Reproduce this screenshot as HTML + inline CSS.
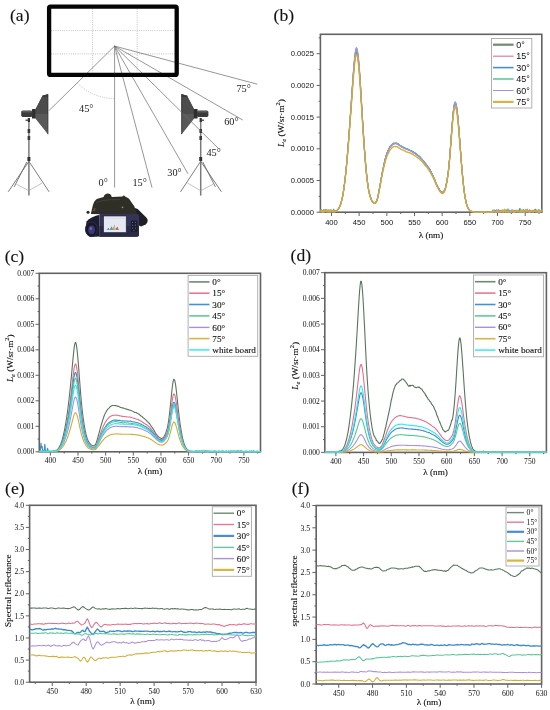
<!DOCTYPE html>
<html><head><meta charset="utf-8"><title>Figure</title>
<style>html,body{margin:0;padding:0;background:#fff;} svg{display:block;} text.b{stroke:#111;stroke-width:0.12px;paint-order:stroke;}</style></head>
<body><svg width="550" height="710" viewBox="0 0 550 710">
<rect width="550" height="710" fill="#fff"/>
<text class="b" x="10.00" y="20.60" font-size="17.6" font-family='"Liberation Serif", "Times New Roman", serif' text-anchor="start" fill="#111" >(a)</text>
<g stroke="#b5b5b5" stroke-width="0.8" stroke-dasharray="1,1.2" fill="none">
<path d="M51,30.6H174.5 M51,53.9H174.5 M92.6,8.7V72.7 M137.2,8.7V72.7"/>
</g>
<path d="M77.48,83.22A52.5,52.5 0 0 0 114.60,98.60" fill="none" stroke="#b0b0b0" stroke-width="0.8" stroke-dasharray="1,1.2"/>
<text x="79" y="111.5" font-size="10.3" font-family='"Liberation Serif", "Times New Roman", serif' fill="#222">45°</text>
<text x="98.6" y="186.3" font-size="10.3" font-family='"Liberation Serif", "Times New Roman", serif' fill="#222">0°</text>
<text x="132.4" y="186.3" font-size="10.3" font-family='"Liberation Serif", "Times New Roman", serif' fill="#222">15°</text>
<text x="167.3" y="176" font-size="10.3" font-family='"Liberation Serif", "Times New Roman", serif' fill="#222">30°</text>
<text x="206.4" y="155.5" font-size="10.3" font-family='"Liberation Serif", "Times New Roman", serif' fill="#222">45°</text>
<text x="224.2" y="124.5" font-size="10.3" font-family='"Liberation Serif", "Times New Roman", serif' fill="#222">60°</text>
<text x="236.4" y="91.8" font-size="10.3" font-family='"Liberation Serif", "Times New Roman", serif' fill="#222">75°</text>

    <g>
      <!-- tripod -->
      <path d="M28.9,121V195.6" stroke="#7a7a7a" stroke-width="1.5"/>
      <path d="M28.9,161.3L8.2,191.8 M28.9,161.3L49.1,191.8 M26.8,162L14.2,186.9" stroke="#6e6e6e" stroke-width="0.9"/>
      <path d="M28.9,190.7L16.4,184.2 M28.9,190.7L42,183.1" stroke="#9a9a9a" stroke-width="0.6"/>
      <rect x="27.4" y="157" width="3" height="4" fill="#333"/>
      <rect x="27.6" y="129" width="2.6" height="4" fill="#3a3a3a"/>
      <rect x="27.6" y="136" width="2.6" height="4" fill="#3a3a3a"/>
      <path d="M25.5,120.2H29.5" stroke="#333" stroke-width="1.2"/>
      <rect x="27.8" y="118" width="2.2" height="4" fill="#333"/>
      <!-- softbox -->
      <path d="M35.6,109 C38.5,104 40.5,99.5 42.4,95.8 L47.9,94.3 L47.9,134.2 L35.6,118.8 Z" fill="#595959"/>
      <path d="M35.6,109 C38.5,104 40.5,99.5 42.4,95.8 L47.9,94.3 L47.9,114 L35.6,114 Z" fill="#4c4c4c"/>
      <path d="M42.4,95.8 L47.9,94.3 L47.9,96.5 L43.5,97.5Z" fill="#3a3a3a"/>
      <path d="M47.9,94.3V134.2" stroke="#333" stroke-width="0.9"/>
      <!-- ring and head -->
      <rect x="32" y="109" width="3.8" height="9.6" rx="0.6" fill="#2e2e2e"/>
      <rect x="21.2" y="110.5" width="11.4" height="6.4" rx="1.6" fill="#3a3a3a"/>
      <rect x="21.6" y="111" width="10.8" height="1.6" rx="0.8" fill="#5a5a5a"/>
    </g>
<g transform="translate(229.6,0) scale(-1,1)">
    <g>
      <!-- tripod -->
      <path d="M28.9,121V195.6" stroke="#7a7a7a" stroke-width="1.5"/>
      <path d="M28.9,161.3L8.2,191.8 M28.9,161.3L49.1,191.8 M26.8,162L14.2,186.9" stroke="#6e6e6e" stroke-width="0.9"/>
      <path d="M28.9,190.7L16.4,184.2 M28.9,190.7L42,183.1" stroke="#9a9a9a" stroke-width="0.6"/>
      <rect x="27.4" y="157" width="3" height="4" fill="#333"/>
      <rect x="27.6" y="129" width="2.6" height="4" fill="#3a3a3a"/>
      <rect x="27.6" y="136" width="2.6" height="4" fill="#3a3a3a"/>
      <path d="M25.5,120.2H29.5" stroke="#333" stroke-width="1.2"/>
      <rect x="27.8" y="118" width="2.2" height="4" fill="#333"/>
      <!-- softbox -->
      <path d="M35.6,109 C38.5,104 40.5,99.5 42.4,95.8 L47.9,94.3 L47.9,134.2 L35.6,118.8 Z" fill="#595959"/>
      <path d="M35.6,109 C38.5,104 40.5,99.5 42.4,95.8 L47.9,94.3 L47.9,114 L35.6,114 Z" fill="#4c4c4c"/>
      <path d="M42.4,95.8 L47.9,94.3 L47.9,96.5 L43.5,97.5Z" fill="#3a3a3a"/>
      <path d="M47.9,94.3V134.2" stroke="#333" stroke-width="0.9"/>
      <!-- ring and head -->
      <rect x="32" y="109" width="3.8" height="9.6" rx="0.6" fill="#2e2e2e"/>
      <rect x="21.2" y="110.5" width="11.4" height="6.4" rx="1.6" fill="#3a3a3a"/>
      <rect x="21.6" y="111" width="10.8" height="1.6" rx="0.8" fill="#5a5a5a"/>
    </g></g>
<g stroke="#6a6a6a" stroke-width="0.7" fill="none">
<path d="M114.6,46.1L49,110.6 M114.6,46.1V187.6 M114.6,46.1L152,187.6 M114.6,46.1L188,173.8 M114.6,46.1L219,149 M114.6,46.1L242.7,120 M114.6,46.1L257.3,84.2"/>
</g>
<rect x="49.1" y="6.7" width="127.6" height="68.2" rx="1.5" fill="none" stroke="#050505" stroke-width="4.3"/>

    <g>
      <path d="M133.6,207.6 L137.7,209 L145.8,217 C147.6,218.6 148.3,220.6 147.2,222.6 L145.8,224.5 L141,226.5 L136,224 Z" fill="#1f1f26"/>
      <path d="M90.8,214 L92.8,205.5 C94,201.5 95.5,199.6 97.5,198.8 L103.6,197 C104,194.6 106,193.4 107.6,193.4 C110,193.4 111.5,194.6 111.7,197 L122.5,196.6 C122.8,195.4 124.6,195.2 125,196.4 C128,197.5 130,199 130.9,201.5 L134.3,206.2 L137.2,215 Z" fill="#302f27"/>
      <path d="M96,203 C100,200.5 108,199.4 120,199.6" stroke="#4a493e" stroke-width="0.7" fill="none"/>
      <circle cx="122.5" cy="207.3" r="0.9" fill="#8a8a80"/>
      <path d="M93.5,208.5 L95.5,208 L95.3,209.2 L93.3,209.7Z" fill="#b04030" opacity="0.8"/>
      <path d="M93.3,209.9 L95.3,209.4 L95.1,210.6 L93.1,211.1Z" fill="#40a050" opacity="0.8"/>
      <path d="M99.5,214 L136.5,214 C138.2,214 139,215 139,216.5 L139,234.5 C139,236 138,236.7 136.5,236.7 L99.5,236.7 Z" fill="#34345a"/>
      <path d="M99.5,226 L139,226 L139,234.5 C139,236 138,236.7 136.5,236.7 L99.5,236.7 Z" fill="#2a2a48"/>
      <rect x="103.6" y="216" width="22.6" height="16.6" fill="#e6e8f2" stroke="#202034" stroke-width="0.6"/>
      <path d="M104.5,218.2 H125" stroke="#c8c8d8" stroke-width="0.4"/>
      <path d="M106.5,229.8 L108.5,228 L110,229.8 L111.5,226.2 L113,229.8 L114.2,224.8 L115.6,229.8 L117.2,226.8 L118.8,229.8 Z" fill="#5a6fd0"/>
      <path d="M110.2,229.8 L111.6,226.4 L113,229.8Z" fill="#44b858"/>
      <path d="M113.4,229.8 L114.4,224.6 L115.6,229.8Z" fill="#e0c040"/>
      <path d="M116,229.8 L117.2,226.6 L118.6,229.8Z" fill="#e05a4a"/>
      <rect x="130.9" y="220.4" width="6.4" height="11.6" rx="1" fill="#1c1c2c"/>
      <g fill="#6a6a88"><circle cx="132.6" cy="222.3" r="0.6"/><circle cx="135.4" cy="222.3" r="0.6"/><circle cx="132.6" cy="225.2" r="0.6"/><circle cx="135.4" cy="225.2" r="0.6"/><circle cx="132.6" cy="228.1" r="0.6"/><circle cx="135.4" cy="228.1" r="0.6"/><circle cx="134" cy="230.6" r="0.6"/></g>
      <path d="M86.5,221.5 C89,218.5 95,215.5 99.5,215 L99.5,236.6 L91,237 C88,236.5 86,234 85.4,230 Z" fill="#1d1d30"/>
      <ellipse cx="91.4" cy="229.3" rx="6" ry="7.3" fill="#18182a" stroke="#303050" stroke-width="0.8"/>
      <ellipse cx="91.6" cy="229.8" rx="3.4" ry="4.4" fill="#3a3a78"/>
      <ellipse cx="90.8" cy="228.6" rx="1.2" ry="1.6" fill="#6a6ab0"/>
      <circle cx="88" cy="212.3" r="1.5" fill="#26262a"/>
    </g>
<text class="b" x="273.60" y="20.70" font-size="17.6" font-family='"Liberation Serif", "Times New Roman", serif' text-anchor="start" fill="#111" >(b)</text>
<g clip-path="none">
<rect x="320.40" y="34.30" width="221.40" height="177.90" fill="none" stroke="#636363" stroke-width="1.6"/>
<path d="M331.47,212.20v3.8 M359.14,212.20v3.8 M386.82,212.20v3.8 M414.49,212.20v3.8 M442.17,212.20v3.8 M469.84,212.20v3.8 M497.52,212.20v3.8 M525.19,212.20v3.8 M345.31,212.20v1.8 M372.98,212.20v1.8 M400.66,212.20v1.8 M428.33,212.20v1.8 M456.01,212.20v1.8 M483.68,212.20v1.8 M511.36,212.20v1.8 M539.03,212.20v1.8 M320.40,212.20h-3.8 M320.40,180.51h-3.8 M320.40,148.81h-3.8 M320.40,117.12h-3.8 M320.40,85.43h-3.8 M320.40,53.73h-3.8 M320.40,196.35h-1.8 M320.40,164.66h-1.8 M320.40,132.97h-1.8 M320.40,101.27h-1.8 M320.40,69.58h-1.8 M320.40,37.89h-1.8" stroke="#636363" stroke-width="1" fill="none"/>
<text x="331.47" y="224.60" font-size="7.6" font-family='"Liberation Sans", Arial, sans-serif' text-anchor="middle" fill="#111" >400</text>
<text x="359.14" y="224.60" font-size="7.6" font-family='"Liberation Sans", Arial, sans-serif' text-anchor="middle" fill="#111" >450</text>
<text x="386.82" y="224.60" font-size="7.6" font-family='"Liberation Sans", Arial, sans-serif' text-anchor="middle" fill="#111" >500</text>
<text x="414.49" y="224.60" font-size="7.6" font-family='"Liberation Sans", Arial, sans-serif' text-anchor="middle" fill="#111" >550</text>
<text x="442.17" y="224.60" font-size="7.6" font-family='"Liberation Sans", Arial, sans-serif' text-anchor="middle" fill="#111" >600</text>
<text x="469.84" y="224.60" font-size="7.6" font-family='"Liberation Sans", Arial, sans-serif' text-anchor="middle" fill="#111" >650</text>
<text x="497.52" y="224.60" font-size="7.6" font-family='"Liberation Sans", Arial, sans-serif' text-anchor="middle" fill="#111" >700</text>
<text x="525.19" y="224.60" font-size="7.6" font-family='"Liberation Sans", Arial, sans-serif' text-anchor="middle" fill="#111" >750</text>
<text x="313.90" y="214.86" font-size="7.6" font-family='"Liberation Sans", Arial, sans-serif' text-anchor="end" fill="#111" >0.0000</text>
<text x="313.90" y="183.17" font-size="7.6" font-family='"Liberation Sans", Arial, sans-serif' text-anchor="end" fill="#111" >0.0005</text>
<text x="313.90" y="151.47" font-size="7.6" font-family='"Liberation Sans", Arial, sans-serif' text-anchor="end" fill="#111" >0.0010</text>
<text x="313.90" y="119.78" font-size="7.6" font-family='"Liberation Sans", Arial, sans-serif' text-anchor="end" fill="#111" >0.0015</text>
<text x="313.90" y="88.09" font-size="7.6" font-family='"Liberation Sans", Arial, sans-serif' text-anchor="end" fill="#111" >0.0020</text>
<text x="313.90" y="56.39" font-size="7.6" font-family='"Liberation Sans", Arial, sans-serif' text-anchor="end" fill="#111" >0.0025</text>
</g>
<polyline points="320.40,210.96 320.95,211.98 321.51,211.36 322.06,211.61 322.61,211.10 323.17,210.95 323.72,211.32 324.27,211.30 324.83,211.31 325.38,210.97 325.94,209.73 326.49,211.59 327.04,212.20 327.60,210.25 328.15,210.76 328.70,211.89 329.26,211.51 329.81,212.20 330.36,211.68 330.92,209.96 331.47,211.05 332.02,210.60 332.58,211.81 333.13,211.18 333.68,210.20 334.24,211.87 334.79,211.66 335.34,211.33 335.90,211.03 336.45,210.77 337.00,210.50 337.56,210.02 338.11,209.40 338.67,208.53 339.22,207.52 339.77,206.36 340.33,204.98 340.88,203.40 341.43,201.51 341.99,199.32 342.54,196.79 343.09,193.75 343.65,190.30 344.20,186.46 344.75,182.16 345.31,177.46 345.86,172.34 346.41,166.79 346.97,160.81 347.52,154.44 348.07,147.74 348.63,140.78 349.18,133.51 349.74,126.08 350.29,118.59 350.84,110.92 351.40,103.20 351.95,95.28 352.50,87.51 353.06,79.99 353.61,72.91 354.16,66.38 354.72,60.71 355.27,56.34 355.82,53.49 356.38,52.22 356.93,52.63 357.48,54.82 358.04,58.41 358.59,63.27 359.14,69.35 359.70,76.52 360.25,84.51 360.81,93.20 361.36,102.41 361.91,111.65 362.47,120.62 363.02,129.10 363.57,137.44 364.13,145.43 364.68,153.05 365.23,160.12 365.79,166.63 366.34,172.58 366.89,177.67 367.45,182.15 368.00,186.16 368.55,189.73 369.11,192.61 369.66,194.86 370.21,196.66 370.77,198.23 371.32,199.57 371.88,200.71 372.43,201.64 372.98,202.25 373.54,202.62 374.09,202.72 374.64,202.75 375.20,202.73 375.75,202.45 376.30,201.75 376.86,200.58 377.41,198.86 377.96,196.49 378.52,193.69 379.07,190.67 379.62,187.73 380.18,184.60 380.73,181.61 381.28,178.31 381.84,175.21 382.39,172.12 382.95,169.50 383.50,166.97 384.05,164.38 384.61,161.94 385.16,159.42 385.71,157.42 386.27,155.39 386.82,153.91 387.37,152.54 387.93,151.26 388.48,149.98 389.03,148.76 389.59,147.76 390.14,146.96 390.69,146.28 391.25,145.73 391.80,145.15 392.35,144.65 392.91,144.24 393.46,143.91 394.02,143.65 394.57,143.57 395.12,143.48 395.68,143.40 396.23,143.40 396.78,143.50 397.34,143.85 397.89,144.08 398.44,144.40 399.00,144.73 399.55,145.24 400.10,145.68 400.66,146.01 401.21,146.15 401.76,146.52 402.32,146.74 402.87,147.35 403.42,147.63 403.98,148.04 404.53,148.12 405.09,148.35 405.64,148.52 406.19,148.56 406.75,148.73 407.30,148.84 407.85,149.19 408.41,149.40 408.96,149.92 409.51,150.16 410.07,150.39 410.62,150.56 411.17,150.90 411.73,151.31 412.28,151.35 412.83,151.70 413.39,152.02 413.94,152.76 414.49,153.16 415.05,153.45 415.60,153.72 416.16,154.20 416.71,154.64 417.26,154.94 417.82,155.13 418.37,155.53 418.92,156.06 419.48,156.36 420.03,156.97 420.58,157.46 421.14,158.39 421.69,159.02 422.24,159.82 422.80,160.35 423.35,161.00 423.90,161.64 424.46,162.52 425.01,163.16 425.56,163.74 426.12,164.24 426.67,165.03 427.23,165.78 427.78,166.52 428.33,167.23 428.89,167.95 429.44,168.87 429.99,169.79 430.55,170.99 431.10,171.82 431.65,172.99 432.21,173.98 432.76,175.28 433.31,176.49 433.87,177.77 434.42,179.06 434.97,180.35 435.53,181.74 436.08,183.17 436.63,184.50 437.19,185.69 437.74,186.76 438.30,187.73 438.85,188.64 439.40,189.61 439.96,190.52 440.51,191.23 441.06,191.74 441.62,191.99 442.17,192.24 442.72,192.19 443.28,191.95 443.83,191.36 444.38,190.65 444.94,189.43 445.49,187.70 446.04,185.19 446.60,182.50 447.15,179.45 447.70,176.18 448.26,172.34 448.81,167.44 449.37,161.55 449.92,154.59 450.47,147.55 451.03,140.06 451.58,132.63 452.13,125.42 452.69,118.75 453.24,113.05 453.79,108.25 454.35,105.19 454.90,103.52 455.45,103.57 456.01,104.93 456.56,107.50 457.11,111.17 457.67,115.95 458.22,121.70 458.77,128.19 459.33,135.14 459.88,142.51 460.44,150.16 460.99,157.45 461.54,164.46 462.10,170.97 462.65,177.08 463.20,182.58 463.76,187.66 464.31,192.07 464.86,195.92 465.42,198.93 465.97,201.64 466.52,203.76 467.08,205.69 467.63,207.17 468.18,208.43 468.74,209.29 469.29,209.97 469.84,210.36 470.40,210.83 470.95,211.11 471.51,211.53 472.06,211.74 472.61,211.92 473.17,212.04 473.72,211.99 474.27,212.06 474.83,212.02 475.38,212.04 475.93,211.89 476.49,211.91 477.04,212.12 477.59,212.20 478.15,212.20 478.70,212.04 479.25,212.03 479.81,212.10 480.36,212.13 480.91,212.05 481.47,212.01 482.02,212.06 482.58,212.12 483.13,211.92 483.68,211.99 484.24,212.05 484.79,212.20 485.34,212.17 485.90,212.16 486.45,212.12 487.00,212.11 487.56,211.94 488.11,211.99 488.66,212.08 489.22,212.20 489.77,212.20 490.32,212.20 490.88,212.20 491.43,212.20 491.98,211.99 492.54,211.22 493.09,211.65 493.65,211.52 494.20,210.22 494.75,211.72 495.31,212.20 495.86,211.73 496.41,211.85 496.97,211.74 497.52,210.69 498.07,212.20 498.63,209.79 499.18,210.63 499.73,211.97 500.29,211.96 500.84,210.74 501.39,210.95 501.95,211.88 502.50,211.85 503.05,211.79 503.61,211.36 504.16,212.20 504.72,211.21 505.27,210.79 505.82,211.13 506.38,210.30 506.93,211.66 507.48,212.06 508.04,211.97 508.59,211.94 509.14,210.19 509.70,212.17 510.25,211.97 510.80,211.72 511.36,211.82 511.91,211.78 512.46,211.68 513.02,210.59 513.57,211.72 514.12,211.57 514.68,211.80 515.23,210.88 515.79,211.08 516.34,211.94 516.89,210.10 517.45,211.17 518.00,211.99 518.55,211.31 519.11,211.23 519.66,211.11 520.21,209.91 520.77,210.24 521.32,211.36 521.87,211.81 522.43,210.30 522.98,211.93 523.53,210.78 524.09,211.48 524.64,210.98 525.19,210.78 525.75,209.91 526.30,211.97 526.86,211.90 527.41,211.42 527.96,211.79 528.52,211.42 529.07,210.95 529.62,209.92 530.18,211.22 530.73,211.82 531.28,211.21 531.84,212.20 532.39,210.68 532.94,211.49 533.50,210.59 534.05,211.43 534.60,211.68 535.16,209.30 535.71,211.15 536.26,211.01 536.82,209.92 537.37,211.05 537.93,211.79 538.48,211.68 539.03,210.73 539.59,211.57 540.14,211.08 540.69,211.88 541.25,211.99 541.80,211.03" fill="none" stroke="#56765b" stroke-width="1.1" stroke-linejoin="round" opacity="1"/>
<polyline points="320.40,211.24 320.95,209.77 321.51,211.42 322.06,211.33 322.61,211.90 323.17,211.79 323.72,210.25 324.27,210.93 324.83,211.44 325.38,211.39 325.94,211.23 326.49,211.00 327.04,210.29 327.60,211.81 328.15,211.69 328.70,210.17 329.26,212.00 329.81,210.27 330.36,211.75 330.92,210.77 331.47,212.08 332.02,211.19 332.58,211.88 333.13,212.05 333.68,210.42 334.24,211.90 334.79,211.71 335.34,211.55 335.90,211.27 336.45,210.85 337.00,210.38 337.56,209.91 338.11,209.30 338.67,208.47 339.22,207.50 339.77,206.34 340.33,204.94 340.88,203.28 341.43,201.41 341.99,199.18 342.54,196.53 343.09,193.41 343.65,190.06 344.20,186.24 344.75,182.01 345.31,177.26 345.86,172.00 346.41,166.27 346.97,160.15 347.52,153.64 348.07,146.84 348.63,139.71 349.18,132.46 349.74,124.94 350.29,117.36 350.84,109.54 351.40,101.69 351.95,93.84 352.50,86.03 353.06,78.43 353.61,71.05 354.16,64.51 354.72,58.86 355.27,54.44 355.82,51.46 356.38,50.08 356.93,50.59 357.48,52.79 358.04,56.54 358.59,61.47 359.14,67.64 359.70,74.82 360.25,82.91 360.81,91.67 361.36,100.81 361.91,110.25 362.47,119.32 363.02,128.09 363.57,136.41 364.13,144.67 364.68,152.34 365.23,159.60 365.79,166.06 366.34,171.98 366.89,177.27 367.45,181.97 368.00,186.16 368.55,189.49 369.11,192.25 369.66,194.38 370.21,196.40 370.77,198.15 371.32,199.65 371.88,200.57 372.43,201.36 372.98,202.07 373.54,202.57 374.09,202.84 374.64,202.92 375.20,202.94 375.75,202.58 376.30,201.79 376.86,200.49 377.41,198.75 377.96,196.55 378.52,193.84 379.07,190.80 379.62,187.69 380.18,184.68 380.73,181.54 381.28,178.36 381.84,175.06 382.39,172.21 382.95,169.50 383.50,167.08 384.05,164.43 384.61,161.77 385.16,159.43 385.71,157.49 386.27,155.78 386.82,154.14 387.37,152.64 387.93,151.37 388.48,150.09 389.03,148.90 389.59,147.91 390.14,147.01 390.69,146.36 391.25,145.64 391.80,145.24 392.35,144.78 392.91,144.34 393.46,143.96 394.02,143.67 394.57,143.62 395.12,143.46 395.68,143.46 396.23,143.51 396.78,143.77 397.34,144.10 397.89,144.52 398.44,144.87 399.00,145.27 399.55,145.63 400.10,145.99 400.66,146.27 401.21,146.63 401.76,147.13 402.32,147.50 402.87,147.78 403.42,147.84 403.98,148.05 404.53,148.35 405.09,148.71 405.64,148.81 406.19,148.91 406.75,148.92 407.30,149.12 407.85,149.47 408.41,149.82 408.96,150.20 409.51,150.35 410.07,150.61 410.62,150.91 411.17,151.23 411.73,151.70 412.28,152.04 412.83,152.44 413.39,152.65 413.94,153.02 414.49,153.27 415.05,153.59 415.60,153.91 416.16,154.33 416.71,154.79 417.26,155.27 417.82,155.74 418.37,156.25 418.92,156.66 419.48,157.15 420.03,157.61 420.58,158.32 421.14,158.85 421.69,159.59 422.24,160.18 422.80,160.92 423.35,161.57 423.90,162.17 424.46,162.90 425.01,163.66 425.56,164.48 426.12,165.05 426.67,165.70 427.23,166.46 427.78,167.31 428.33,168.21 428.89,168.74 429.44,169.70 429.99,170.41 430.55,171.47 431.10,172.48 431.65,173.58 432.21,174.67 432.76,175.67 433.31,176.87 433.87,178.11 434.42,179.42 434.97,180.75 435.53,182.19 436.08,183.48 436.63,184.85 437.19,185.96 437.74,187.17 438.30,188.24 438.85,189.28 439.40,190.02 439.96,190.67 440.51,191.42 441.06,192.03 441.62,192.52 442.17,192.68 442.72,192.69 443.28,192.56 443.83,191.99 444.38,191.25 444.94,189.86 445.49,188.23 446.04,186.00 446.60,183.34 447.15,180.13 447.70,176.43 448.26,172.35 448.81,167.50 449.37,161.86 449.92,155.35 450.47,148.21 451.03,140.66 451.58,133.04 452.13,125.83 452.69,119.20 453.24,113.49 453.79,109.03 454.35,105.87 454.90,104.13 455.45,103.98 456.01,105.23 456.56,107.70 457.11,111.52 457.67,116.42 458.22,122.25 458.77,128.62 459.33,135.55 459.88,142.91 460.44,150.24 460.99,157.39 461.54,164.27 462.10,170.98 462.65,177.20 463.20,182.71 463.76,187.58 464.31,192.03 464.86,195.76 465.42,199.09 465.97,201.67 466.52,204.01 467.08,205.80 467.63,207.18 468.18,208.29 468.74,209.18 469.29,209.92 469.84,210.51 470.40,210.97 470.95,211.37 471.51,211.54 472.06,211.51 472.61,211.57 473.17,211.68 473.72,211.77 474.27,211.86 474.83,211.81 475.38,211.87 475.93,211.86 476.49,211.94 477.04,212.05 477.59,212.15 478.15,212.09 478.70,211.99 479.25,211.97 479.81,212.08 480.36,212.15 480.91,212.11 481.47,212.20 482.02,212.15 482.58,212.20 483.13,212.15 483.68,212.20 484.24,212.20 484.79,212.20 485.34,212.20 485.90,212.20 486.45,212.20 487.00,212.20 487.56,211.96 488.11,211.98 488.66,211.98 489.22,212.20 489.77,212.17 490.32,212.20 490.88,212.20 491.43,212.20 491.98,212.20 492.54,210.79 493.09,211.78 493.65,211.10 494.20,209.94 494.75,210.94 495.31,211.13 495.86,211.05 496.41,211.86 496.97,210.97 497.52,210.93 498.07,210.27 498.63,211.45 499.18,210.95 499.73,211.19 500.29,211.25 500.84,210.92 501.39,211.58 501.95,211.69 502.50,210.38 503.05,211.75 503.61,211.61 504.16,211.83 504.72,210.87 505.27,211.28 505.82,212.00 506.38,209.87 506.93,211.16 507.48,211.27 508.04,211.51 508.59,211.14 509.14,210.78 509.70,210.54 510.25,211.22 510.80,210.71 511.36,212.20 511.91,211.29 512.46,211.87 513.02,211.60 513.57,210.76 514.12,210.25 514.68,210.56 515.23,211.24 515.79,211.55 516.34,211.88 516.89,211.52 517.45,211.62 518.00,211.74 518.55,210.86 519.11,210.24 519.66,209.60 520.21,212.10 520.77,211.85 521.32,211.57 521.87,210.61 522.43,211.22 522.98,211.08 523.53,212.16 524.09,212.10 524.64,211.31 525.19,211.47 525.75,211.73 526.30,211.93 526.86,210.56 527.41,209.15 527.96,212.07 528.52,211.85 529.07,211.40 529.62,212.13 530.18,211.10 530.73,211.36 531.28,211.73 531.84,211.29 532.39,210.71 532.94,211.58 533.50,211.16 534.05,211.48 534.60,210.54 535.16,212.07 535.71,211.89 536.26,212.10 536.82,210.64 537.37,210.73 537.93,212.09 538.48,211.38 539.03,212.13 539.59,211.56 540.14,211.20 540.69,211.98 541.25,211.17 541.80,210.45" fill="none" stroke="#e3708c" stroke-width="1.1" stroke-linejoin="round" opacity="1"/>
<polyline points="320.40,211.44 320.95,209.65 321.51,211.00 322.06,210.83 322.61,211.47 323.17,211.23 323.72,212.20 324.27,210.93 324.83,210.00 325.38,209.75 325.94,209.98 326.49,210.61 327.04,211.91 327.60,211.63 328.15,211.72 328.70,210.97 329.26,211.45 329.81,211.07 330.36,211.22 330.92,210.47 331.47,211.62 332.02,211.66 332.58,210.48 333.13,210.77 333.68,209.19 334.24,211.81 334.79,211.66 335.34,211.40 335.90,211.21 336.45,210.81 337.00,210.47 337.56,209.90 338.11,209.37 338.67,208.56 339.22,207.59 339.77,206.35 340.33,204.97 340.88,203.30 341.43,201.26 341.99,198.92 342.54,196.31 343.09,193.31 343.65,189.88 344.20,185.91 344.75,181.57 345.31,176.77 345.86,171.64 346.41,166.00 346.97,159.83 347.52,153.25 348.07,146.38 348.63,139.24 349.18,131.89 349.74,124.27 350.29,116.49 350.84,108.53 351.40,100.61 351.95,92.69 352.50,84.74 353.06,77.09 353.61,69.85 354.16,63.31 354.72,57.69 355.27,53.31 355.82,50.36 356.38,48.93 356.93,49.30 357.48,51.64 358.04,55.49 358.59,60.57 359.14,66.72 359.70,73.86 360.25,81.94 360.81,90.72 361.36,100.03 361.91,109.41 362.47,118.68 363.02,127.52 363.57,136.02 364.13,144.12 364.68,151.78 365.23,159.00 365.79,165.60 366.34,171.56 366.89,177.03 367.45,181.80 368.00,185.88 368.55,189.21 369.11,192.16 369.66,194.47 370.21,196.45 370.77,198.00 371.32,199.47 371.88,200.54 372.43,201.49 372.98,202.06 373.54,202.52 374.09,202.72 374.64,202.92 375.20,203.03 375.75,202.68 376.30,201.89 376.86,200.52 377.41,198.71 377.96,196.40 378.52,193.59 379.07,190.53 379.62,187.47 380.18,184.39 380.73,181.27 381.28,177.96 381.84,174.88 382.39,171.93 382.95,169.37 383.50,166.57 384.05,163.97 384.61,161.29 385.16,159.08 385.71,157.10 386.27,155.26 386.82,153.55 387.37,152.05 387.93,150.87 388.48,149.66 389.03,148.51 389.59,147.25 390.14,146.46 390.69,145.72 391.25,145.21 391.80,144.65 392.35,144.14 392.91,143.60 393.46,143.21 394.02,143.04 394.57,143.18 395.12,143.11 395.68,143.03 396.23,143.00 396.78,143.22 397.34,143.47 397.89,143.74 398.44,144.09 399.00,144.42 399.55,145.00 400.10,145.43 400.66,145.89 401.21,146.11 401.76,146.46 402.32,146.76 402.87,146.99 403.42,147.16 403.98,147.42 404.53,147.67 405.09,147.90 405.64,148.21 406.19,148.50 406.75,148.64 407.30,148.85 407.85,149.05 408.41,149.42 408.96,149.65 409.51,150.00 410.07,150.23 410.62,150.41 411.17,150.59 411.73,151.02 412.28,151.38 412.83,151.70 413.39,151.85 413.94,152.12 414.49,152.45 415.05,152.81 415.60,153.18 416.16,153.71 416.71,154.20 417.26,154.74 417.82,155.31 418.37,155.91 418.92,156.16 419.48,156.57 420.03,157.16 420.58,157.96 421.14,158.35 421.69,158.79 422.24,159.36 422.80,160.16 423.35,160.83 423.90,161.45 424.46,162.07 425.01,162.79 425.56,163.55 426.12,164.27 426.67,165.02 427.23,165.82 427.78,166.63 428.33,167.44 428.89,168.16 429.44,169.03 429.99,169.92 430.55,171.11 431.10,172.23 431.65,173.15 432.21,174.24 432.76,175.28 433.31,176.65 433.87,177.76 434.42,179.04 434.97,180.42 435.53,181.86 436.08,183.25 436.63,184.46 437.19,185.63 437.74,186.79 438.30,187.82 438.85,188.72 439.40,189.59 439.96,190.54 440.51,191.30 441.06,191.87 441.62,192.15 442.17,192.22 442.72,192.20 443.28,191.95 443.83,191.63 444.38,190.79 444.94,189.58 445.49,187.57 446.04,185.22 446.60,182.52 447.15,179.43 447.70,176.11 448.26,171.94 448.81,167.14 449.37,161.11 449.92,154.46 450.47,147.25 451.03,139.75 451.58,132.09 452.13,125.00 452.69,118.31 453.24,112.55 453.79,107.75 454.35,104.59 454.90,102.92 455.45,102.88 456.01,104.03 456.56,106.56 457.11,110.35 457.67,115.51 458.22,121.47 458.77,128.10 459.33,134.92 459.88,142.09 460.44,149.41 460.99,156.62 461.54,163.69 462.10,170.33 462.65,176.74 463.20,182.46 463.76,187.64 464.31,191.88 464.86,195.67 465.42,198.67 465.97,201.44 466.52,203.84 467.08,205.71 467.63,207.11 468.18,207.97 468.74,209.00 469.29,209.85 469.84,210.52 470.40,210.93 470.95,211.27 471.51,211.59 472.06,211.47 472.61,211.54 473.17,211.64 473.72,211.96 474.27,211.96 474.83,211.83 475.38,211.75 475.93,211.72 476.49,211.85 477.04,211.93 477.59,212.06 478.15,212.20 478.70,212.06 479.25,212.06 479.81,211.88 480.36,212.07 480.91,212.05 481.47,212.15 482.02,212.20 482.58,212.20 483.13,212.20 483.68,212.05 484.24,212.01 484.79,211.97 485.34,212.01 485.90,212.05 486.45,212.20 487.00,212.20 487.56,212.20 488.11,212.08 488.66,211.98 489.22,212.12 489.77,212.18 490.32,212.08 490.88,212.04 491.43,211.89 491.98,212.00 492.54,211.84 493.09,210.97 493.65,211.08 494.20,211.74 494.75,211.09 495.31,210.72 495.86,210.37 496.41,210.29 496.97,211.08 497.52,211.33 498.07,211.47 498.63,211.45 499.18,211.84 499.73,212.09 500.29,212.20 500.84,210.22 501.39,211.43 501.95,211.05 502.50,210.54 503.05,210.68 503.61,211.72 504.16,210.78 504.72,211.42 505.27,211.54 505.82,211.32 506.38,211.54 506.93,211.20 507.48,211.47 508.04,209.42 508.59,211.36 509.14,211.09 509.70,211.47 510.25,211.77 510.80,211.25 511.36,212.16 511.91,211.53 512.46,211.46 513.02,211.45 513.57,212.06 514.12,211.63 514.68,211.42 515.23,210.38 515.79,211.80 516.34,210.51 516.89,211.81 517.45,211.75 518.00,211.50 518.55,211.09 519.11,211.81 519.66,208.64 520.21,208.84 520.77,210.32 521.32,211.30 521.87,212.20 522.43,211.29 522.98,211.68 523.53,211.60 524.09,210.98 524.64,210.47 525.19,211.74 525.75,211.81 526.30,211.71 526.86,211.59 527.41,212.05 527.96,211.83 528.52,211.42 529.07,212.01 529.62,211.92 530.18,210.68 530.73,211.81 531.28,211.78 531.84,211.86 532.39,211.40 532.94,211.94 533.50,212.00 534.05,211.39 534.60,210.65 535.16,209.40 535.71,211.41 536.26,211.84 536.82,211.87 537.37,212.07 537.93,211.23 538.48,211.37 539.03,211.39 539.59,211.91 540.14,211.50 540.69,211.73 541.25,211.06 541.80,212.03" fill="none" stroke="#3b8bd0" stroke-width="1.1" stroke-linejoin="round" opacity="1"/>
<polyline points="320.40,210.99 320.95,210.75 321.51,211.55 322.06,210.73 322.61,210.90 323.17,210.27 323.72,211.29 324.27,211.45 324.83,209.79 325.38,211.20 325.94,210.40 326.49,210.71 327.04,211.55 327.60,211.29 328.15,211.22 328.70,209.92 329.26,212.20 329.81,211.86 330.36,211.66 330.92,211.85 331.47,210.82 332.02,211.26 332.58,211.64 333.13,209.97 333.68,211.40 334.24,211.70 334.79,211.51 335.34,211.45 335.90,211.14 336.45,210.82 337.00,210.33 337.56,209.86 338.11,209.32 338.67,208.56 339.22,207.54 339.77,206.30 340.33,204.92 340.88,203.39 341.43,201.46 341.99,199.25 342.54,196.59 343.09,193.64 343.65,190.09 344.20,186.18 344.75,181.79 345.31,177.04 345.86,171.87 346.41,166.21 346.97,160.08 347.52,153.60 348.07,146.81 348.63,139.84 349.18,132.48 349.74,124.96 350.29,117.22 350.84,109.45 351.40,101.53 351.95,93.71 352.50,85.93 353.06,78.41 353.61,71.11 354.16,64.55 354.72,58.92 355.27,54.47 355.82,51.36 356.38,49.94 356.93,50.62 357.48,53.03 358.04,56.81 358.59,61.72 359.14,67.87 359.70,74.89 360.25,82.91 360.81,91.73 361.36,101.05 361.91,110.33 362.47,119.33 363.02,128.11 363.57,136.52 364.13,144.64 364.68,152.44 365.23,159.72 365.79,166.24 366.34,171.99 366.89,177.19 367.45,181.96 368.00,186.06 368.55,189.55 369.11,192.38 369.66,194.60 370.21,196.41 370.77,197.93 371.32,199.45 371.88,200.58 372.43,201.42 372.98,202.10 373.54,202.56 374.09,202.91 374.64,202.92 375.20,202.74 375.75,202.35 376.30,201.70 376.86,200.56 377.41,198.88 377.96,196.52 378.52,193.62 379.07,190.67 379.62,187.55 380.18,184.65 380.73,181.38 381.28,178.23 381.84,175.09 382.39,172.21 382.95,169.36 383.50,166.76 384.05,164.23 384.61,161.93 385.16,159.47 385.71,157.35 386.27,155.48 386.82,153.96 387.37,152.28 387.93,150.87 388.48,149.56 389.03,148.61 389.59,147.64 390.14,146.90 390.69,146.19 391.25,145.51 391.80,144.99 392.35,144.24 392.91,143.74 393.46,143.29 394.02,143.35 394.57,143.41 395.12,143.33 395.68,143.35 396.23,143.33 396.78,143.66 397.34,143.84 397.89,144.01 398.44,144.25 399.00,144.58 399.55,145.11 400.10,145.39 400.66,145.75 401.21,146.12 401.76,146.61 402.32,147.02 402.87,147.35 403.42,147.64 403.98,147.89 404.53,148.09 405.09,148.33 405.64,148.59 406.19,148.60 406.75,148.67 407.30,148.87 407.85,149.12 408.41,149.46 408.96,149.91 409.51,150.53 410.07,150.88 410.62,150.94 411.17,151.00 411.73,151.35 412.28,151.60 412.83,152.10 413.39,152.24 413.94,152.65 414.49,152.88 415.05,153.27 415.60,153.68 416.16,154.20 416.71,154.58 417.26,154.94 417.82,155.20 418.37,155.47 418.92,155.94 419.48,156.46 420.03,157.09 420.58,157.73 421.14,158.50 421.69,159.45 422.24,160.01 422.80,160.51 423.35,160.92 423.90,161.74 424.46,162.46 425.01,163.09 425.56,163.77 426.12,164.62 426.67,165.56 427.23,166.21 427.78,166.95 428.33,167.89 428.89,168.99 429.44,169.84 429.99,170.45 430.55,171.20 431.10,172.18 431.65,173.44 432.21,174.59 432.76,175.72 433.31,176.86 433.87,178.11 434.42,179.45 434.97,180.59 435.53,182.13 436.08,183.39 436.63,184.91 437.19,185.84 437.74,186.99 438.30,187.93 438.85,188.96 439.40,189.86 439.96,190.63 440.51,191.47 441.06,191.94 441.62,192.42 442.17,192.46 442.72,192.37 443.28,191.97 443.83,191.29 444.38,190.77 444.94,189.68 445.49,187.99 446.04,185.61 446.60,182.85 447.15,179.75 447.70,176.13 448.26,172.17 448.81,167.43 449.37,161.61 449.92,154.82 450.47,147.60 451.03,140.11 451.58,132.71 452.13,125.45 452.69,118.89 453.24,112.95 453.79,108.29 454.35,105.03 454.90,103.32 455.45,103.28 456.01,104.57 456.56,107.20 457.11,111.10 457.67,116.02 458.22,121.87 458.77,128.35 459.33,135.23 459.88,142.72 460.44,150.12 460.99,157.66 461.54,164.53 462.10,171.11 462.65,177.09 463.20,182.54 463.76,187.52 464.31,192.12 464.86,196.07 465.42,199.19 465.97,201.52 466.52,203.64 467.08,205.70 467.63,207.10 468.18,208.43 468.74,209.17 469.29,210.05 469.84,210.39 470.40,210.91 470.95,211.25 471.51,211.41 472.06,211.52 472.61,211.73 473.17,211.92 473.72,211.94 474.27,211.90 474.83,212.01 475.38,212.01 475.93,212.04 476.49,212.09 477.04,212.14 477.59,212.15 478.15,212.06 478.70,212.20 479.25,212.20 479.81,212.20 480.36,212.09 480.91,212.01 481.47,212.04 482.02,212.06 482.58,212.02 483.13,211.90 483.68,211.92 484.24,212.05 484.79,212.15 485.34,212.20 485.90,212.20 486.45,212.20 487.00,212.20 487.56,212.19 488.11,212.15 488.66,212.20 489.22,212.20 489.77,212.20 490.32,212.20 490.88,212.20 491.43,212.20 491.98,212.19 492.54,210.40 493.09,209.89 493.65,211.89 494.20,211.44 494.75,211.53 495.31,212.16 495.86,211.73 496.41,211.96 496.97,212.20 497.52,211.09 498.07,211.92 498.63,210.75 499.18,211.58 499.73,211.00 500.29,212.05 500.84,211.70 501.39,210.32 501.95,211.17 502.50,210.83 503.05,211.98 503.61,210.60 504.16,210.75 504.72,211.19 505.27,210.14 505.82,211.77 506.38,210.99 506.93,210.29 507.48,211.83 508.04,208.72 508.59,212.20 509.14,210.89 509.70,211.53 510.25,211.52 510.80,212.00 511.36,211.77 511.91,211.48 512.46,211.06 513.02,210.06 513.57,211.77 514.12,212.02 514.68,210.48 515.23,211.62 515.79,211.02 516.34,211.27 516.89,210.57 517.45,211.63 518.00,211.77 518.55,210.52 519.11,212.01 519.66,211.28 520.21,212.06 520.77,209.30 521.32,212.08 521.87,211.02 522.43,211.62 522.98,209.95 523.53,209.41 524.09,211.65 524.64,212.19 525.19,212.10 525.75,211.12 526.30,212.00 526.86,212.06 527.41,211.72 527.96,211.11 528.52,211.52 529.07,211.11 529.62,211.70 530.18,211.03 530.73,211.70 531.28,211.26 531.84,211.57 532.39,211.18 532.94,210.99 533.50,212.16 534.05,211.20 534.60,211.52 535.16,211.20 535.71,211.33 536.26,211.51 536.82,210.63 537.37,211.00 537.93,212.20 538.48,212.20 539.03,209.78 539.59,212.04 540.14,211.44 540.69,211.31 541.25,210.75 541.80,209.49" fill="none" stroke="#55c894" stroke-width="1.1" stroke-linejoin="round" opacity="1"/>
<polyline points="320.40,211.57 320.95,211.64 321.51,211.73 322.06,212.20 322.61,212.20 323.17,212.09 323.72,209.63 324.27,211.81 324.83,211.84 325.38,211.55 325.94,210.98 326.49,211.63 327.04,211.99 327.60,211.05 328.15,211.19 328.70,211.09 329.26,210.11 329.81,211.96 330.36,211.18 330.92,211.80 331.47,210.09 332.02,211.59 332.58,211.29 333.13,211.45 333.68,210.22 334.24,211.68 334.79,211.63 335.34,211.41 335.90,211.21 336.45,210.76 337.00,210.38 337.56,209.88 338.11,209.28 338.67,208.53 339.22,207.47 339.77,206.29 340.33,204.79 340.88,203.23 341.43,201.18 341.99,198.93 342.54,196.13 343.09,193.11 343.65,189.66 344.20,185.78 344.75,181.46 345.31,176.53 345.86,171.17 346.41,165.36 346.97,159.16 347.52,152.75 348.07,145.89 348.63,138.76 349.18,131.22 349.74,123.63 350.29,115.82 350.84,107.93 351.40,99.98 351.95,92.07 352.50,84.12 353.06,76.34 353.61,69.00 354.16,62.29 354.72,56.48 355.27,51.91 355.82,48.90 356.38,47.57 356.93,48.08 357.48,50.44 358.04,54.14 358.59,59.10 359.14,65.38 359.70,72.72 360.25,81.00 360.81,89.98 361.36,99.36 361.91,108.75 362.47,117.92 363.02,126.72 363.57,135.36 364.13,143.50 364.68,151.33 365.23,158.61 365.79,165.48 366.34,171.59 366.89,177.01 367.45,181.69 368.00,185.78 368.55,189.11 369.11,191.97 369.66,194.34 370.21,196.48 370.77,198.17 371.32,199.68 371.88,200.69 372.43,201.56 372.98,202.10 373.54,202.56 374.09,202.79 374.64,202.85 375.20,202.78 375.75,202.46 376.30,201.75 376.86,200.50 377.41,198.60 377.96,196.29 378.52,193.50 379.07,190.69 379.62,187.69 380.18,184.81 380.73,181.58 381.28,178.51 381.84,175.42 382.39,172.48 382.95,169.67 383.50,166.98 384.05,164.41 384.61,161.94 385.16,159.53 385.71,157.55 386.27,155.63 386.82,153.98 387.37,152.47 387.93,151.06 388.48,149.95 389.03,148.88 389.59,148.05 390.14,147.10 390.69,146.34 391.25,145.68 391.80,145.11 392.35,144.46 392.91,144.06 393.46,143.90 394.02,143.86 394.57,143.72 395.12,143.64 395.68,143.65 396.23,143.91 396.78,144.03 397.34,144.25 397.89,144.34 398.44,144.65 399.00,144.96 399.55,145.46 400.10,145.82 400.66,146.39 401.21,146.74 401.76,147.06 402.32,147.22 402.87,147.64 403.42,147.97 403.98,148.33 404.53,148.48 405.09,148.73 405.64,148.90 406.19,148.93 406.75,149.27 407.30,149.53 407.85,149.88 408.41,150.15 408.96,150.27 409.51,150.38 410.07,150.55 410.62,150.90 411.17,151.35 411.73,151.58 412.28,151.97 412.83,152.21 413.39,152.66 413.94,152.85 414.49,153.25 415.05,153.33 415.60,153.96 416.16,154.39 416.71,155.10 417.26,155.39 417.82,155.78 418.37,156.21 418.92,156.79 419.48,157.48 420.03,157.93 420.58,158.28 421.14,158.65 421.69,159.28 422.24,160.11 422.80,160.89 423.35,161.68 423.90,162.42 424.46,163.00 425.01,163.61 425.56,164.18 426.12,165.02 426.67,165.63 427.23,166.27 427.78,167.05 428.33,167.95 428.89,168.92 429.44,169.57 429.99,170.32 430.55,171.23 431.10,172.17 431.65,173.35 432.21,174.56 432.76,176.09 433.31,177.30 433.87,178.41 434.42,179.57 434.97,180.86 435.53,182.14 436.08,183.42 436.63,184.65 437.19,185.80 437.74,186.86 438.30,188.03 438.85,189.14 439.40,190.07 439.96,190.66 440.51,191.41 441.06,192.11 441.62,192.63 442.17,192.75 442.72,192.61 443.28,192.28 443.83,191.72 444.38,190.73 444.94,189.57 445.49,187.84 446.04,185.63 446.60,182.86 447.15,179.60 447.70,176.04 448.26,171.90 448.81,166.93 449.37,161.01 449.92,154.13 450.47,146.82 451.03,139.24 451.58,131.70 452.13,124.43 452.69,117.75 453.24,111.91 453.79,107.14 454.35,103.73 454.90,102.06 455.45,101.87 456.01,103.35 456.56,105.89 457.11,109.91 457.67,114.68 458.22,120.67 458.77,127.30 459.33,134.51 459.88,141.72 460.44,149.15 460.99,156.47 461.54,163.62 462.10,170.20 462.65,176.39 463.20,182.01 463.76,187.29 464.31,191.71 464.86,195.71 465.42,198.81 465.97,201.57 466.52,203.78 467.08,205.78 467.63,207.26 468.18,208.34 468.74,209.20 469.29,209.92 469.84,210.49 470.40,210.89 470.95,211.19 471.51,211.37 472.06,211.39 472.61,211.46 473.17,211.62 473.72,211.67 474.27,211.68 474.83,211.70 475.38,211.78 475.93,211.95 476.49,212.01 477.04,212.17 477.59,212.02 478.15,211.96 478.70,211.90 479.25,212.03 479.81,212.08 480.36,212.08 480.91,212.04 481.47,211.86 482.02,211.97 482.58,211.91 483.13,212.02 483.68,212.09 484.24,212.14 484.79,212.07 485.34,211.86 485.90,211.92 486.45,212.03 487.00,212.20 487.56,212.20 488.11,212.20 488.66,212.19 489.22,212.20 489.77,212.20 490.32,212.03 490.88,212.13 491.43,212.15 491.98,212.20 492.54,212.02 493.09,211.60 493.65,212.14 494.20,212.06 494.75,211.66 495.31,211.84 495.86,211.36 496.41,210.64 496.97,209.63 497.52,212.09 498.07,210.75 498.63,211.71 499.18,210.41 499.73,212.07 500.29,211.48 500.84,211.91 501.39,212.04 501.95,212.20 502.50,211.75 503.05,210.39 503.61,210.13 504.16,210.96 504.72,210.90 505.27,211.51 505.82,211.88 506.38,211.68 506.93,211.77 507.48,211.07 508.04,211.41 508.59,211.34 509.14,210.97 509.70,211.86 510.25,210.80 510.80,211.30 511.36,209.80 511.91,212.04 512.46,209.84 513.02,211.21 513.57,211.91 514.12,210.62 514.68,211.20 515.23,211.20 515.79,211.97 516.34,211.81 516.89,211.02 517.45,211.59 518.00,210.76 518.55,211.58 519.11,211.79 519.66,211.51 520.21,211.54 520.77,211.12 521.32,211.53 521.87,211.78 522.43,211.33 522.98,212.08 523.53,210.13 524.09,211.97 524.64,211.31 525.19,210.57 525.75,211.25 526.30,209.99 526.86,211.90 527.41,210.24 527.96,210.30 528.52,210.60 529.07,210.90 529.62,211.96 530.18,211.07 530.73,211.30 531.28,211.01 531.84,211.21 532.39,211.80 532.94,211.21 533.50,211.41 534.05,209.94 534.60,210.84 535.16,211.52 535.71,210.83 536.26,211.68 536.82,211.67 537.37,211.28 537.93,211.86 538.48,209.67 539.03,209.86 539.59,211.29 540.14,212.20 540.69,211.79 541.25,211.63 541.80,210.93" fill="none" stroke="#ad8fe0" stroke-width="1.1" stroke-linejoin="round" opacity="1"/>
<polyline points="320.40,212.20 320.95,210.86 321.51,209.98 322.06,212.12 322.61,211.89 323.17,210.99 323.72,212.12 324.27,211.32 324.83,210.26 325.38,211.46 325.94,210.85 326.49,209.52 327.04,211.00 327.60,211.98 328.15,211.03 328.70,211.91 329.26,210.66 329.81,210.70 330.36,209.73 330.92,211.46 331.47,210.70 332.02,211.29 332.58,211.13 333.13,211.78 333.68,210.33 334.24,211.71 334.79,211.67 335.34,211.47 335.90,211.34 336.45,210.95 337.00,210.57 337.56,209.97 338.11,209.37 338.67,208.56 339.22,207.69 339.77,206.52 340.33,205.15 340.88,203.46 341.43,201.68 341.99,199.59 342.54,197.15 343.09,194.19 343.65,190.76 344.20,186.94 344.75,182.63 345.31,177.98 345.86,172.81 346.41,167.36 346.97,161.53 347.52,155.26 348.07,148.70 348.63,141.84 349.18,134.75 349.74,127.41 350.29,119.81 350.84,112.20 351.40,104.69 351.95,97.09 352.50,89.57 353.06,82.06 353.61,75.00 354.16,68.50 354.72,62.98 355.27,58.71 355.82,55.80 356.38,54.44 356.93,54.84 357.48,57.20 358.04,60.93 358.59,65.81 359.14,71.83 359.70,78.81 360.25,86.72 360.81,95.13 361.36,104.07 361.91,113.05 362.47,121.98 363.02,130.47 363.57,138.69 364.13,146.58 364.68,154.04 365.23,161.04 365.79,167.47 366.34,173.25 366.89,178.23 367.45,182.56 368.00,186.48 368.55,189.82 369.11,192.75 369.66,194.94 370.21,196.79 370.77,198.37 371.32,199.86 371.88,201.19 372.43,202.08 372.98,202.67 373.54,203.07 374.09,203.24 374.64,203.37 375.20,203.24 375.75,202.88 376.30,202.06 376.86,200.86 377.41,199.15 377.96,196.98 378.52,194.42 379.07,191.72 379.62,189.09 380.18,186.09 380.73,182.99 381.28,179.80 381.84,176.75 382.39,173.92 382.95,171.22 383.50,168.82 384.05,166.54 384.61,164.24 385.16,162.01 385.71,159.96 386.27,158.21 386.82,156.70 387.37,155.22 387.93,154.04 388.48,152.86 389.03,151.86 389.59,150.76 390.14,149.87 390.69,149.15 391.25,148.56 391.80,148.09 392.35,147.47 392.91,146.98 393.46,146.62 394.02,146.61 394.57,146.66 395.12,146.56 395.68,146.52 396.23,146.47 396.78,146.55 397.34,146.87 397.89,147.23 398.44,147.64 399.00,147.81 399.55,148.19 400.10,148.58 400.66,149.03 401.21,149.35 401.76,149.65 402.32,149.91 402.87,150.07 403.42,150.33 403.98,150.46 404.53,150.84 405.09,151.05 405.64,151.47 406.19,151.73 406.75,152.06 407.30,152.09 407.85,152.15 408.41,152.39 408.96,152.58 409.51,152.76 410.07,152.89 410.62,153.27 411.17,153.62 411.73,153.99 412.28,154.07 412.83,154.41 413.39,154.64 413.94,155.19 414.49,155.54 415.05,155.95 415.60,156.26 416.16,156.68 416.71,157.07 417.26,157.55 417.82,157.80 418.37,158.22 418.92,158.69 419.48,159.21 420.03,159.74 420.58,160.23 421.14,160.76 421.69,161.22 422.24,161.80 422.80,162.37 423.35,163.07 423.90,163.78 424.46,164.72 425.01,165.37 425.56,165.96 426.12,166.57 426.67,167.12 427.23,167.79 427.78,168.37 428.33,169.35 428.89,170.17 429.44,171.01 429.99,171.92 430.55,172.86 431.10,173.89 431.65,174.91 432.21,175.95 432.76,176.89 433.31,177.83 433.87,179.13 434.42,180.57 434.97,181.82 435.53,183.12 436.08,184.36 436.63,185.67 437.19,186.73 437.74,187.70 438.30,188.85 438.85,189.73 439.40,190.75 439.96,191.42 440.51,192.32 441.06,192.82 441.62,193.21 442.17,193.50 442.72,193.60 443.28,193.39 443.83,192.69 444.38,191.81 444.94,190.57 445.49,188.63 446.04,186.28 446.60,183.61 447.15,180.70 447.70,177.28 448.26,173.35 448.81,168.89 449.37,163.41 449.92,156.86 450.47,149.83 451.03,142.59 451.58,135.37 452.13,128.19 452.69,121.70 453.24,116.17 453.79,111.81 454.35,108.80 454.90,107.11 455.45,106.97 456.01,108.27 456.56,110.97 457.11,114.65 457.67,119.25 458.22,124.85 458.77,131.37 459.33,138.20 459.88,145.10 460.44,152.00 460.99,158.97 461.54,165.94 462.10,172.41 462.65,178.44 463.20,183.76 463.76,188.35 464.31,192.54 464.86,196.11 465.42,199.45 465.97,201.99 466.52,204.05 467.08,205.79 467.63,207.25 468.18,208.49 468.74,209.41 469.29,210.10 469.84,210.54 470.40,210.85 470.95,211.15 471.51,211.55 472.06,211.69 472.61,211.78 473.17,211.60 473.72,211.75 474.27,211.93 474.83,212.20 475.38,212.20 475.93,212.20 476.49,212.06 477.04,212.15 477.59,212.20 478.15,212.17 478.70,212.05 479.25,212.05 479.81,212.16 480.36,212.20 480.91,212.20 481.47,212.20 482.02,212.20 482.58,212.01 483.13,211.99 483.68,212.04 484.24,212.10 484.79,212.00 485.34,212.11 485.90,212.12 486.45,212.14 487.00,212.19 487.56,212.20 488.11,212.20 488.66,212.15 489.22,212.10 489.77,212.08 490.32,212.04 490.88,211.97 491.43,211.99 491.98,211.90 492.54,211.34 493.09,211.81 493.65,211.28 494.20,211.26 494.75,211.27 495.31,211.66 495.86,212.10 496.41,211.35 496.97,211.57 497.52,211.44 498.07,212.05 498.63,211.56 499.18,211.35 499.73,211.94 500.29,211.44 500.84,211.32 501.39,210.66 501.95,211.72 502.50,209.96 503.05,211.26 503.61,212.03 504.16,211.74 504.72,209.26 505.27,211.92 505.82,211.87 506.38,211.55 506.93,211.94 507.48,211.65 508.04,211.55 508.59,211.74 509.14,212.00 509.70,211.78 510.25,211.83 510.80,211.92 511.36,211.81 511.91,211.59 512.46,211.17 513.02,211.80 513.57,212.20 514.12,210.78 514.68,212.20 515.23,211.91 515.79,211.72 516.34,210.68 516.89,211.26 517.45,211.22 518.00,211.61 518.55,210.97 519.11,211.46 519.66,211.85 520.21,211.64 520.77,209.87 521.32,211.97 521.87,211.52 522.43,211.61 522.98,210.42 523.53,212.14 524.09,212.10 524.64,210.71 525.19,209.59 525.75,209.91 526.30,210.79 526.86,210.33 527.41,211.36 527.96,211.42 528.52,211.73 529.07,212.12 529.62,210.88 530.18,212.00 530.73,211.25 531.28,211.82 531.84,210.42 532.39,211.76 532.94,211.73 533.50,211.29 534.05,210.95 534.60,211.17 535.16,210.50 535.71,211.40 536.26,211.31 536.82,210.59 537.37,211.36 537.93,212.07 538.48,210.18 539.03,211.67 539.59,212.10 540.14,211.48 540.69,210.66 541.25,211.32 541.80,211.38" fill="none" stroke="#d4ac34" stroke-width="1.35" stroke-linejoin="round" opacity="1"/>
<rect x="491.5" y="38.5" width="40.299999999999955" height="69.5" fill="#fff" stroke="#a8a8a8" stroke-width="0.9"/>
<line x1="493" y1="44.70" x2="513.6" y2="44.70" stroke="#6f8a72" stroke-width="2.2"/>
<text x="516.30" y="47.76" font-size="9.0" font-family='"Liberation Sans", Arial, sans-serif' text-anchor="start" fill="#111" >0°</text>
<line x1="493" y1="56.20" x2="513.6" y2="56.20" stroke="#e57a92" stroke-width="1.2"/>
<text x="516.30" y="59.26" font-size="9.0" font-family='"Liberation Sans", Arial, sans-serif' text-anchor="start" fill="#111" >15°</text>
<line x1="493" y1="67.60" x2="513.6" y2="67.60" stroke="#4690d2" stroke-width="1.6"/>
<text x="516.30" y="70.66" font-size="9.0" font-family='"Liberation Sans", Arial, sans-serif' text-anchor="start" fill="#111" >30°</text>
<line x1="493" y1="79.00" x2="513.6" y2="79.00" stroke="#62c99a" stroke-width="1.6"/>
<text x="516.30" y="82.06" font-size="9.0" font-family='"Liberation Sans", Arial, sans-serif' text-anchor="start" fill="#111" >45°</text>
<line x1="493" y1="90.50" x2="513.6" y2="90.50" stroke="#a98fdc" stroke-width="1.0"/>
<text x="516.30" y="93.56" font-size="9.0" font-family='"Liberation Sans", Arial, sans-serif' text-anchor="start" fill="#111" >60°</text>
<line x1="493" y1="101.90" x2="513.6" y2="101.90" stroke="#d6b445" stroke-width="2.2"/>
<text x="516.30" y="104.96" font-size="9.0" font-family='"Liberation Sans", Arial, sans-serif' text-anchor="start" fill="#111" >75°</text>
<text class="b" x="431.00" y="237.70" font-size="9.2" font-family='"Liberation Serif", "Times New Roman", serif' text-anchor="middle" fill="#111" >λ (nm)</text>
<text class="b" transform="translate(283.6,123) rotate(-90)" font-size="9.2" font-family='"Liberation Serif", "Times New Roman", serif' text-anchor="middle" fill="#111"><tspan font-style="italic">L</tspan><tspan font-style="italic" font-size="6.5" dy="2">e</tspan><tspan dy="-2"> (W/sr·m</tspan><tspan font-size="6.5" dy="-3.5">2</tspan><tspan dy="3.5">)</tspan></text>
<text class="b" x="4.70" y="261.80" font-size="17.6" font-family='"Liberation Serif", "Times New Roman", serif' text-anchor="start" fill="#111" >(c)</text>
<g clip-path="none">
<rect x="39.30" y="273.30" width="221.20" height="178.50" fill="none" stroke="#636363" stroke-width="1.6"/>
<path d="M50.36,451.80v3.8 M78.01,451.80v3.8 M105.66,451.80v3.8 M133.31,451.80v3.8 M160.96,451.80v3.8 M188.61,451.80v3.8 M216.26,451.80v3.8 M243.91,451.80v3.8 M64.19,451.80v1.8 M91.83,451.80v1.8 M119.48,451.80v1.8 M147.13,451.80v1.8 M174.79,451.80v1.8 M202.44,451.80v1.8 M230.08,451.80v1.8 M257.74,451.80v1.8 M39.30,451.80h-3.8 M39.30,426.30h-3.8 M39.30,400.80h-3.8 M39.30,375.30h-3.8 M39.30,349.80h-3.8 M39.30,324.30h-3.8 M39.30,298.80h-3.8 M39.30,273.30h-3.8 M39.30,439.05h-1.8 M39.30,413.55h-1.8 M39.30,388.05h-1.8 M39.30,362.55h-1.8 M39.30,337.05h-1.8 M39.30,311.55h-1.8 M39.30,286.05h-1.8" stroke="#636363" stroke-width="1" fill="none"/>
<text x="50.36" y="463.40" font-size="7.6" font-family='"Liberation Serif", "Times New Roman", serif' text-anchor="middle" fill="#111" >400</text>
<text x="78.01" y="463.40" font-size="7.6" font-family='"Liberation Serif", "Times New Roman", serif' text-anchor="middle" fill="#111" >450</text>
<text x="105.66" y="463.40" font-size="7.6" font-family='"Liberation Serif", "Times New Roman", serif' text-anchor="middle" fill="#111" >500</text>
<text x="133.31" y="463.40" font-size="7.6" font-family='"Liberation Serif", "Times New Roman", serif' text-anchor="middle" fill="#111" >550</text>
<text x="160.96" y="463.40" font-size="7.6" font-family='"Liberation Serif", "Times New Roman", serif' text-anchor="middle" fill="#111" >600</text>
<text x="188.61" y="463.40" font-size="7.6" font-family='"Liberation Serif", "Times New Roman", serif' text-anchor="middle" fill="#111" >650</text>
<text x="216.26" y="463.40" font-size="7.6" font-family='"Liberation Serif", "Times New Roman", serif' text-anchor="middle" fill="#111" >700</text>
<text x="243.91" y="463.40" font-size="7.6" font-family='"Liberation Serif", "Times New Roman", serif' text-anchor="middle" fill="#111" >750</text>
<text x="34.30" y="454.46" font-size="7.6" font-family='"Liberation Serif", "Times New Roman", serif' text-anchor="end" fill="#111" >0.000</text>
<text x="34.30" y="428.96" font-size="7.6" font-family='"Liberation Serif", "Times New Roman", serif' text-anchor="end" fill="#111" >0.001</text>
<text x="34.30" y="403.46" font-size="7.6" font-family='"Liberation Serif", "Times New Roman", serif' text-anchor="end" fill="#111" >0.002</text>
<text x="34.30" y="377.96" font-size="7.6" font-family='"Liberation Serif", "Times New Roman", serif' text-anchor="end" fill="#111" >0.003</text>
<text x="34.30" y="352.46" font-size="7.6" font-family='"Liberation Serif", "Times New Roman", serif' text-anchor="end" fill="#111" >0.004</text>
<text x="34.30" y="326.96" font-size="7.6" font-family='"Liberation Serif", "Times New Roman", serif' text-anchor="end" fill="#111" >0.005</text>
<text x="34.30" y="301.46" font-size="7.6" font-family='"Liberation Serif", "Times New Roman", serif' text-anchor="end" fill="#111" >0.006</text>
<text x="34.30" y="275.96" font-size="7.6" font-family='"Liberation Serif", "Times New Roman", serif' text-anchor="end" fill="#111" >0.007</text>
</g>
<polyline points="39.30,451.62 39.85,451.62 40.41,451.66 40.96,451.77 41.51,451.42 42.06,451.64 42.62,451.61 43.17,451.32 43.72,451.46 44.28,451.56 44.83,451.39 45.38,451.11 45.94,451.59 46.49,451.59 47.04,451.60 47.59,451.11 48.15,451.59 48.70,451.48 49.25,451.70 49.81,451.46 50.36,451.66 50.91,451.67 51.47,451.36 52.02,451.54 52.57,451.48 53.12,451.55 53.68,450.51 54.23,451.18 54.78,450.91 55.34,450.79 55.89,450.68 56.44,450.36 57.00,449.95 57.55,449.49 58.10,448.84 58.65,448.03 59.21,447.12 59.76,446.03 60.31,444.99 60.87,443.72 61.42,442.32 61.97,440.59 62.53,438.62 63.08,436.49 63.63,434.20 64.19,431.64 64.74,428.91 65.29,425.90 65.84,422.73 66.40,419.27 66.95,415.61 67.50,411.73 68.06,407.53 68.61,403.04 69.16,398.27 69.72,393.12 70.27,387.81 70.82,382.24 71.37,376.57 71.93,370.55 72.48,364.46 73.03,358.36 73.59,352.81 74.14,347.91 74.69,344.46 75.25,342.55 75.80,342.66 76.35,344.83 76.90,348.66 77.46,353.78 78.01,359.91 78.56,366.56 79.12,373.73 79.67,380.98 80.22,388.27 80.77,395.16 81.33,401.50 81.88,406.99 82.43,412.00 82.99,416.54 83.54,420.64 84.09,424.29 84.65,427.62 85.20,430.58 85.75,433.10 86.30,435.32 86.86,437.24 87.41,438.89 87.96,440.17 88.52,441.36 89.07,442.22 89.62,443.10 90.18,443.73 90.73,444.46 91.28,444.88 91.83,445.25 92.39,445.48 92.94,445.74 93.49,445.85 94.05,445.77 94.60,445.46 95.15,444.91 95.71,443.89 96.26,442.64 96.81,440.98 97.36,439.25 97.92,437.21 98.47,435.24 99.02,433.18 99.58,431.11 100.13,428.90 100.68,426.94 101.24,424.97 101.79,423.18 102.34,421.36 102.89,419.60 103.45,417.97 104.00,416.27 104.55,414.85 105.11,413.60 105.66,412.54 106.21,411.71 106.77,410.67 107.32,409.84 107.87,409.05 108.42,408.58 108.98,408.02 109.53,407.44 110.08,406.88 110.64,406.48 111.19,406.03 111.74,405.79 112.30,405.55 112.85,405.56 113.40,405.52 113.95,405.50 114.51,405.48 115.06,405.48 115.61,405.59 116.17,405.77 116.72,405.86 117.27,406.13 117.83,406.15 118.38,406.40 118.93,406.52 119.48,406.88 120.04,407.24 120.59,407.40 121.14,407.49 121.70,407.68 122.25,407.85 122.80,408.07 123.36,408.11 123.91,408.33 124.46,408.55 125.02,408.74 125.57,408.89 126.12,408.91 126.67,409.13 127.23,409.28 127.78,409.60 128.33,409.67 128.89,409.88 129.44,410.03 129.99,410.18 130.54,410.31 131.10,410.54 131.65,410.84 132.20,411.08 132.76,411.25 133.31,411.41 133.86,411.88 134.42,412.13 134.97,412.43 135.52,412.48 136.07,412.57 136.63,412.85 137.18,413.18 137.73,413.55 138.29,413.88 138.84,414.11 139.39,414.54 139.95,415.06 140.50,415.58 141.05,415.95 141.60,416.24 142.16,416.68 142.71,417.24 143.26,417.71 143.82,418.13 144.37,418.59 144.92,419.08 145.48,419.49 146.03,420.14 146.58,420.70 147.13,421.41 147.69,421.86 148.24,422.50 148.79,422.89 149.35,423.51 149.90,424.05 150.45,424.98 151.01,425.83 151.56,426.50 152.11,427.33 152.66,428.08 153.22,429.14 153.77,430.02 154.32,430.86 154.88,431.78 155.43,432.92 155.98,433.89 156.54,434.73 157.09,435.17 157.64,435.84 158.19,436.37 158.75,436.97 159.30,437.45 159.85,437.80 160.41,438.11 160.96,438.31 161.51,438.49 162.07,438.40 162.62,438.23 163.17,437.70 163.72,436.98 164.28,435.99 164.83,435.02 165.38,433.87 165.94,432.39 166.49,430.78 167.04,428.95 167.60,426.78 168.15,423.86 168.70,420.27 169.25,415.99 169.81,411.14 170.36,405.92 170.91,400.45 171.47,394.88 172.02,389.48 172.57,384.78 173.13,381.30 173.68,379.42 174.23,379.35 174.79,380.61 175.34,383.28 175.89,386.92 176.44,391.61 177.00,396.77 177.55,402.14 178.10,407.40 178.66,412.34 179.21,417.06 179.76,421.32 180.31,425.31 180.87,428.72 181.42,432.18 181.97,435.05 182.53,437.85 183.08,440.04 183.63,442.13 184.19,443.77 184.74,445.26 185.29,446.57 185.84,447.59 186.40,448.51 186.95,449.12 187.50,449.81 188.06,450.12 188.61,450.53 189.16,450.84 189.72,451.20 190.27,451.40 190.82,451.41 191.38,451.32 191.93,451.33 192.48,451.41 193.03,451.65 193.59,451.69 194.14,451.67 194.69,451.37 195.25,451.37 195.80,451.10 196.35,451.66 196.90,451.27 197.46,451.38 198.01,451.73 198.56,451.38 199.12,451.38 199.67,451.21 200.22,451.50 200.78,451.28 201.33,451.78 201.88,451.49 202.44,451.51 202.99,451.72 203.54,451.51 204.09,451.72 204.65,451.26 205.20,450.92 205.75,451.50 206.31,451.34 206.86,451.56 207.41,451.00 207.96,451.48 208.52,451.51 209.07,451.50 209.62,451.36 210.18,451.66 210.73,451.72 211.28,451.72 211.84,451.63 212.39,451.72 212.94,451.77 213.50,451.29 214.05,451.53 214.60,451.34 215.15,451.80 215.71,451.66 216.26,451.76 216.81,451.47 217.37,451.58 217.92,451.70 218.47,451.60 219.02,451.50 219.58,451.24 220.13,451.48 220.68,451.72 221.24,451.25 221.79,451.28 222.34,451.36 222.90,451.77 223.45,451.80 224.00,451.80 224.56,451.80 225.11,451.58 225.66,451.43 226.21,451.80 226.77,451.46 227.32,451.47 227.87,451.48 228.43,451.40 228.98,451.54 229.53,451.70 230.08,451.27 230.64,451.67 231.19,451.42 231.74,451.50 232.30,451.66 232.85,451.68 233.40,451.39 233.96,451.44 234.51,451.43 235.06,451.44 235.61,451.52 236.17,451.41 236.72,451.70 237.27,451.65 237.83,451.76 238.38,450.99 238.93,451.28 239.49,451.51 240.04,451.60 240.59,451.80 241.14,451.80 241.70,451.80 242.25,451.43 242.80,451.53 243.36,451.79 243.91,451.55 244.46,451.51 245.02,451.59 245.57,451.80 246.12,451.74 246.68,451.68 247.23,451.68 247.78,451.80 248.33,451.80 248.89,451.48 249.44,451.38 249.99,451.56 250.55,451.24 251.10,451.34 251.65,451.27 252.20,451.51 252.76,451.56 253.31,451.32 253.86,451.40 254.42,451.58 254.97,451.77 255.52,451.45 256.08,451.62 256.63,451.42 257.18,451.76 257.74,451.33 258.29,451.53 258.84,451.58 259.39,451.80 259.95,451.75 260.50,451.24" fill="none" stroke="#56765b" stroke-width="1.1" stroke-linejoin="round" opacity="1"/>
<polyline points="39.30,451.21 39.85,451.60 40.41,451.17 40.96,451.54 41.51,451.27 42.06,451.66 42.62,451.67 43.17,451.67 43.72,451.69 44.28,451.43 44.83,451.70 45.38,451.32 45.94,451.59 46.49,451.76 47.04,451.65 47.59,451.79 48.15,451.21 48.70,451.27 49.25,451.35 49.81,451.60 50.36,451.43 50.91,451.65 51.47,451.48 52.02,451.70 52.57,451.29 53.12,451.28 53.68,451.34 54.23,451.23 54.78,451.10 55.34,451.01 55.89,450.87 56.44,450.65 57.00,450.30 57.55,449.84 58.10,449.33 58.65,448.73 59.21,448.07 59.76,447.21 60.31,446.38 60.87,445.41 61.42,444.26 61.97,442.80 62.53,441.21 63.08,439.50 63.63,437.71 64.19,435.71 64.74,433.54 65.29,431.09 65.84,428.45 66.40,425.68 66.95,422.74 67.50,419.63 68.06,416.24 68.61,412.69 69.16,408.84 69.72,404.81 70.27,400.48 70.82,396.00 71.37,391.29 71.93,386.41 72.48,381.47 73.03,376.62 73.59,372.16 74.14,368.28 74.69,365.46 75.25,363.94 75.80,364.03 76.35,365.83 76.90,368.81 77.46,372.86 78.01,377.73 78.56,383.32 79.12,389.25 79.67,395.18 80.22,400.86 80.77,406.24 81.33,411.19 81.88,415.75 82.43,419.87 82.99,423.59 83.54,426.98 84.09,429.94 84.65,432.58 85.20,434.86 85.75,436.88 86.30,438.71 86.86,440.23 87.41,441.57 87.96,442.75 88.52,443.74 89.07,444.54 89.62,445.11 90.18,445.65 90.73,446.10 91.28,446.50 91.83,446.76 92.39,446.92 92.94,447.06 93.49,447.22 94.05,447.20 94.60,447.02 95.15,446.56 95.71,445.96 96.26,445.11 96.81,444.01 97.36,442.57 97.92,440.96 98.47,439.30 99.02,437.75 99.58,436.18 100.13,434.62 100.68,433.03 101.24,431.53 101.79,430.08 102.34,428.66 102.89,427.20 103.45,425.96 104.00,424.70 104.55,423.63 105.11,422.58 105.66,421.68 106.21,420.89 106.77,420.09 107.32,419.43 107.87,418.88 108.42,418.20 108.98,417.54 109.53,416.92 110.08,416.59 110.64,416.29 111.19,416.00 111.74,415.74 112.30,415.55 112.85,415.39 113.40,415.26 113.95,415.26 114.51,415.29 115.06,415.22 115.61,415.16 116.17,415.16 116.72,415.18 117.27,415.26 117.83,415.40 118.38,415.61 118.93,415.64 119.48,415.80 120.04,415.83 120.59,415.99 121.14,416.06 121.70,416.28 122.25,416.37 122.80,416.42 123.36,416.49 123.91,416.52 124.46,416.57 125.02,416.56 125.57,416.71 126.12,416.78 126.67,416.85 127.23,416.93 127.78,416.96 128.33,416.99 128.89,416.99 129.44,417.04 129.99,417.11 130.54,417.23 131.10,417.44 131.65,417.58 132.20,417.84 132.76,417.98 133.31,418.16 133.86,418.31 134.42,418.34 134.97,418.57 135.52,418.73 136.07,419.03 136.63,419.20 137.18,419.31 137.73,419.49 138.29,419.62 138.84,419.88 139.39,420.14 139.95,420.54 140.50,420.81 141.05,421.18 141.60,421.56 142.16,421.84 142.71,422.21 143.26,422.51 143.82,423.01 144.37,423.28 144.92,423.69 145.48,424.05 146.03,424.44 146.58,424.63 147.13,425.03 147.69,425.48 148.24,426.09 148.79,426.44 149.35,426.97 149.90,427.50 150.45,428.22 151.01,428.90 151.56,429.57 152.11,430.34 152.66,430.92 153.22,431.67 153.77,432.39 154.32,433.21 154.88,434.06 155.43,434.72 155.98,435.40 156.54,436.04 157.09,436.71 157.64,437.40 158.19,437.87 158.75,438.40 159.30,438.86 159.85,439.20 160.41,439.46 160.96,439.54 161.51,439.55 162.07,439.37 162.62,439.14 163.17,438.96 163.72,438.50 164.28,437.86 164.83,436.83 165.38,435.93 165.94,434.84 166.49,433.82 167.04,432.55 167.60,430.97 168.15,428.90 168.70,426.07 169.25,422.77 169.81,418.98 170.36,414.88 170.91,410.52 171.47,406.03 172.02,401.89 172.57,398.27 173.13,395.53 173.68,394.04 174.23,393.97 174.79,395.14 175.34,397.32 175.89,400.30 176.44,403.94 177.00,408.03 177.55,412.24 178.10,416.30 178.66,420.24 179.21,423.96 179.76,427.47 180.31,430.68 180.87,433.59 181.42,436.22 181.97,438.44 182.53,440.68 183.08,442.46 183.63,444.06 184.19,445.35 184.74,446.53 185.29,447.59 185.84,448.37 186.40,449.08 186.95,449.56 187.50,450.01 188.06,450.37 188.61,450.70 189.16,450.97 189.72,451.08 190.27,451.18 190.82,451.23 191.38,451.34 191.93,451.40 192.48,451.49 193.03,451.53 193.59,451.58 194.14,451.54 194.69,451.10 195.25,451.19 195.80,451.13 196.35,451.41 196.90,451.41 197.46,451.48 198.01,451.50 198.56,451.49 199.12,451.59 199.67,451.69 200.22,451.30 200.78,451.40 201.33,451.27 201.88,451.13 202.44,451.39 202.99,451.35 203.54,451.79 204.09,451.71 204.65,451.45 205.20,451.24 205.75,451.78 206.31,451.68 206.86,451.80 207.41,451.48 207.96,451.47 208.52,451.53 209.07,451.35 209.62,451.22 210.18,451.66 210.73,451.53 211.28,451.34 211.84,451.55 212.39,451.49 212.94,451.76 213.50,451.58 214.05,451.64 214.60,451.45 215.15,451.16 215.71,451.41 216.26,451.63 216.81,451.56 217.37,451.48 217.92,451.53 218.47,451.45 219.02,451.57 219.58,451.64 220.13,451.59 220.68,451.70 221.24,451.80 221.79,451.80 222.34,451.39 222.90,451.67 223.45,451.64 224.00,451.77 224.56,451.57 225.11,451.53 225.66,451.66 226.21,451.33 226.77,451.31 227.32,451.61 227.87,451.69 228.43,451.77 228.98,451.58 229.53,451.60 230.08,451.25 230.64,451.24 231.19,451.25 231.74,451.78 232.30,451.80 232.85,451.69 233.40,451.80 233.96,451.69 234.51,451.67 235.06,451.33 235.61,451.55 236.17,451.29 236.72,451.13 237.27,451.00 237.83,451.02 238.38,451.61 238.93,451.59 239.49,451.53 240.04,451.76 240.59,451.76 241.14,451.23 241.70,451.65 242.25,451.66 242.80,451.47 243.36,451.59 243.91,451.65 244.46,451.56 245.02,451.54 245.57,451.32 246.12,451.49 246.68,451.61 247.23,451.63 247.78,451.51 248.33,451.76 248.89,451.39 249.44,451.57 249.99,451.61 250.55,451.44 251.10,451.46 251.65,451.59 252.20,451.69 252.76,451.40 253.31,451.58 253.86,450.95 254.42,451.64 254.97,451.64 255.52,451.58 256.08,451.60 256.63,451.61 257.18,451.65 257.74,451.33 258.29,451.55 258.84,451.51 259.39,451.45 259.95,451.43 260.50,451.62" fill="none" stroke="#e3708c" stroke-width="1.1" stroke-linejoin="round" opacity="1"/>
<polyline points="39.30,451.20 39.85,451.50 40.41,449.27 40.96,442.99 41.51,448.06 42.06,446.23 42.62,450.25 43.17,451.58 43.72,451.41 44.28,449.94 44.83,444.29 45.38,449.88 45.94,451.62 46.49,451.49 47.04,450.86 47.59,448.29 48.15,450.85 48.70,451.73 49.25,451.72 49.81,451.63 50.36,451.45 50.91,451.52 51.47,451.31 52.02,451.46 52.57,451.53 53.12,451.33 53.68,451.32 54.23,451.16 54.78,451.24 55.34,450.94 55.89,450.84 56.44,450.55 57.00,450.36 57.55,450.03 58.10,449.60 58.65,449.12 59.21,448.52 59.76,447.80 60.31,446.83 60.87,445.83 61.42,444.78 61.97,443.67 62.53,442.27 63.08,440.74 63.63,439.03 64.19,437.16 64.74,435.14 65.29,432.98 65.84,430.75 66.40,428.21 66.95,425.47 67.50,422.61 68.06,419.66 68.61,416.46 69.16,412.92 69.72,409.19 70.27,405.35 70.82,401.32 71.37,397.05 71.93,392.60 72.48,388.15 73.03,383.83 73.59,379.79 74.14,376.34 74.69,373.81 75.25,372.50 75.80,372.65 76.35,374.24 76.90,376.92 77.46,380.55 78.01,384.98 78.56,389.94 79.12,395.19 79.67,400.54 80.22,405.79 80.77,410.72 81.33,415.32 81.88,419.40 82.43,423.07 82.99,426.36 83.54,429.41 84.09,432.20 84.65,434.61 85.20,436.64 85.75,438.46 86.30,440.02 86.86,441.50 87.41,442.66 87.96,443.76 88.52,444.57 89.07,445.28 89.62,445.86 90.18,446.46 90.73,446.96 91.28,447.37 91.83,447.60 92.39,447.78 92.94,447.87 93.49,447.90 94.05,447.91 94.60,447.81 95.15,447.54 95.71,446.99 96.26,446.24 96.81,445.22 97.36,444.10 97.92,442.73 98.47,441.45 99.02,440.02 99.58,438.78 100.13,437.42 100.68,436.12 101.24,434.69 101.79,433.42 102.34,432.16 102.89,431.10 103.45,429.91 104.00,428.95 104.55,428.01 105.11,427.29 105.66,426.45 106.21,425.66 106.77,424.89 107.32,424.28 107.87,423.68 108.42,423.11 108.98,422.65 109.53,422.23 110.08,421.92 110.64,421.61 111.19,421.31 111.74,420.94 112.30,420.69 112.85,420.40 113.40,420.32 113.95,420.16 114.51,420.14 115.06,420.11 115.61,420.10 116.17,420.09 116.72,420.16 117.27,420.23 117.83,420.42 118.38,420.47 118.93,420.41 119.48,420.38 120.04,420.51 120.59,420.83 121.14,420.93 121.70,420.91 122.25,420.90 122.80,420.90 123.36,420.94 123.91,420.89 124.46,420.93 125.02,420.90 125.57,420.97 126.12,421.06 126.67,421.06 127.23,421.07 127.78,421.13 128.33,421.22 128.89,421.28 129.44,421.26 129.99,421.17 130.54,421.12 131.10,421.23 131.65,421.52 132.20,421.70 132.76,421.81 133.31,421.84 133.86,421.93 134.42,421.95 134.97,422.08 135.52,422.29 136.07,422.46 136.63,422.60 137.18,422.67 137.73,422.76 138.29,423.00 138.84,423.22 139.39,423.54 139.95,423.76 140.50,423.97 141.05,424.23 141.60,424.36 142.16,424.80 142.71,424.97 143.26,425.39 143.82,425.63 144.37,426.02 144.92,426.32 145.48,426.53 146.03,426.81 146.58,427.19 147.13,427.58 147.69,427.99 148.24,428.33 148.79,428.77 149.35,429.18 149.90,429.67 150.45,430.26 151.01,430.89 151.56,431.51 152.11,432.07 152.66,432.68 153.22,433.30 153.77,433.97 154.32,434.71 154.88,435.41 155.43,436.13 155.98,436.79 156.54,437.36 157.09,437.93 157.64,438.51 158.19,439.11 158.75,439.48 159.30,439.85 159.85,440.06 160.41,440.37 160.96,440.47 161.51,440.54 162.07,440.48 162.62,440.37 163.17,440.07 163.72,439.66 164.28,438.99 164.83,438.26 165.38,437.51 165.94,436.67 166.49,435.85 167.04,434.78 167.60,433.52 168.15,431.71 168.70,429.32 169.25,426.39 169.81,423.19 170.36,419.77 170.91,416.20 171.47,412.35 172.02,408.75 172.57,405.58 173.13,403.43 173.68,402.23 174.23,402.30 174.79,403.27 175.34,405.08 175.89,407.60 176.44,410.77 177.00,414.28 177.55,417.92 178.10,421.41 178.66,424.72 179.21,427.82 179.76,430.76 180.31,433.51 180.87,436.10 181.42,438.33 181.97,440.45 182.53,442.18 183.08,443.75 183.63,445.00 184.19,446.20 184.74,447.25 185.29,448.21 185.84,449.05 186.40,449.68 186.95,450.21 187.50,450.51 188.06,450.80 188.61,451.01 189.16,451.27 189.72,451.41 190.27,451.48 190.82,451.45 191.38,451.46 191.93,451.40 192.48,451.41 193.03,451.53 193.59,451.64 194.14,451.61 194.69,451.50 195.25,451.48 195.80,451.68 196.35,451.16 196.90,451.31 197.46,451.58 198.01,451.52 198.56,451.70 199.12,451.17 199.67,451.53 200.22,451.75 200.78,451.80 201.33,451.80 201.88,451.45 202.44,451.34 202.99,451.78 203.54,451.69 204.09,451.20 204.65,451.68 205.20,450.87 205.75,451.30 206.31,451.25 206.86,451.46 207.41,451.75 207.96,451.79 208.52,451.80 209.07,451.37 209.62,451.67 210.18,451.69 210.73,451.14 211.28,451.46 211.84,451.80 212.39,451.50 212.94,451.68 213.50,451.67 214.05,451.62 214.60,451.11 215.15,451.15 215.71,451.69 216.26,451.41 216.81,451.70 217.37,451.64 217.92,451.78 218.47,451.57 219.02,451.21 219.58,451.28 220.13,451.45 220.68,451.73 221.24,451.48 221.79,451.76 222.34,451.62 222.90,451.80 223.45,451.14 224.00,451.49 224.56,451.65 225.11,451.40 225.66,451.57 226.21,451.64 226.77,451.04 227.32,451.70 227.87,451.44 228.43,451.69 228.98,451.58 229.53,451.57 230.08,451.42 230.64,451.19 231.19,451.54 231.74,451.41 232.30,451.36 232.85,451.44 233.40,451.32 233.96,451.68 234.51,451.33 235.06,451.63 235.61,451.42 236.17,451.72 236.72,451.60 237.27,451.37 237.83,451.51 238.38,451.32 238.93,451.54 239.49,451.38 240.04,451.23 240.59,451.19 241.14,451.60 241.70,451.79 242.25,451.58 242.80,451.77 243.36,451.45 243.91,451.45 244.46,451.79 245.02,451.69 245.57,451.41 246.12,451.45 246.68,451.34 247.23,451.69 247.78,451.52 248.33,451.65 248.89,451.68 249.44,451.64 249.99,451.51 250.55,451.60 251.10,451.56 251.65,451.73 252.20,451.67 252.76,451.55 253.31,451.18 253.86,451.66 254.42,451.80 254.97,451.63 255.52,451.67 256.08,451.35 256.63,451.55 257.18,451.64 257.74,451.80 258.29,451.74 258.84,451.52 259.39,451.71 259.95,451.51 260.50,451.33" fill="none" stroke="#3b8bd0" stroke-width="1.1" stroke-linejoin="round" opacity="1"/>
<polyline points="39.30,451.64 39.85,451.68 40.41,451.51 40.96,451.32 41.51,451.53 42.06,451.13 42.62,451.48 43.17,451.48 43.72,451.47 44.28,451.74 44.83,451.67 45.38,451.36 45.94,451.20 46.49,451.58 47.04,451.50 47.59,451.33 48.15,451.16 48.70,451.65 49.25,451.35 49.81,451.61 50.36,451.17 50.91,451.54 51.47,451.22 52.02,451.54 52.57,451.55 53.12,451.52 53.68,451.12 54.23,450.83 54.78,451.28 55.34,450.24 55.89,451.00 56.44,450.74 57.00,450.47 57.55,450.17 58.10,449.72 58.65,449.20 59.21,448.63 59.76,448.02 60.31,447.29 60.87,446.39 61.42,445.36 61.97,444.25 62.53,442.94 63.08,441.55 63.63,439.96 64.19,438.26 64.74,436.38 65.29,434.41 65.84,432.25 66.40,429.94 66.95,427.43 67.50,424.76 68.06,421.99 68.61,418.99 69.16,415.82 69.72,412.42 70.27,408.77 70.82,405.01 71.37,400.99 71.93,396.99 72.48,392.90 73.03,388.88 73.59,385.12 74.14,381.84 74.69,379.52 75.25,378.24 75.80,378.34 76.35,379.85 76.90,382.43 77.46,385.90 78.01,389.96 78.56,394.49 79.12,399.29 79.67,404.27 80.22,409.12 80.77,413.73 81.33,417.95 81.88,421.70 82.43,425.10 82.99,428.24 83.54,431.07 84.09,433.54 84.65,435.62 85.20,437.62 85.75,439.38 86.30,440.93 86.86,442.15 87.41,443.31 87.96,444.26 88.52,445.08 89.07,445.69 89.62,446.30 90.18,446.78 90.73,447.21 91.28,447.50 91.83,447.75 92.39,447.87 92.94,447.91 93.49,447.96 94.05,448.01 94.60,447.95 95.15,447.66 95.71,447.19 96.26,446.46 96.81,445.52 97.36,444.30 97.92,443.10 98.47,441.79 99.02,440.52 99.58,439.23 100.13,437.96 100.68,436.72 101.24,435.48 101.79,434.24 102.34,433.09 102.89,431.98 103.45,430.97 104.00,429.88 104.55,428.95 105.11,428.09 105.66,427.43 106.21,426.72 106.77,426.12 107.32,425.52 107.87,425.09 108.42,424.65 108.98,424.18 109.53,423.66 110.08,423.29 110.64,422.94 111.19,422.66 111.74,422.21 112.30,422.06 112.85,421.96 113.40,422.03 113.95,421.86 114.51,421.72 115.06,421.64 115.61,421.60 116.17,421.58 116.72,421.63 117.27,421.74 117.83,421.92 118.38,422.02 118.93,422.16 119.48,422.26 120.04,422.38 120.59,422.45 121.14,422.48 121.70,422.54 122.25,422.61 122.80,422.73 123.36,422.70 123.91,422.71 124.46,422.65 125.02,422.70 125.57,422.78 126.12,422.82 126.67,422.85 127.23,422.77 127.78,422.80 128.33,422.96 128.89,423.15 129.44,423.24 129.99,423.22 130.54,423.30 131.10,423.40 131.65,423.39 132.20,423.34 132.76,423.45 133.31,423.60 133.86,423.69 134.42,423.77 134.97,423.81 135.52,424.02 136.07,424.04 136.63,424.19 137.18,424.29 137.73,424.54 138.29,424.79 138.84,425.06 139.39,425.24 139.95,425.41 140.50,425.57 141.05,425.85 141.60,426.16 142.16,426.51 142.71,426.84 143.26,427.20 143.82,427.43 144.37,427.74 144.92,427.94 145.48,428.31 146.03,428.51 146.58,428.80 147.13,429.02 147.69,429.38 148.24,429.84 148.79,430.32 149.35,430.85 149.90,431.29 150.45,431.70 151.01,432.26 151.56,432.71 152.11,433.40 152.66,434.00 153.22,434.73 153.77,435.31 154.32,435.94 154.88,436.67 155.43,437.27 155.98,437.90 156.54,438.36 157.09,438.97 157.64,439.45 158.19,439.97 158.75,440.45 159.30,440.83 159.85,441.10 160.41,441.30 160.96,441.41 161.51,441.39 162.07,441.18 162.62,440.92 163.17,440.70 163.72,440.41 164.28,439.89 164.83,439.26 165.38,438.62 165.94,437.84 166.49,436.97 167.04,435.81 167.60,434.58 168.15,432.77 168.70,430.59 169.25,427.92 169.81,424.96 170.36,421.57 170.91,417.99 171.47,414.40 172.02,411.11 172.57,408.18 173.13,405.96 173.68,404.77 174.23,404.68 174.79,405.70 175.34,407.40 175.89,409.95 176.44,412.83 177.00,416.12 177.55,419.51 178.10,422.90 178.66,426.21 179.21,429.21 179.76,432.10 180.31,434.60 180.87,436.97 181.42,438.97 181.97,440.87 182.53,442.49 183.08,444.11 183.63,445.54 184.19,446.74 184.74,447.56 185.29,448.33 185.84,448.93 186.40,449.52 186.95,449.97 187.50,450.40 188.06,450.69 188.61,450.90 189.16,451.09 189.72,451.31 190.27,451.40 190.82,451.46 191.38,451.44 191.93,451.48 192.48,451.46 193.03,451.55 193.59,451.47 194.14,451.55 194.69,451.48 195.25,451.60 195.80,451.44 196.35,451.53 196.90,451.70 197.46,451.15 198.01,451.35 198.56,451.65 199.12,451.72 199.67,451.28 200.22,451.49 200.78,451.72 201.33,451.13 201.88,451.23 202.44,451.62 202.99,451.56 203.54,450.99 204.09,451.70 204.65,451.28 205.20,451.50 205.75,451.48 206.31,451.36 206.86,451.77 207.41,451.68 207.96,451.59 208.52,451.48 209.07,451.19 209.62,451.40 210.18,451.75 210.73,451.71 211.28,451.54 211.84,451.65 212.39,451.26 212.94,451.19 213.50,451.56 214.05,451.60 214.60,451.67 215.15,451.65 215.71,451.67 216.26,451.16 216.81,451.60 217.37,451.61 217.92,451.38 218.47,451.63 219.02,451.66 219.58,451.36 220.13,451.46 220.68,451.80 221.24,451.72 221.79,451.68 222.34,451.22 222.90,450.99 223.45,451.73 224.00,451.45 224.56,451.75 225.11,451.80 225.66,451.80 226.21,451.61 226.77,451.73 227.32,451.71 227.87,451.43 228.43,451.33 228.98,451.59 229.53,451.40 230.08,451.68 230.64,451.78 231.19,451.48 231.74,451.11 232.30,451.22 232.85,451.54 233.40,451.72 233.96,450.86 234.51,451.64 235.06,451.49 235.61,451.20 236.17,451.35 236.72,451.38 237.27,451.61 237.83,451.56 238.38,451.74 238.93,451.57 239.49,451.79 240.04,451.75 240.59,450.85 241.14,451.02 241.70,451.22 242.25,451.64 242.80,451.57 243.36,451.69 243.91,451.72 244.46,451.47 245.02,451.59 245.57,451.47 246.12,451.60 246.68,451.72 247.23,451.33 247.78,451.45 248.33,451.54 248.89,451.67 249.44,451.59 249.99,451.35 250.55,451.73 251.10,451.71 251.65,451.60 252.20,451.43 252.76,451.36 253.31,451.48 253.86,451.36 254.42,451.69 254.97,451.65 255.52,451.55 256.08,451.61 256.63,451.45 257.18,451.69 257.74,451.73 258.29,451.79 258.84,451.46 259.39,451.51 259.95,451.50 260.50,451.57" fill="none" stroke="#55c894" stroke-width="1.1" stroke-linejoin="round" opacity="1"/>
<polyline points="39.30,451.54 39.85,451.73 40.41,451.08 40.96,451.39 41.51,451.77 42.06,451.53 42.62,451.54 43.17,451.69 43.72,451.21 44.28,451.76 44.83,451.39 45.38,451.51 45.94,451.68 46.49,451.49 47.04,451.71 47.59,451.29 48.15,451.53 48.70,451.54 49.25,451.70 49.81,451.53 50.36,451.07 50.91,451.47 51.47,451.57 52.02,451.37 52.57,451.54 53.12,451.20 53.68,451.30 54.23,451.24 54.78,451.09 55.34,451.10 55.89,451.19 56.44,451.02 57.00,450.84 57.55,450.58 58.10,450.30 58.65,449.96 59.21,449.53 59.76,449.01 60.31,448.45 60.87,447.79 61.42,447.04 61.97,446.15 62.53,445.17 63.08,444.14 63.63,442.96 64.19,441.68 64.74,440.28 65.29,438.82 65.84,437.19 66.40,435.48 66.95,433.60 67.50,431.69 68.06,429.59 68.61,427.35 69.16,424.96 69.72,422.40 70.27,419.69 70.82,416.87 71.37,413.95 71.93,410.92 72.48,407.82 73.03,404.78 73.59,401.99 74.14,399.63 74.69,397.93 75.25,397.01 75.80,397.03 76.35,398.13 76.90,399.98 77.46,402.59 78.01,405.61 78.56,409.06 79.12,412.64 79.67,416.35 80.22,419.99 80.77,423.42 81.33,426.55 81.88,429.31 82.43,431.88 82.99,434.15 83.54,436.30 84.09,438.16 84.65,439.81 85.20,441.23 85.75,442.48 86.30,443.56 86.86,444.55 87.41,445.36 87.96,446.10 88.52,446.60 89.07,447.12 89.62,447.55 90.18,447.98 90.73,448.29 91.28,448.55 91.83,448.70 92.39,448.80 92.94,448.84 93.49,448.87 94.05,448.88 94.60,448.70 95.15,448.42 95.71,447.94 96.26,447.37 96.81,446.61 97.36,445.72 97.92,444.76 98.47,443.74 99.02,442.68 99.58,441.55 100.13,440.45 100.68,439.31 101.24,438.29 101.79,437.22 102.34,436.31 102.89,435.41 103.45,434.58 104.00,433.77 104.55,432.94 105.11,432.19 105.66,431.47 106.21,430.89 106.77,430.33 107.32,429.85 107.87,429.37 108.42,428.96 108.98,428.52 109.53,428.12 110.08,427.77 110.64,427.50 111.19,427.25 111.74,427.03 112.30,426.81 112.85,426.71 113.40,426.59 113.95,426.50 114.51,426.39 115.06,426.29 115.61,426.19 116.17,426.17 116.72,426.23 117.27,426.33 117.83,426.33 118.38,426.35 118.93,426.36 119.48,426.44 120.04,426.46 120.59,426.56 121.14,426.56 121.70,426.62 122.25,426.61 122.80,426.61 123.36,426.70 123.91,426.67 124.46,426.62 125.02,426.55 125.57,426.60 126.12,426.69 126.67,426.66 127.23,426.65 127.78,426.69 128.33,426.77 128.89,426.84 129.44,426.85 129.99,426.88 130.54,426.92 131.10,426.92 131.65,426.94 132.20,426.91 132.76,427.06 133.31,427.09 133.86,427.13 134.42,427.14 134.97,427.31 135.52,427.52 136.07,427.56 136.63,427.62 137.18,427.64 137.73,427.81 138.29,428.00 138.84,428.18 139.39,428.35 139.95,428.50 140.50,428.67 141.05,428.89 141.60,429.04 142.16,429.34 142.71,429.52 143.26,429.79 143.82,429.93 144.37,430.15 144.92,430.38 145.48,430.67 146.03,431.00 146.58,431.25 147.13,431.53 147.69,431.79 148.24,432.14 148.79,432.48 149.35,432.89 149.90,433.20 150.45,433.64 151.01,434.10 151.56,434.70 152.11,435.20 152.66,435.73 153.22,436.25 153.77,436.84 154.32,437.41 154.88,437.99 155.43,438.54 155.98,439.07 156.54,439.58 157.09,440.02 157.64,440.49 158.19,440.89 158.75,441.29 159.30,441.57 159.85,441.91 160.41,442.10 160.96,442.28 161.51,442.26 162.07,442.20 162.62,442.00 163.17,441.76 163.72,441.33 164.28,440.76 164.83,439.97 165.38,439.25 165.94,438.53 166.49,437.71 167.04,436.69 167.60,435.28 168.15,433.62 168.70,431.54 169.25,429.01 169.81,426.11 170.36,422.85 170.91,419.49 171.47,416.05 172.02,412.72 172.57,409.91 173.13,407.83 173.68,406.65 174.23,406.54 174.79,407.37 175.34,409.08 175.89,411.40 176.44,414.27 177.00,417.43 177.55,420.69 178.10,423.88 178.66,427.12 179.21,430.09 179.76,432.89 180.31,435.31 180.87,437.54 181.42,439.47 181.97,441.33 182.53,442.91 183.08,444.38 183.63,445.62 184.19,446.80 184.74,447.71 185.29,448.47 185.84,449.11 186.40,449.70 186.95,450.11 187.50,450.46 188.06,450.68 188.61,450.92 189.16,451.10 189.72,451.28 190.27,451.42 190.82,451.51 191.38,451.63 191.93,451.68 192.48,451.67 193.03,451.61 193.59,451.66 194.14,451.70 194.69,451.62 195.25,451.47 195.80,451.44 196.35,451.60 196.90,451.56 197.46,451.43 198.01,451.16 198.56,451.74 199.12,451.26 199.67,451.11 200.22,451.43 200.78,451.56 201.33,451.70 201.88,451.71 202.44,451.70 202.99,451.66 203.54,451.54 204.09,451.54 204.65,451.63 205.20,451.57 205.75,451.17 206.31,451.64 206.86,451.78 207.41,451.68 207.96,451.80 208.52,451.01 209.07,451.67 209.62,451.56 210.18,451.61 210.73,451.65 211.28,451.78 211.84,451.77 212.39,451.80 212.94,451.66 213.50,451.78 214.05,451.80 214.60,451.80 215.15,451.44 215.71,451.64 216.26,451.69 216.81,451.78 217.37,451.64 217.92,451.71 218.47,451.12 219.02,451.73 219.58,451.51 220.13,451.54 220.68,451.78 221.24,451.73 221.79,451.18 222.34,451.23 222.90,451.38 223.45,451.73 224.00,451.63 224.56,451.60 225.11,451.66 225.66,451.77 226.21,451.76 226.77,451.54 227.32,451.62 227.87,451.59 228.43,451.65 228.98,451.71 229.53,451.51 230.08,451.72 230.64,451.63 231.19,451.72 231.74,451.76 232.30,451.37 232.85,451.78 233.40,451.79 233.96,451.41 234.51,451.75 235.06,451.73 235.61,451.42 236.17,451.70 236.72,451.32 237.27,451.67 237.83,450.80 238.38,451.45 238.93,451.68 239.49,451.48 240.04,451.61 240.59,451.21 241.14,450.93 241.70,451.37 242.25,451.15 242.80,451.63 243.36,451.73 243.91,451.79 244.46,451.48 245.02,451.76 245.57,451.74 246.12,451.08 246.68,451.41 247.23,451.47 247.78,451.43 248.33,451.73 248.89,451.55 249.44,451.68 249.99,451.54 250.55,451.77 251.10,451.02 251.65,451.52 252.20,451.58 252.76,451.38 253.31,451.32 253.86,451.57 254.42,451.70 254.97,451.78 255.52,451.78 256.08,451.76 256.63,451.38 257.18,451.68 257.74,451.44 258.29,451.39 258.84,451.75 259.39,451.69 259.95,451.77 260.50,451.66" fill="none" stroke="#ad8fe0" stroke-width="1.1" stroke-linejoin="round" opacity="1"/>
<polyline points="39.30,451.70 39.85,451.22 40.41,451.19 40.96,451.59 41.51,451.65 42.06,451.78 42.62,451.62 43.17,451.48 43.72,451.75 44.28,451.34 44.83,451.73 45.38,451.54 45.94,451.24 46.49,451.13 47.04,451.70 47.59,451.52 48.15,451.55 48.70,451.09 49.25,451.71 49.81,451.23 50.36,451.52 50.91,451.76 51.47,451.46 52.02,451.51 52.57,451.75 53.12,451.00 53.68,451.31 54.23,451.38 54.78,451.54 55.34,451.45 55.89,451.35 56.44,451.25 57.00,451.07 57.55,450.91 58.10,450.68 58.65,450.47 59.21,450.12 59.76,449.77 60.31,449.33 60.87,448.89 61.42,448.35 61.97,447.73 62.53,447.03 63.08,446.33 63.63,445.52 64.19,444.63 64.74,443.61 65.29,442.58 65.84,441.47 66.40,440.24 66.95,438.90 67.50,437.47 68.06,436.00 68.61,434.39 69.16,432.70 69.72,430.90 70.27,429.02 70.82,426.99 71.37,424.91 71.93,422.75 72.48,420.58 73.03,418.40 73.59,416.37 74.14,414.63 74.69,413.35 75.25,412.71 75.80,412.79 76.35,413.59 76.90,414.93 77.46,416.73 78.01,418.95 78.56,421.37 79.12,423.97 79.67,426.59 80.22,429.18 80.77,431.60 81.33,433.80 81.88,435.77 82.43,437.56 82.99,439.22 83.54,440.74 84.09,442.08 84.65,443.27 85.20,444.31 85.75,445.19 86.30,446.00 86.86,446.65 87.41,447.29 87.96,447.80 88.52,448.18 89.07,448.51 89.62,448.79 90.18,449.05 90.73,449.27 91.28,449.41 91.83,449.54 92.39,449.64 92.94,449.70 93.49,449.74 94.05,449.69 94.60,449.61 95.15,449.47 95.71,449.22 96.26,448.77 96.81,448.17 97.36,447.47 97.92,446.77 98.47,446.07 99.02,445.40 99.58,444.65 100.13,443.91 100.68,443.07 101.24,442.35 101.79,441.63 102.34,440.98 102.89,440.31 103.45,439.67 104.00,439.02 104.55,438.45 105.11,437.95 105.66,437.56 106.21,437.14 106.77,436.74 107.32,436.36 107.87,436.09 108.42,435.83 108.98,435.54 109.53,435.25 110.08,434.98 110.64,434.78 111.19,434.57 111.74,434.39 112.30,434.26 112.85,434.21 113.40,434.12 113.95,434.03 114.51,433.98 115.06,434.01 115.61,433.98 116.17,433.94 116.72,433.87 117.27,433.88 117.83,433.97 118.38,434.01 118.93,434.07 119.48,434.03 120.04,434.09 120.59,434.12 121.14,434.21 121.70,434.26 122.25,434.26 122.80,434.24 123.36,434.20 123.91,434.21 124.46,434.19 125.02,434.23 125.57,434.24 126.12,434.26 126.67,434.27 127.23,434.23 127.78,434.19 128.33,434.19 128.89,434.24 129.44,434.26 129.99,434.25 130.54,434.25 131.10,434.34 131.65,434.33 132.20,434.38 132.76,434.39 133.31,434.49 133.86,434.55 134.42,434.61 134.97,434.67 135.52,434.72 136.07,434.76 136.63,434.84 137.18,434.93 137.73,435.02 138.29,435.08 138.84,435.11 139.39,435.27 139.95,435.39 140.50,435.61 141.05,435.74 141.60,435.90 142.16,436.05 142.71,436.19 143.26,436.34 143.82,436.48 144.37,436.61 144.92,436.77 145.48,436.98 146.03,437.20 146.58,437.49 147.13,437.65 147.69,437.84 148.24,437.98 148.79,438.24 149.35,438.56 149.90,438.87 150.45,439.18 151.01,439.49 151.56,439.81 152.11,440.15 152.66,440.56 153.22,440.91 153.77,441.33 154.32,441.71 154.88,442.14 155.43,442.54 155.98,442.96 156.54,443.38 157.09,443.72 157.64,443.96 158.19,444.20 158.75,444.45 159.30,444.69 159.85,444.86 160.41,444.99 160.96,445.06 161.51,445.14 162.07,445.10 162.62,445.05 163.17,444.81 163.72,444.61 164.28,444.23 164.83,443.79 165.38,443.27 165.94,442.75 166.49,442.28 167.04,441.60 167.60,440.80 168.15,439.69 168.70,438.32 169.25,436.65 169.81,434.71 170.36,432.64 170.91,430.39 171.47,428.15 172.02,425.98 172.57,424.13 173.13,422.77 173.68,422.04 174.23,422.02 174.79,422.58 175.34,423.72 175.89,425.30 176.44,427.15 177.00,429.23 177.55,431.35 178.10,433.47 178.66,435.54 179.21,437.49 179.76,439.30 180.31,440.91 180.87,442.40 181.42,443.75 181.97,444.99 182.53,446.04 183.08,446.91 183.63,447.71 184.19,448.42 184.74,449.08 185.29,449.60 185.84,450.05 186.40,450.39 186.95,450.67 187.50,450.90 188.06,451.08 188.61,451.24 189.16,451.37 189.72,451.49 190.27,451.55 190.82,451.58 191.38,451.55 191.93,451.59 192.48,451.63 193.03,451.69 193.59,451.66 194.14,451.66 194.69,451.59 195.25,451.64 195.80,451.22 196.35,451.52 196.90,451.50 197.46,451.59 198.01,451.26 198.56,451.39 199.12,451.24 199.67,451.50 200.22,451.36 200.78,451.80 201.33,451.65 201.88,450.81 202.44,451.71 202.99,451.46 203.54,451.43 204.09,451.14 204.65,451.45 205.20,451.40 205.75,451.71 206.31,451.47 206.86,451.69 207.41,451.66 207.96,451.74 208.52,451.46 209.07,451.26 209.62,451.28 210.18,451.61 210.73,451.66 211.28,451.22 211.84,451.53 212.39,451.66 212.94,451.58 213.50,451.60 214.05,451.26 214.60,451.79 215.15,451.80 215.71,451.51 216.26,451.49 216.81,451.62 217.37,451.70 217.92,451.62 218.47,451.37 219.02,451.61 219.58,451.73 220.13,451.46 220.68,451.43 221.24,451.62 221.79,451.58 222.34,451.57 222.90,451.23 223.45,451.44 224.00,451.53 224.56,451.80 225.11,451.72 225.66,451.45 226.21,451.55 226.77,451.16 227.32,451.60 227.87,451.38 228.43,451.53 228.98,451.16 229.53,451.80 230.08,451.74 230.64,451.75 231.19,451.65 231.74,451.27 232.30,451.79 232.85,451.46 233.40,451.69 233.96,451.40 234.51,451.39 235.06,451.56 235.61,451.52 236.17,451.68 236.72,451.65 237.27,451.78 237.83,451.37 238.38,451.48 238.93,451.68 239.49,451.69 240.04,451.51 240.59,451.01 241.14,451.64 241.70,451.76 242.25,451.64 242.80,451.61 243.36,451.64 243.91,451.70 244.46,451.59 245.02,451.47 245.57,451.60 246.12,451.42 246.68,451.54 247.23,451.74 247.78,451.61 248.33,451.66 248.89,451.48 249.44,451.62 249.99,451.19 250.55,451.73 251.10,451.21 251.65,451.58 252.20,451.77 252.76,451.49 253.31,451.61 253.86,450.88 254.42,451.56 254.97,451.71 255.52,451.40 256.08,451.69 256.63,451.77 257.18,451.25 257.74,451.67 258.29,451.58 258.84,451.31 259.39,451.62 259.95,451.70 260.50,451.58" fill="none" stroke="#d4ac34" stroke-width="1.1" stroke-linejoin="round" opacity="1"/>
<polyline points="39.30,451.62 39.85,451.80 40.41,451.40 40.96,451.63 41.51,451.71 42.06,451.63 42.62,451.43 43.17,451.26 43.72,451.80 44.28,451.43 44.83,451.61 45.38,451.51 45.94,451.72 46.49,451.63 47.04,451.56 47.59,451.06 48.15,451.70 48.70,451.54 49.25,451.68 49.81,451.59 50.36,451.38 50.91,451.75 51.47,451.65 52.02,451.54 52.57,451.48 53.12,451.48 53.68,451.38 54.23,451.41 54.78,451.09 55.34,451.00 55.89,451.01 56.44,450.82 57.00,450.57 57.55,450.29 58.10,449.94 58.65,449.53 59.21,448.98 59.76,448.39 60.31,447.69 60.87,446.87 61.42,445.94 61.97,444.94 62.53,443.81 63.08,442.49 63.63,441.06 64.19,439.56 64.74,437.93 65.29,436.09 65.84,434.09 66.40,431.94 66.95,429.74 67.50,427.33 68.06,424.82 68.61,422.05 69.16,419.19 69.72,416.09 70.27,412.88 70.82,409.40 71.37,405.82 71.93,402.05 72.48,398.39 73.03,394.72 73.59,391.37 74.14,388.42 74.69,386.24 75.25,385.13 75.80,385.24 76.35,386.65 76.90,388.89 77.46,391.96 78.01,395.70 78.56,399.91 79.12,404.34 79.67,408.77 80.22,413.10 80.77,417.29 81.33,421.17 81.88,424.63 82.43,427.68 82.99,430.40 83.54,432.95 84.09,435.24 84.65,437.25 85.20,439.03 85.75,440.56 86.30,441.90 86.86,443.02 87.41,444.01 87.96,444.94 88.52,445.72 89.07,446.31 89.62,446.79 90.18,447.15 90.73,447.58 91.28,447.94 91.83,448.21 92.39,448.37 92.94,448.45 93.49,448.47 94.05,448.43 94.60,448.31 95.15,448.10 95.71,447.74 96.26,447.07 96.81,446.16 97.36,445.10 97.92,443.94 98.47,442.83 99.02,441.62 99.58,440.46 100.13,439.26 100.68,438.05 101.24,436.91 101.79,435.77 102.34,434.80 102.89,433.81 103.45,432.87 104.00,431.88 104.55,430.99 105.11,430.13 105.66,429.47 106.21,428.81 106.77,428.23 107.32,427.58 107.87,427.16 108.42,426.68 108.98,426.33 109.53,425.84 110.08,425.51 110.64,425.15 111.19,424.80 111.74,424.48 112.30,424.20 112.85,424.06 113.40,424.01 113.95,423.92 114.51,423.82 115.06,423.64 115.61,423.61 116.17,423.65 116.72,423.70 117.27,423.78 117.83,423.81 118.38,423.89 118.93,423.90 119.48,423.95 120.04,424.03 120.59,424.08 121.14,424.08 121.70,424.06 122.25,424.07 122.80,424.12 123.36,424.12 123.91,424.17 124.46,424.23 125.02,424.28 125.57,424.20 126.12,424.20 126.67,424.29 127.23,424.29 127.78,424.29 128.33,424.19 128.89,424.31 129.44,424.24 129.99,424.35 130.54,424.40 131.10,424.47 131.65,424.48 132.20,424.47 132.76,424.48 133.31,424.56 133.86,424.67 134.42,424.83 134.97,424.93 135.52,424.98 136.07,425.09 136.63,425.16 137.18,425.26 137.73,425.43 138.29,425.61 138.84,425.84 139.39,425.99 139.95,426.12 140.50,426.30 141.05,426.50 141.60,426.80 142.16,426.97 142.71,427.35 143.26,427.67 143.82,428.03 144.37,428.14 144.92,428.37 145.48,428.64 146.03,429.04 146.58,429.31 147.13,429.65 147.69,429.90 148.24,430.26 148.79,430.66 149.35,431.10 149.90,431.62 150.45,432.07 151.01,432.54 151.56,433.03 152.11,433.54 152.66,434.12 153.22,434.75 153.77,435.40 154.32,436.11 154.88,436.66 155.43,437.38 155.98,437.96 156.54,438.65 157.09,439.13 157.64,439.66 158.19,440.07 158.75,440.42 159.30,440.67 159.85,440.85 160.41,441.11 160.96,441.24 161.51,441.41 162.07,441.38 162.62,441.27 163.17,440.95 163.72,440.54 164.28,439.93 164.83,439.15 165.38,438.39 165.94,437.63 166.49,436.94 167.04,436.03 167.60,434.81 168.15,433.10 168.70,430.97 169.25,428.43 169.81,425.47 170.36,422.26 170.91,418.90 171.47,415.49 172.02,412.21 172.57,409.41 173.13,407.25 173.68,405.99 174.23,405.88 174.79,406.84 175.34,408.64 175.89,411.09 176.44,413.94 177.00,417.10 177.55,420.30 178.10,423.50 178.66,426.72 179.21,429.68 179.76,432.51 180.31,434.99 180.87,437.28 181.42,439.34 181.97,441.20 182.53,442.83 183.08,444.30 183.63,445.53 184.19,446.64 184.74,447.54 185.29,448.40 185.84,449.07 186.40,449.60 186.95,450.04 187.50,450.47 188.06,450.90 188.61,451.10 189.16,451.29 189.72,451.32 190.27,451.40 190.82,451.37 191.38,451.45 191.93,451.53 192.48,451.60 193.03,451.63 193.59,451.62 194.14,451.63 194.69,451.44 195.25,451.42 195.80,451.31 196.35,450.96 196.90,451.10 197.46,451.38 198.01,451.30 198.56,451.45 199.12,451.67 199.67,451.68 200.22,451.63 200.78,451.74 201.33,451.28 201.88,451.75 202.44,450.96 202.99,451.80 203.54,451.34 204.09,451.13 204.65,451.29 205.20,451.26 205.75,451.42 206.31,451.74 206.86,451.71 207.41,451.80 207.96,451.76 208.52,451.38 209.07,451.36 209.62,451.67 210.18,451.55 210.73,451.64 211.28,451.56 211.84,451.17 212.39,451.62 212.94,451.58 213.50,451.10 214.05,451.65 214.60,451.72 215.15,451.72 215.71,451.80 216.26,451.75 216.81,451.65 217.37,451.55 217.92,451.65 218.47,451.23 219.02,451.55 219.58,451.79 220.13,451.35 220.68,451.80 221.24,451.65 221.79,451.55 222.34,451.80 222.90,451.72 223.45,451.80 224.00,451.39 224.56,451.69 225.11,451.30 225.66,451.64 226.21,451.73 226.77,451.66 227.32,451.42 227.87,451.63 228.43,451.51 228.98,451.39 229.53,451.51 230.08,451.54 230.64,451.58 231.19,451.62 231.74,451.57 232.30,451.45 232.85,451.28 233.40,451.80 233.96,451.36 234.51,451.60 235.06,451.77 235.61,451.59 236.17,451.59 236.72,451.71 237.27,451.75 237.83,450.88 238.38,451.33 238.93,451.57 239.49,451.68 240.04,450.86 240.59,451.61 241.14,451.71 241.70,451.44 242.25,451.36 242.80,451.56 243.36,451.51 243.91,451.76 244.46,451.52 245.02,451.77 245.57,451.53 246.12,451.41 246.68,451.47 247.23,451.15 247.78,451.80 248.33,451.64 248.89,451.58 249.44,451.44 249.99,451.73 250.55,451.60 251.10,451.51 251.65,451.29 252.20,451.60 252.76,451.50 253.31,451.75 253.86,451.70 254.42,451.64 254.97,451.61 255.52,451.55 256.08,451.80 256.63,451.80 257.18,451.65 257.74,451.50 258.29,451.54 258.84,451.56 259.39,451.58 259.95,451.62 260.50,451.40" fill="none" stroke="#30e8f0" stroke-width="1.1" stroke-linejoin="round" opacity="1"/>
<rect x="188.1" y="275.4" width="69.6" height="80.90000000000003" fill="#fff" stroke="#a8a8a8" stroke-width="0.9"/>
<line x1="189.2" y1="281.90" x2="209.5" y2="281.90" stroke="#6f8a72" stroke-width="1.6"/>
<text class="b" x="212.30" y="285.03" font-size="9.2" font-family='"Liberation Serif", "Times New Roman", serif' text-anchor="start" fill="#111" >0°</text>
<line x1="189.2" y1="293.20" x2="209.5" y2="293.20" stroke="#e57a92" stroke-width="1.6"/>
<text class="b" x="212.30" y="296.33" font-size="9.2" font-family='"Liberation Serif", "Times New Roman", serif' text-anchor="start" fill="#111" >15°</text>
<line x1="189.2" y1="304.50" x2="209.5" y2="304.50" stroke="#4690d2" stroke-width="1.6"/>
<text class="b" x="212.30" y="307.63" font-size="9.2" font-family='"Liberation Serif", "Times New Roman", serif' text-anchor="start" fill="#111" >30°</text>
<line x1="189.2" y1="315.90" x2="209.5" y2="315.90" stroke="#62c99a" stroke-width="1.6"/>
<text class="b" x="212.30" y="319.03" font-size="9.2" font-family='"Liberation Serif", "Times New Roman", serif' text-anchor="start" fill="#111" >45°</text>
<line x1="189.2" y1="327.40" x2="209.5" y2="327.40" stroke="#a98fdc" stroke-width="1.4"/>
<text class="b" x="212.30" y="330.53" font-size="9.2" font-family='"Liberation Serif", "Times New Roman", serif' text-anchor="start" fill="#111" >60°</text>
<line x1="189.2" y1="338.60" x2="209.5" y2="338.60" stroke="#d6b445" stroke-width="1.6"/>
<text class="b" x="212.30" y="341.73" font-size="9.2" font-family='"Liberation Serif", "Times New Roman", serif' text-anchor="start" fill="#111" >75°</text>
<line x1="189.2" y1="349.90" x2="209.5" y2="349.90" stroke="#45eaf2" stroke-width="1.6"/>
<text class="b" x="212.30" y="353.03" font-size="9.2" font-family='"Liberation Serif", "Times New Roman", serif' text-anchor="start" fill="#111" >white board</text>
<text class="b" x="150.00" y="473.50" font-size="9.2" font-family='"Liberation Serif", "Times New Roman", serif' text-anchor="middle" fill="#111" >λ (nm)</text>
<text class="b" transform="translate(12.8,358.2) rotate(-90)" font-size="9.2" font-family='"Liberation Serif", "Times New Roman", serif' text-anchor="middle" fill="#111"><tspan font-style="italic">L</tspan><tspan font-style="italic" font-size="6.5" dy="2">e</tspan><tspan dy="-2"> (W/sr·m</tspan><tspan font-size="6.5" dy="-3.5">2</tspan><tspan dy="3.5">)</tspan></text>
<text class="b" x="290.60" y="261.00" font-size="17.6" font-family='"Liberation Serif", "Times New Roman", serif' text-anchor="start" fill="#111" >(d)</text>
<g clip-path="none">
<rect x="324.80" y="272.70" width="221.60" height="179.70" fill="none" stroke="#636363" stroke-width="1.6"/>
<path d="M335.88,452.40v3.8 M363.58,452.40v3.8 M391.28,452.40v3.8 M418.98,452.40v3.8 M446.68,452.40v3.8 M474.38,452.40v3.8 M502.08,452.40v3.8 M529.78,452.40v3.8 M349.73,452.40v1.8 M377.43,452.40v1.8 M405.13,452.40v1.8 M432.83,452.40v1.8 M460.53,452.40v1.8 M488.23,452.40v1.8 M515.93,452.40v1.8 M543.63,452.40v1.8 M324.80,452.40h-3.8 M324.80,426.73h-3.8 M324.80,401.06h-3.8 M324.80,375.39h-3.8 M324.80,349.71h-3.8 M324.80,324.04h-3.8 M324.80,298.37h-3.8 M324.80,272.70h-3.8 M324.80,439.56h-1.8 M324.80,413.89h-1.8 M324.80,388.22h-1.8 M324.80,362.55h-1.8 M324.80,336.88h-1.8 M324.80,311.21h-1.8 M324.80,285.54h-1.8" stroke="#636363" stroke-width="1" fill="none"/>
<text x="335.88" y="464.00" font-size="7.6" font-family='"Liberation Serif", "Times New Roman", serif' text-anchor="middle" fill="#111" >400</text>
<text x="363.58" y="464.00" font-size="7.6" font-family='"Liberation Serif", "Times New Roman", serif' text-anchor="middle" fill="#111" >450</text>
<text x="391.28" y="464.00" font-size="7.6" font-family='"Liberation Serif", "Times New Roman", serif' text-anchor="middle" fill="#111" >500</text>
<text x="418.98" y="464.00" font-size="7.6" font-family='"Liberation Serif", "Times New Roman", serif' text-anchor="middle" fill="#111" >550</text>
<text x="446.68" y="464.00" font-size="7.6" font-family='"Liberation Serif", "Times New Roman", serif' text-anchor="middle" fill="#111" >600</text>
<text x="474.38" y="464.00" font-size="7.6" font-family='"Liberation Serif", "Times New Roman", serif' text-anchor="middle" fill="#111" >650</text>
<text x="502.08" y="464.00" font-size="7.6" font-family='"Liberation Serif", "Times New Roman", serif' text-anchor="middle" fill="#111" >700</text>
<text x="529.78" y="464.00" font-size="7.6" font-family='"Liberation Serif", "Times New Roman", serif' text-anchor="middle" fill="#111" >750</text>
<text x="319.80" y="455.06" font-size="7.6" font-family='"Liberation Serif", "Times New Roman", serif' text-anchor="end" fill="#111" >0.000</text>
<text x="319.80" y="429.39" font-size="7.6" font-family='"Liberation Serif", "Times New Roman", serif' text-anchor="end" fill="#111" >0.001</text>
<text x="319.80" y="403.72" font-size="7.6" font-family='"Liberation Serif", "Times New Roman", serif' text-anchor="end" fill="#111" >0.002</text>
<text x="319.80" y="378.05" font-size="7.6" font-family='"Liberation Serif", "Times New Roman", serif' text-anchor="end" fill="#111" >0.003</text>
<text x="319.80" y="352.37" font-size="7.6" font-family='"Liberation Serif", "Times New Roman", serif' text-anchor="end" fill="#111" >0.004</text>
<text x="319.80" y="326.70" font-size="7.6" font-family='"Liberation Serif", "Times New Roman", serif' text-anchor="end" fill="#111" >0.005</text>
<text x="319.80" y="301.03" font-size="7.6" font-family='"Liberation Serif", "Times New Roman", serif' text-anchor="end" fill="#111" >0.006</text>
<text x="319.80" y="275.36" font-size="7.6" font-family='"Liberation Serif", "Times New Roman", serif' text-anchor="end" fill="#111" >0.007</text>
</g>
<polyline points="324.80,452.21 325.35,452.28 325.91,452.18 326.46,451.86 327.02,452.40 327.57,452.06 328.12,451.99 328.68,452.03 329.23,452.04 329.79,451.90 330.34,452.21 330.89,452.26 331.45,452.26 332.00,452.04 332.56,451.98 333.11,452.15 333.66,452.14 334.22,451.78 334.77,451.90 335.33,452.11 335.88,452.13 336.43,452.18 336.99,452.13 337.54,452.27 338.10,452.05 338.65,451.76 339.20,450.78 339.76,451.38 340.31,451.07 340.87,450.68 341.42,450.58 341.97,449.93 342.53,449.24 343.08,448.47 343.64,447.59 344.19,446.53 344.74,445.17 345.30,443.71 345.85,441.75 346.41,439.77 346.96,437.45 347.51,434.88 348.07,431.85 348.62,428.35 349.18,424.70 349.73,420.77 350.28,416.47 350.84,411.93 351.39,406.89 351.95,401.66 352.50,395.90 353.05,389.78 353.61,383.19 354.16,376.05 354.72,368.39 355.27,360.42 355.82,352.19 356.38,343.73 356.93,334.51 357.49,324.98 358.04,315.23 358.59,305.94 359.15,297.24 359.70,289.80 360.26,284.03 360.81,281.19 361.36,281.36 361.92,284.98 362.47,290.78 363.03,298.81 363.58,308.31 364.13,318.95 364.69,330.05 365.24,341.50 365.80,352.94 366.35,363.71 366.90,373.58 367.46,382.26 368.01,390.22 368.57,397.32 369.12,403.55 369.67,409.22 370.23,414.29 370.78,418.90 371.34,422.79 371.89,426.41 372.44,429.55 373.00,432.17 373.55,434.37 374.11,436.11 374.66,436.35 375.21,438.00 375.77,438.22 376.32,440.57 376.88,440.64 377.43,441.51 377.98,442.15 378.54,442.22 379.09,443.48 379.65,443.43 380.20,443.11 380.75,441.97 381.31,441.51 381.86,440.05 382.42,439.62 382.97,437.92 383.52,435.33 384.08,433.67 384.63,431.26 385.19,428.77 385.74,427.27 386.29,424.46 386.85,421.59 387.40,419.55 387.96,416.81 388.51,414.10 389.06,411.77 389.62,409.10 390.17,406.35 390.73,403.14 391.28,400.20 391.83,398.02 392.39,395.57 392.94,392.77 393.50,390.88 394.05,389.05 394.60,387.70 395.16,385.84 395.71,384.78 396.27,384.82 396.82,383.31 397.37,383.08 397.93,382.77 398.48,382.50 399.04,381.58 399.59,380.96 400.14,380.55 400.70,380.38 401.25,379.95 401.81,378.98 402.36,378.97 402.91,379.05 403.47,379.44 404.02,380.02 404.58,380.23 405.13,381.29 405.68,381.90 406.24,382.76 406.79,383.28 407.35,384.26 407.90,385.37 408.45,385.79 409.01,386.30 409.56,385.27 410.12,386.28 410.67,385.38 411.22,385.46 411.78,385.50 412.33,385.28 412.89,385.36 413.44,385.91 413.99,386.57 414.55,387.05 415.10,387.33 415.66,387.38 416.21,387.68 416.76,387.41 417.32,387.13 417.87,387.34 418.43,387.29 418.98,386.93 419.53,387.69 420.09,387.97 420.64,388.58 421.20,388.92 421.75,389.11 422.30,389.82 422.86,391.08 423.41,391.71 423.97,392.36 424.52,393.17 425.07,393.73 425.63,395.48 426.18,395.32 426.74,396.99 427.29,397.22 427.84,398.83 428.40,399.41 428.95,399.96 429.51,401.05 430.06,401.46 430.61,401.76 431.17,403.38 431.72,404.18 432.28,404.85 432.83,405.63 433.38,406.06 433.94,407.45 434.49,409.07 435.05,409.98 435.60,410.83 436.15,412.74 436.71,414.73 437.26,416.11 437.82,417.11 438.37,418.81 438.92,420.44 439.48,421.28 440.03,422.78 440.59,424.30 441.14,425.63 441.69,426.89 442.25,427.82 442.80,429.59 443.36,429.97 443.91,430.60 444.46,431.60 445.02,431.49 445.57,431.84 446.13,431.17 446.68,431.03 447.23,430.61 447.79,430.26 448.34,430.35 448.90,429.17 449.45,427.87 450.00,426.23 450.56,424.81 451.11,422.85 451.67,420.06 452.22,420.14 452.77,417.53 453.33,413.61 453.88,408.88 454.44,403.12 454.99,396.45 455.54,388.59 456.10,380.10 456.65,371.10 457.21,362.33 457.76,353.98 458.31,346.85 458.87,341.33 459.42,338.33 459.98,337.93 460.53,340.32 461.08,344.41 461.64,350.58 462.19,357.60 462.75,365.41 463.30,373.56 463.85,381.82 464.41,390.07 464.96,397.49 465.52,404.49 466.07,410.80 466.62,416.72 467.18,421.66 467.73,426.25 468.29,430.22 468.84,433.80 469.39,436.88 469.95,439.66 470.50,442.27 471.06,444.30 471.61,445.90 472.16,447.35 472.72,448.59 473.27,449.53 473.83,450.06 474.38,450.44 474.93,450.90 475.49,451.14 476.04,451.39 476.60,451.58 477.15,451.84 477.70,451.99 478.26,452.18 478.81,452.19 479.37,452.14 479.92,451.99 480.47,451.58 481.03,452.32 481.58,451.83 482.14,451.50 482.69,451.81 483.24,451.05 483.80,451.82 484.35,451.73 484.91,452.17 485.46,451.78 486.01,452.38 486.57,452.40 487.12,452.40 487.68,452.40 488.23,452.25 488.78,451.98 489.34,452.40 489.89,452.31 490.45,452.33 491.00,452.15 491.55,451.84 492.11,452.12 492.66,452.40 493.22,451.84 493.77,452.37 494.32,451.68 494.88,451.91 495.43,452.22 495.99,452.16 496.54,452.40 497.09,452.20 497.65,452.26 498.20,452.12 498.76,452.40 499.31,452.29 499.86,452.16 500.42,451.99 500.97,452.14 501.53,451.72 502.08,451.69 502.63,451.57 503.19,452.12 503.74,452.33 504.30,451.92 504.85,451.76 505.40,452.40 505.96,452.37 506.51,451.90 507.07,451.91 507.62,452.20 508.17,452.36 508.73,452.17 509.28,451.46 509.84,452.12 510.39,451.91 510.94,451.95 511.50,451.85 512.05,451.75 512.61,451.80 513.16,452.14 513.71,452.26 514.27,452.36 514.82,452.19 515.38,452.38 515.93,452.07 516.48,451.98 517.04,451.56 517.59,452.00 518.15,452.12 518.70,451.98 519.25,452.40 519.81,452.40 520.36,452.40 520.92,452.40 521.47,452.35 522.02,452.09 522.58,451.75 523.13,452.02 523.69,452.24 524.24,452.04 524.79,452.16 525.35,452.34 525.90,452.21 526.46,452.28 527.01,451.88 527.56,452.18 528.12,452.12 528.67,452.26 529.23,452.40 529.78,451.87 530.33,451.69 530.89,452.06 531.44,452.24 532.00,452.01 532.55,452.21 533.10,452.30 533.66,452.21 534.21,452.18 534.77,452.04 535.32,451.89 535.87,451.84 536.43,452.40 536.98,452.40 537.54,452.40 538.09,452.12 538.64,451.83 539.20,452.19 539.75,452.15 540.31,452.35 540.86,452.37 541.41,452.28 541.97,452.32 542.52,452.30 543.08,451.91 543.63,451.98 544.18,452.35 544.74,451.82 545.29,452.31 545.85,452.34 546.40,452.34" fill="none" stroke="#56765b" stroke-width="1.1" stroke-linejoin="round" opacity="1"/>
<polyline points="324.80,452.32 325.35,452.34 325.91,451.92 326.46,451.87 327.02,452.19 327.57,452.40 328.12,452.04 328.68,452.35 329.23,452.10 329.79,452.30 330.34,451.43 330.89,452.19 331.45,452.26 332.00,452.22 332.56,452.15 333.11,452.31 333.66,452.31 334.22,452.38 334.77,452.21 335.33,452.08 335.88,452.07 336.43,452.00 336.99,452.02 337.54,452.23 338.10,452.14 338.65,451.87 339.20,452.06 339.76,451.80 340.31,451.84 340.87,451.61 341.42,451.49 341.97,451.20 342.53,450.93 343.08,450.48 343.64,449.94 344.19,449.33 344.74,448.66 345.30,447.89 345.85,446.97 346.41,445.91 346.96,444.73 347.51,443.36 348.07,441.78 348.62,440.03 349.18,438.23 349.73,436.25 350.28,434.07 350.84,431.64 351.39,429.09 351.95,426.33 352.50,423.31 353.05,420.08 353.61,416.71 354.16,413.11 354.72,409.33 355.27,405.25 355.82,401.00 356.38,396.55 356.93,391.87 357.49,386.97 358.04,381.93 358.59,377.07 359.15,372.51 359.70,368.68 360.26,365.84 360.81,364.46 361.36,364.52 361.92,366.36 362.47,369.41 363.03,373.56 363.58,378.48 364.13,383.87 364.69,389.74 365.24,395.59 365.80,401.39 366.35,406.82 366.90,411.89 367.46,416.41 368.01,420.40 368.57,424.09 369.12,427.46 369.67,430.44 370.23,433.03 370.78,435.36 371.34,437.45 371.89,439.25 372.44,440.81 373.00,442.17 373.55,443.42 374.11,444.31 374.66,445.01 375.21,445.53 375.77,446.15 376.32,446.61 376.88,446.96 377.43,447.25 377.98,447.51 378.54,447.71 379.09,447.76 379.65,447.68 380.20,447.44 380.75,447.04 381.31,446.45 381.86,445.57 382.42,444.37 382.97,442.91 383.52,441.40 384.08,439.80 384.63,438.33 385.19,436.66 385.74,435.15 386.29,433.48 386.85,431.94 387.40,430.36 387.96,428.98 388.51,427.70 389.06,426.45 389.62,425.12 390.17,423.96 390.73,422.93 391.28,422.00 391.83,421.23 392.39,420.41 392.94,419.91 393.50,419.26 394.05,418.69 394.60,418.09 395.16,417.67 395.71,417.23 396.27,416.90 396.82,416.45 397.37,416.24 397.93,415.99 398.48,415.91 399.04,415.78 399.59,415.61 400.14,415.57 400.70,415.66 401.25,415.77 401.81,415.89 402.36,415.93 402.91,416.09 403.47,416.17 404.02,416.23 404.58,416.35 405.13,416.53 405.68,416.79 406.24,416.97 406.79,417.11 407.35,417.17 407.90,417.23 408.45,417.25 409.01,417.45 409.56,417.48 410.12,417.54 410.67,417.61 411.22,417.65 411.78,417.75 412.33,417.77 412.89,417.89 413.44,418.04 413.99,418.06 414.55,418.15 415.10,418.12 415.66,418.16 416.21,418.31 416.76,418.62 417.32,418.84 417.87,418.95 418.43,418.93 418.98,419.04 419.53,419.27 420.09,419.50 420.64,419.74 421.20,419.86 421.75,420.13 422.30,420.26 422.86,420.42 423.41,420.61 423.97,420.78 424.52,421.22 425.07,421.40 425.63,421.84 426.18,422.02 426.74,422.36 427.29,422.59 427.84,423.01 428.40,423.36 428.95,423.86 429.51,424.12 430.06,424.53 430.61,424.79 431.17,425.25 431.72,425.64 432.28,426.12 432.83,426.46 433.38,426.82 433.94,427.16 434.49,427.66 435.05,428.16 435.60,428.73 436.15,429.25 436.71,429.93 437.26,430.63 437.82,431.36 438.37,432.01 438.92,432.74 439.48,433.52 440.03,434.41 440.59,435.11 441.14,435.91 441.69,436.66 442.25,437.32 442.80,437.98 443.36,438.38 443.91,439.02 444.46,439.50 445.02,440.04 445.57,440.28 446.13,440.47 446.68,440.52 447.23,440.65 447.79,440.47 448.34,440.31 448.90,439.93 449.45,439.31 450.00,438.71 450.56,437.82 451.11,437.17 451.67,436.15 452.22,435.23 452.77,433.94 453.33,432.29 453.88,430.14 454.44,427.34 454.99,424.16 455.54,420.37 456.10,416.43 456.65,412.13 457.21,407.88 457.76,403.78 458.31,400.20 458.87,397.37 459.42,395.91 459.98,395.88 460.53,397.13 461.08,399.19 461.64,402.13 462.19,405.53 462.75,409.56 463.30,413.60 463.85,417.88 464.41,421.68 464.96,425.27 465.52,428.62 466.07,431.75 466.62,434.68 467.18,437.10 467.73,439.34 468.29,441.31 468.84,443.20 469.39,444.75 469.95,446.15 470.50,447.29 471.06,448.41 471.61,449.21 472.16,449.87 472.72,450.39 473.27,450.78 473.83,451.21 474.38,451.48 474.93,451.77 475.49,451.84 476.04,451.91 476.60,451.89 477.15,452.15 477.70,452.22 478.26,452.26 478.81,452.18 479.37,452.10 479.92,452.21 480.47,451.97 481.03,451.97 481.58,451.99 482.14,452.18 482.69,452.05 483.24,452.00 483.80,451.68 484.35,452.37 484.91,452.38 485.46,452.31 486.01,451.92 486.57,452.06 487.12,452.20 487.68,451.81 488.23,452.21 488.78,452.34 489.34,452.40 489.89,452.17 490.45,452.29 491.00,452.37 491.55,452.31 492.11,452.02 492.66,452.38 493.22,452.26 493.77,452.15 494.32,451.86 494.88,452.11 495.43,452.40 495.99,452.23 496.54,452.37 497.09,451.70 497.65,452.24 498.20,452.39 498.76,452.13 499.31,452.18 499.86,452.06 500.42,452.01 500.97,451.93 501.53,452.25 502.08,452.40 502.63,452.37 503.19,452.24 503.74,451.91 504.30,451.83 504.85,452.24 505.40,452.04 505.96,452.13 506.51,452.24 507.07,452.40 507.62,452.04 508.17,452.25 508.73,452.40 509.28,452.30 509.84,452.33 510.39,452.40 510.94,452.28 511.50,451.78 512.05,452.06 512.61,452.34 513.16,451.91 513.71,452.31 514.27,452.10 514.82,452.21 515.38,452.07 515.93,451.65 516.48,452.10 517.04,452.19 517.59,452.38 518.15,452.37 518.70,452.28 519.25,451.99 519.81,452.25 520.36,452.38 520.92,452.05 521.47,452.34 522.02,452.13 522.58,452.19 523.13,452.02 523.69,452.39 524.24,452.33 524.79,452.31 525.35,452.20 525.90,452.19 526.46,452.40 527.01,452.16 527.56,452.27 528.12,452.12 528.67,451.86 529.23,452.31 529.78,452.17 530.33,452.38 530.89,452.08 531.44,452.00 532.00,452.22 532.55,452.39 533.10,452.26 533.66,452.03 534.21,452.37 534.77,452.14 535.32,452.40 535.87,451.83 536.43,452.24 536.98,452.09 537.54,452.07 538.09,452.31 538.64,452.34 539.20,452.37 539.75,452.30 540.31,452.19 540.86,452.19 541.41,452.12 541.97,452.35 542.52,452.03 543.08,451.62 543.63,451.93 544.18,452.20 544.74,452.14 545.29,452.40 545.85,452.23 546.40,452.28" fill="none" stroke="#e3708c" stroke-width="1.1" stroke-linejoin="round" opacity="1"/>
<polyline points="324.80,452.26 325.35,452.37 325.91,452.23 326.46,452.20 327.02,452.30 327.57,452.21 328.12,452.40 328.68,452.30 329.23,452.14 329.79,452.38 330.34,452.25 330.89,452.29 331.45,452.13 332.00,452.09 332.56,452.33 333.11,452.30 333.66,452.19 334.22,452.27 334.77,452.30 335.33,452.21 335.88,452.23 336.43,452.20 336.99,452.10 337.54,452.10 338.10,452.16 338.65,452.21 339.20,451.76 339.76,451.64 340.31,451.66 340.87,451.81 341.42,451.77 341.97,451.61 342.53,451.36 343.08,451.07 343.64,450.71 344.19,450.33 344.74,449.86 345.30,449.31 345.85,448.68 346.41,447.91 346.96,447.13 347.51,446.18 348.07,445.21 348.62,444.05 349.18,442.78 349.73,441.37 350.28,439.94 350.84,438.34 351.39,436.62 351.95,434.71 352.50,432.76 353.05,430.61 353.61,428.30 354.16,425.80 354.72,423.18 355.27,420.40 355.82,417.46 356.38,414.38 356.93,411.19 357.49,407.89 358.04,404.60 358.59,401.41 359.15,398.43 359.70,395.77 360.26,393.74 360.81,392.75 361.36,392.82 361.92,394.05 362.47,396.08 363.03,398.90 363.58,402.27 364.13,405.94 364.69,409.86 365.24,413.87 365.80,417.85 366.35,421.62 366.90,424.98 367.46,428.02 368.01,430.75 368.57,433.31 369.12,435.60 369.67,437.60 370.23,439.39 370.78,440.97 371.34,442.34 371.89,443.51 372.44,444.51 373.00,445.47 373.55,446.27 374.11,446.87 374.66,447.37 375.21,447.82 375.77,448.25 376.32,448.55 376.88,448.85 377.43,449.05 377.98,449.23 378.54,449.25 379.09,449.30 379.65,449.27 380.20,449.19 380.75,448.95 381.31,448.53 381.86,447.93 382.42,447.17 382.97,446.25 383.52,445.21 384.08,444.20 384.63,443.16 385.19,442.16 385.74,441.03 386.29,439.95 386.85,438.90 387.40,437.98 387.96,437.06 388.51,436.15 389.06,435.31 389.62,434.54 390.17,433.79 390.73,433.09 391.28,432.43 391.83,431.91 392.39,431.41 392.94,430.99 393.50,430.53 394.05,430.12 394.60,429.74 395.16,429.44 395.71,429.13 396.27,428.84 396.82,428.65 397.37,428.53 397.93,428.38 398.48,428.28 399.04,428.12 399.59,428.10 400.14,428.02 400.70,427.94 401.25,427.94 401.81,427.91 402.36,428.00 402.91,428.00 403.47,428.09 404.02,428.19 404.58,428.32 405.13,428.46 405.68,428.55 406.24,428.64 406.79,428.64 407.35,428.77 407.90,428.82 408.45,428.91 409.01,428.94 409.56,428.95 410.12,428.98 410.67,429.01 411.22,429.12 411.78,429.14 412.33,429.13 412.89,429.16 413.44,429.27 413.99,429.34 414.55,429.32 415.10,429.36 415.66,429.39 416.21,429.46 416.76,429.54 417.32,429.58 417.87,429.61 418.43,429.67 418.98,429.86 419.53,430.01 420.09,430.05 420.64,430.09 421.20,430.23 421.75,430.35 422.30,430.55 422.86,430.68 423.41,430.87 423.97,430.92 424.52,431.12 425.07,431.29 425.63,431.51 426.18,431.75 426.74,431.97 427.29,432.18 427.84,432.26 428.40,432.41 428.95,432.61 429.51,432.87 430.06,433.12 430.61,433.41 431.17,433.76 431.72,434.10 432.28,434.32 432.83,434.60 433.38,434.88 433.94,435.20 434.49,435.49 435.05,435.78 435.60,436.20 436.15,436.58 436.71,437.06 437.26,437.46 437.82,437.94 438.37,438.34 438.92,438.87 439.48,439.43 440.03,440.04 440.59,440.52 441.14,440.97 441.69,441.41 442.25,441.89 442.80,442.29 443.36,442.73 443.91,443.09 444.46,443.39 445.02,443.71 445.57,443.97 446.13,444.24 446.68,444.25 447.23,444.25 447.79,444.15 448.34,444.03 448.90,443.89 449.45,443.59 450.00,443.08 450.56,442.45 451.11,441.79 451.67,441.26 452.22,440.60 452.77,439.93 453.33,438.88 453.88,437.50 454.44,435.73 454.99,433.58 455.54,431.23 456.10,428.46 456.65,425.69 457.21,422.85 457.76,420.28 458.31,418.00 458.87,416.29 459.42,415.30 459.98,415.25 460.53,415.99 461.08,417.45 461.64,419.35 462.19,421.67 462.75,424.29 463.30,426.99 463.85,429.63 464.41,432.16 464.96,434.57 465.52,436.77 466.07,438.76 466.62,440.57 467.18,442.29 467.73,443.77 468.29,445.13 468.84,446.35 469.39,447.42 469.95,448.25 470.50,448.94 471.06,449.64 471.61,450.32 472.16,450.79 472.72,451.03 473.27,451.25 473.83,451.40 474.38,451.66 474.93,451.84 475.49,452.06 476.04,452.20 476.60,452.24 477.15,452.28 477.70,452.22 478.26,452.21 478.81,452.24 479.37,452.32 479.92,452.40 480.47,452.36 481.03,452.27 481.58,452.29 482.14,452.11 482.69,452.23 483.24,452.35 483.80,452.17 484.35,451.90 484.91,451.98 485.46,452.10 486.01,451.74 486.57,452.05 487.12,452.38 487.68,452.27 488.23,452.28 488.78,452.25 489.34,452.25 489.89,452.17 490.45,452.11 491.00,452.07 491.55,452.40 492.11,452.22 492.66,451.82 493.22,451.86 493.77,452.32 494.32,452.36 494.88,451.86 495.43,452.02 495.99,452.34 496.54,452.40 497.09,452.37 497.65,452.02 498.20,452.37 498.76,451.80 499.31,452.17 499.86,452.32 500.42,452.12 500.97,452.26 501.53,451.94 502.08,452.09 502.63,451.89 503.19,452.23 503.74,452.33 504.30,452.16 504.85,452.03 505.40,451.94 505.96,452.34 506.51,452.39 507.07,451.82 507.62,452.06 508.17,452.14 508.73,452.20 509.28,452.09 509.84,452.15 510.39,452.31 510.94,452.24 511.50,452.37 512.05,452.11 512.61,452.11 513.16,451.86 513.71,452.19 514.27,452.28 514.82,452.09 515.38,452.25 515.93,452.09 516.48,452.11 517.04,451.90 517.59,451.95 518.15,452.31 518.70,452.25 519.25,452.32 519.81,452.00 520.36,452.40 520.92,451.82 521.47,451.99 522.02,452.28 522.58,452.30 523.13,452.01 523.69,452.27 524.24,452.27 524.79,452.38 525.35,452.10 525.90,452.28 526.46,452.05 527.01,452.23 527.56,452.11 528.12,452.24 528.67,452.33 529.23,452.01 529.78,452.21 530.33,452.07 530.89,452.23 531.44,452.28 532.00,452.13 532.55,452.07 533.10,452.30 533.66,451.93 534.21,451.94 534.77,452.03 535.32,452.30 535.87,452.11 536.43,452.26 536.98,452.14 537.54,452.00 538.09,452.32 538.64,452.36 539.20,452.26 539.75,452.35 540.31,452.28 540.86,451.99 541.41,452.06 541.97,452.21 542.52,452.26 543.08,452.08 543.63,452.11 544.18,452.27 544.74,452.32 545.29,452.18 545.85,452.33 546.40,451.92" fill="none" stroke="#3b8bd0" stroke-width="1.1" stroke-linejoin="round" opacity="1"/>
<polyline points="324.80,452.35 325.35,452.34 325.91,452.13 326.46,451.79 327.02,452.30 327.57,451.99 328.12,452.19 328.68,452.11 329.23,452.04 329.79,451.94 330.34,452.00 330.89,452.25 331.45,452.03 332.00,452.24 332.56,452.37 333.11,452.22 333.66,452.00 334.22,452.23 334.77,452.34 335.33,452.14 335.88,452.24 336.43,452.27 336.99,452.16 337.54,452.10 338.10,451.79 338.65,451.76 339.20,451.58 339.76,452.08 340.31,452.00 340.87,452.04 341.42,452.01 341.97,451.94 342.53,451.83 343.08,451.68 343.64,451.47 344.19,451.25 344.74,450.98 345.30,450.68 345.85,450.33 346.41,449.93 346.96,449.47 347.51,448.91 348.07,448.33 348.62,447.67 349.18,446.98 349.73,446.20 350.28,445.35 350.84,444.43 351.39,443.44 351.95,442.39 352.50,441.26 353.05,440.05 353.61,438.78 354.16,437.41 354.72,435.93 355.27,434.34 355.82,432.69 356.38,430.94 356.93,429.13 357.49,427.27 358.04,425.41 358.59,423.55 359.15,421.84 359.70,420.37 360.26,419.30 360.81,418.74 361.36,418.73 361.92,419.41 362.47,420.55 363.03,422.16 363.58,424.06 364.13,426.15 364.69,428.37 365.24,430.63 365.80,432.84 366.35,434.95 366.90,436.87 367.46,438.57 368.01,440.12 368.57,441.51 369.12,442.80 369.67,443.96 370.23,444.98 370.78,445.89 371.34,446.60 371.89,447.27 372.44,447.85 373.00,448.36 373.55,448.74 374.11,449.06 374.66,449.32 375.21,449.56 375.77,449.75 376.32,449.92 376.88,450.08 377.43,450.18 377.98,450.25 378.54,450.25 379.09,450.23 379.65,450.20 380.20,450.14 380.75,449.98 381.31,449.67 381.86,449.18 382.42,448.57 382.97,447.85 383.52,447.19 384.08,446.45 384.63,445.75 385.19,444.96 385.74,444.17 386.29,443.39 386.85,442.63 387.40,441.94 387.96,441.25 388.51,440.59 389.06,439.95 389.62,439.32 390.17,438.81 390.73,438.34 391.28,437.94 391.83,437.54 392.39,437.13 392.94,436.77 393.50,436.44 394.05,436.21 394.60,435.94 395.16,435.71 395.71,435.46 396.27,435.28 396.82,435.15 397.37,435.03 397.93,434.93 398.48,434.89 399.04,434.81 399.59,434.76 400.14,434.67 400.70,434.65 401.25,434.68 401.81,434.72 402.36,434.80 402.91,434.81 403.47,434.84 404.02,434.88 404.58,434.97 405.13,435.05 405.68,435.09 406.24,435.15 406.79,435.22 407.35,435.30 407.90,435.37 408.45,435.36 409.01,435.36 409.56,435.36 410.12,435.41 410.67,435.43 411.22,435.40 411.78,435.43 412.33,435.46 412.89,435.54 413.44,435.57 413.99,435.60 414.55,435.67 415.10,435.73 415.66,435.80 416.21,435.80 416.76,435.85 417.32,435.89 417.87,435.97 418.43,436.01 418.98,436.12 419.53,436.18 420.09,436.26 420.64,436.30 421.20,436.39 421.75,436.51 422.30,436.62 422.86,436.74 423.41,436.80 423.97,436.87 424.52,436.96 425.07,437.10 425.63,437.26 426.18,437.38 426.74,437.57 427.29,437.75 427.84,437.95 428.40,438.06 428.95,438.22 429.51,438.42 430.06,438.63 430.61,438.81 431.17,438.97 431.72,439.13 432.28,439.29 432.83,439.49 433.38,439.69 433.94,439.94 434.49,440.18 435.05,440.50 435.60,440.79 436.15,441.07 436.71,441.32 437.26,441.65 437.82,441.94 438.37,442.32 438.92,442.67 439.48,443.08 440.03,443.43 440.59,443.77 441.14,444.13 441.69,444.51 442.25,444.84 442.80,445.16 443.36,445.42 443.91,445.70 444.46,445.92 445.02,446.10 445.57,446.24 446.13,446.37 446.68,446.46 447.23,446.46 447.79,446.43 448.34,446.31 448.90,446.13 449.45,445.84 450.00,445.54 450.56,445.08 451.11,444.63 451.67,444.07 452.22,443.54 452.77,442.90 453.33,442.07 453.88,440.98 454.44,439.56 454.99,437.90 455.54,436.03 456.10,433.98 456.65,431.80 457.21,429.60 457.76,427.51 458.31,425.67 458.87,424.28 459.42,423.53 459.98,423.45 460.53,423.96 461.08,425.02 461.64,426.57 462.19,428.43 462.75,430.45 463.30,432.56 463.85,434.70 464.41,436.71 464.96,438.56 465.52,440.23 466.07,441.79 466.62,443.23 467.18,444.54 467.73,445.72 468.29,446.75 468.84,447.64 469.39,448.47 469.95,449.19 470.50,449.80 471.06,450.31 471.61,450.76 472.16,451.09 472.72,451.34 473.27,451.54 473.83,451.76 474.38,451.93 474.93,452.00 475.49,452.10 476.04,452.13 476.60,452.26 477.15,452.26 477.70,452.30 478.26,452.31 478.81,452.32 479.37,452.33 479.92,452.33 480.47,451.98 481.03,452.15 481.58,452.14 482.14,452.18 482.69,452.32 483.24,451.97 483.80,452.18 484.35,452.20 484.91,452.34 485.46,452.40 486.01,452.40 486.57,452.19 487.12,451.82 487.68,452.22 488.23,452.20 488.78,452.12 489.34,452.35 489.89,452.34 490.45,451.91 491.00,452.11 491.55,452.19 492.11,452.06 492.66,452.35 493.22,451.82 493.77,452.34 494.32,452.34 494.88,452.13 495.43,452.23 495.99,452.14 496.54,452.20 497.09,452.36 497.65,452.02 498.20,451.86 498.76,452.36 499.31,452.38 499.86,451.58 500.42,452.27 500.97,451.70 501.53,452.25 502.08,452.33 502.63,452.40 503.19,451.85 503.74,452.23 504.30,452.35 504.85,452.24 505.40,452.05 505.96,452.15 506.51,452.31 507.07,452.20 507.62,452.31 508.17,452.31 508.73,452.26 509.28,452.21 509.84,452.06 510.39,452.30 510.94,452.23 511.50,451.97 512.05,452.01 512.61,452.18 513.16,451.97 513.71,451.82 514.27,451.84 514.82,451.80 515.38,452.19 515.93,452.01 516.48,452.38 517.04,452.05 517.59,451.99 518.15,452.18 518.70,452.16 519.25,452.29 519.81,452.18 520.36,451.88 520.92,452.31 521.47,451.72 522.02,451.79 522.58,452.33 523.13,452.40 523.69,451.69 524.24,452.35 524.79,452.31 525.35,452.30 525.90,452.22 526.46,452.17 527.01,452.32 527.56,452.22 528.12,452.29 528.67,452.23 529.23,452.27 529.78,452.31 530.33,452.13 530.89,451.67 531.44,452.34 532.00,452.17 532.55,452.18 533.10,452.16 533.66,452.02 534.21,452.40 534.77,452.23 535.32,452.34 535.87,451.91 536.43,452.12 536.98,452.30 537.54,452.36 538.09,452.11 538.64,452.19 539.20,452.38 539.75,452.25 540.31,452.12 540.86,452.11 541.41,452.25 541.97,452.05 542.52,451.82 543.08,451.94 543.63,451.86 544.18,452.31 544.74,452.24 545.29,452.34 545.85,451.89 546.40,452.32" fill="none" stroke="#55c894" stroke-width="1.1" stroke-linejoin="round" opacity="1"/>
<polyline points="324.80,452.18 325.35,452.32 325.91,451.68 326.46,452.30 327.02,452.10 327.57,452.04 328.12,452.38 328.68,452.40 329.23,452.27 329.79,452.17 330.34,452.12 330.89,452.24 331.45,452.40 332.00,452.36 332.56,452.31 333.11,452.20 333.66,452.10 334.22,452.02 334.77,451.97 335.33,452.20 335.88,451.73 336.43,451.87 336.99,451.69 337.54,452.29 338.10,452.14 338.65,452.04 339.20,452.06 339.76,452.13 340.31,452.17 340.87,452.10 341.42,452.23 341.97,452.17 342.53,452.09 343.08,451.99 343.64,451.88 344.19,451.74 344.74,451.61 345.30,451.45 345.85,451.29 346.41,451.09 346.96,450.84 347.51,450.57 348.07,450.24 348.62,449.91 349.18,449.55 349.73,449.12 350.28,448.64 350.84,448.14 351.39,447.64 351.95,447.13 352.50,446.54 353.05,445.91 353.61,445.21 354.16,444.49 354.72,443.71 355.27,442.89 355.82,442.04 356.38,441.13 356.93,440.17 357.49,439.18 358.04,438.17 358.59,437.20 359.15,436.29 359.70,435.53 360.26,434.97 360.81,434.66 361.36,434.68 361.92,435.02 362.47,435.62 363.03,436.46 363.58,437.46 364.13,438.58 364.69,439.73 365.24,440.93 365.80,442.09 366.35,443.22 366.90,444.22 367.46,445.13 368.01,445.95 368.57,446.70 369.12,447.38 369.67,447.99 370.23,448.54 370.78,449.01 371.34,449.41 371.89,449.77 372.44,450.08 373.00,450.38 373.55,450.59 374.11,450.77 374.66,450.90 375.21,451.04 375.77,451.17 376.32,451.28 376.88,451.35 377.43,451.42 377.98,451.47 378.54,451.47 379.09,451.47 379.65,451.45 380.20,451.46 380.75,451.38 381.31,451.30 381.86,451.14 382.42,450.92 382.97,450.61 383.52,450.30 384.08,450.02 384.63,449.73 385.19,449.42 385.74,449.11 386.29,448.79 386.85,448.46 387.40,448.15 387.96,447.89 388.51,447.67 389.06,447.42 389.62,447.18 390.17,446.91 390.73,446.72 391.28,446.54 391.83,446.41 392.39,446.28 392.94,446.15 393.50,446.02 394.05,445.87 394.60,445.74 395.16,445.67 395.71,445.60 396.27,445.53 396.82,445.44 397.37,445.39 397.93,445.35 398.48,445.30 399.04,445.26 399.59,445.26 400.14,445.24 400.70,445.23 401.25,445.21 401.81,445.21 402.36,445.23 402.91,445.24 403.47,445.25 404.02,445.26 404.58,445.26 405.13,445.29 405.68,445.32 406.24,445.37 406.79,445.38 407.35,445.43 407.90,445.42 408.45,445.45 409.01,445.46 409.56,445.48 410.12,445.46 410.67,445.48 411.22,445.47 411.78,445.47 412.33,445.45 412.89,445.48 413.44,445.48 413.99,445.50 414.55,445.49 415.10,445.56 415.66,445.60 416.21,445.62 416.76,445.60 417.32,445.57 417.87,445.57 418.43,445.58 418.98,445.60 419.53,445.63 420.09,445.69 420.64,445.74 421.20,445.78 421.75,445.80 422.30,445.84 422.86,445.85 423.41,445.89 423.97,445.93 424.52,446.01 425.07,446.04 425.63,446.09 426.18,446.14 426.74,446.21 427.29,446.25 427.84,446.33 428.40,446.39 428.95,446.50 429.51,446.56 430.06,446.65 430.61,446.68 431.17,446.76 431.72,446.80 432.28,446.91 432.83,446.98 433.38,447.06 433.94,447.12 434.49,447.24 435.05,447.39 435.60,447.48 436.15,447.58 436.71,447.66 437.26,447.85 437.82,447.99 438.37,448.16 438.92,448.32 439.48,448.46 440.03,448.58 440.59,448.73 441.14,448.91 441.69,449.08 442.25,449.21 442.80,449.32 443.36,449.44 443.91,449.51 444.46,449.64 445.02,449.72 445.57,449.83 446.13,449.89 446.68,449.91 447.23,449.93 447.79,449.89 448.34,449.84 448.90,449.76 449.45,449.66 450.00,449.56 450.56,449.38 451.11,449.18 451.67,449.00 452.22,448.80 452.77,448.58 453.33,448.28 453.88,447.83 454.44,447.29 454.99,446.61 455.54,445.91 456.10,445.12 456.65,444.31 457.21,443.43 457.76,442.63 458.31,441.95 458.87,441.44 459.42,441.18 459.98,441.12 460.53,441.32 461.08,441.77 461.64,442.39 462.19,443.10 462.75,443.80 463.30,444.59 463.85,445.41 464.41,446.24 464.96,447.00 465.52,447.68 466.07,448.26 466.62,448.79 467.18,449.31 467.73,449.78 468.29,450.20 468.84,450.56 469.39,450.90 469.95,451.17 470.50,451.38 471.06,451.56 471.61,451.74 472.16,451.90 472.72,451.98 473.27,452.08 473.83,452.12 474.38,452.18 474.93,452.21 475.49,452.24 476.04,452.27 476.60,452.30 477.15,452.32 477.70,452.34 478.26,452.32 478.81,452.35 479.37,452.35 479.92,452.38 480.47,452.33 481.03,452.18 481.58,452.31 482.14,452.20 482.69,452.35 483.24,452.31 483.80,452.21 484.35,452.00 484.91,452.38 485.46,452.22 486.01,452.13 486.57,451.82 487.12,452.23 487.68,451.89 488.23,452.21 488.78,451.88 489.34,452.38 489.89,452.22 490.45,451.91 491.00,452.04 491.55,452.22 492.11,452.19 492.66,452.27 493.22,451.88 493.77,452.21 494.32,452.23 494.88,452.02 495.43,452.40 495.99,452.11 496.54,452.11 497.09,452.34 497.65,452.27 498.20,451.98 498.76,452.34 499.31,452.22 499.86,452.14 500.42,452.23 500.97,452.27 501.53,451.95 502.08,452.15 502.63,452.26 503.19,452.34 503.74,451.88 504.30,452.33 504.85,452.22 505.40,452.25 505.96,451.79 506.51,452.00 507.07,452.37 507.62,451.67 508.17,452.33 508.73,452.33 509.28,452.25 509.84,451.84 510.39,452.19 510.94,452.20 511.50,452.16 512.05,452.07 512.61,452.15 513.16,452.36 513.71,452.11 514.27,452.20 514.82,452.30 515.38,451.95 515.93,452.18 516.48,452.03 517.04,451.88 517.59,452.29 518.15,452.13 518.70,452.27 519.25,452.34 519.81,452.34 520.36,452.16 520.92,452.20 521.47,452.16 522.02,452.26 522.58,452.30 523.13,452.31 523.69,451.48 524.24,451.91 524.79,452.24 525.35,452.38 525.90,452.08 526.46,452.05 527.01,451.58 527.56,452.31 528.12,452.02 528.67,452.12 529.23,452.22 529.78,452.26 530.33,451.51 530.89,452.11 531.44,452.13 532.00,451.90 532.55,452.28 533.10,452.10 533.66,452.09 534.21,451.93 534.77,452.26 535.32,452.19 535.87,452.16 536.43,452.24 536.98,452.30 537.54,452.24 538.09,451.79 538.64,452.39 539.20,452.11 539.75,452.09 540.31,452.23 540.86,452.35 541.41,452.22 541.97,452.36 542.52,452.01 543.08,452.32 543.63,451.58 544.18,452.24 544.74,452.08 545.29,451.54 545.85,452.18 546.40,452.09" fill="none" stroke="#ad8fe0" stroke-width="1.1" stroke-linejoin="round" opacity="1"/>
<polyline points="324.80,452.17 325.35,452.11 325.91,452.31 326.46,452.06 327.02,452.18 327.57,452.26 328.12,452.35 328.68,451.99 329.23,452.04 329.79,451.73 330.34,451.66 330.89,452.26 331.45,452.17 332.00,451.95 332.56,452.25 333.11,452.15 333.66,452.37 334.22,452.17 334.77,452.17 335.33,452.08 335.88,452.21 336.43,452.20 336.99,452.34 337.54,452.15 338.10,451.85 338.65,451.91 339.20,452.30 339.76,451.79 340.31,452.30 340.87,452.02 341.42,452.31 341.97,452.26 342.53,452.22 343.08,452.20 343.64,452.18 344.19,452.11 344.74,452.04 345.30,451.98 345.85,451.89 346.41,451.83 346.96,451.72 347.51,451.59 348.07,451.46 348.62,451.32 349.18,451.19 349.73,451.01 350.28,450.80 350.84,450.58 351.39,450.34 351.95,450.10 352.50,449.85 353.05,449.57 353.61,449.28 354.16,448.97 354.72,448.62 355.27,448.23 355.82,447.85 356.38,447.45 356.93,447.08 357.49,446.66 358.04,446.27 358.59,445.83 359.15,445.42 359.70,445.07 360.26,444.83 360.81,444.68 361.36,444.67 361.92,444.85 362.47,445.15 363.03,445.50 363.58,445.89 364.13,446.36 364.69,446.85 365.24,447.42 365.80,447.94 366.35,448.45 366.90,448.88 367.46,449.26 368.01,449.59 368.57,449.89 369.12,450.20 369.67,450.49 370.23,450.73 370.78,450.94 371.34,451.12 371.89,451.26 372.44,451.40 373.00,451.50 373.55,451.63 374.11,451.70 374.66,451.79 375.21,451.83 375.77,451.88 376.32,451.90 376.88,451.97 377.43,452.00 377.98,452.05 378.54,452.08 379.09,452.09 379.65,452.08 380.20,452.07 380.75,452.05 381.31,452.00 381.86,451.95 382.42,451.87 382.97,451.80 383.52,451.70 384.08,451.60 384.63,451.47 385.19,451.34 385.74,451.22 386.29,451.15 386.85,451.02 387.40,450.91 387.96,450.79 388.51,450.68 389.06,450.61 389.62,450.52 390.17,450.44 390.73,450.36 391.28,450.32 391.83,450.29 392.39,450.24 392.94,450.19 393.50,450.13 394.05,450.08 394.60,450.06 395.16,450.02 395.71,449.98 396.27,449.91 396.82,449.87 397.37,449.85 397.93,449.84 398.48,449.85 399.04,449.83 399.59,449.84 400.14,449.85 400.70,449.87 401.25,449.87 401.81,449.88 402.36,449.87 402.91,449.82 403.47,449.82 404.02,449.82 404.58,449.86 405.13,449.83 405.68,449.83 406.24,449.85 406.79,449.87 407.35,449.87 407.90,449.84 408.45,449.87 409.01,449.93 409.56,449.95 410.12,449.94 410.67,449.90 411.22,449.87 411.78,449.86 412.33,449.85 412.89,449.85 413.44,449.84 413.99,449.90 414.55,449.90 415.10,449.91 415.66,449.89 416.21,449.93 416.76,449.96 417.32,449.99 417.87,450.00 418.43,449.98 418.98,449.96 419.53,449.98 420.09,449.98 420.64,449.98 421.20,449.96 421.75,449.98 422.30,450.00 422.86,450.01 423.41,450.03 423.97,450.07 424.52,450.09 425.07,450.11 425.63,450.13 426.18,450.14 426.74,450.14 427.29,450.16 427.84,450.18 428.40,450.21 428.95,450.23 429.51,450.25 430.06,450.28 430.61,450.30 431.17,450.36 431.72,450.39 432.28,450.44 432.83,450.49 433.38,450.50 433.94,450.52 434.49,450.52 435.05,450.57 435.60,450.61 436.15,450.69 436.71,450.76 437.26,450.85 437.82,450.88 438.37,450.92 438.92,450.95 439.48,451.02 440.03,451.06 440.59,451.09 441.14,451.11 441.69,451.20 442.25,451.26 442.80,451.33 443.36,451.35 443.91,451.38 444.46,451.43 445.02,451.46 445.57,451.51 446.13,451.50 446.68,451.51 447.23,451.52 447.79,451.51 448.34,451.50 448.90,451.45 449.45,451.41 450.00,451.38 450.56,451.39 451.11,451.34 451.67,451.32 452.22,451.26 452.77,451.28 453.33,451.18 453.88,451.04 454.44,450.89 454.99,450.76 455.54,450.62 456.10,450.39 456.65,450.14 457.21,449.88 457.76,449.66 458.31,449.49 458.87,449.38 459.42,449.33 459.98,449.35 460.53,449.44 461.08,449.55 461.64,449.69 462.19,449.87 462.75,450.08 463.30,450.30 463.85,450.51 464.41,450.70 464.96,450.90 465.52,451.08 466.07,451.26 466.62,451.44 467.18,451.54 467.73,451.66 468.29,451.76 468.84,451.84 469.39,451.92 469.95,452.00 470.50,452.11 471.06,452.17 471.61,452.21 472.16,452.25 472.72,452.27 473.27,452.32 473.83,452.33 474.38,452.37 474.93,452.34 475.49,452.38 476.04,452.36 476.60,452.40 477.15,452.39 477.70,452.38 478.26,452.36 478.81,452.37 479.37,452.40 479.92,452.40 480.47,452.30 481.03,452.26 481.58,452.22 482.14,452.11 482.69,452.22 483.24,452.10 483.80,452.26 484.35,452.09 484.91,452.35 485.46,451.98 486.01,451.70 486.57,452.10 487.12,452.26 487.68,451.96 488.23,452.03 488.78,452.34 489.34,452.33 489.89,452.28 490.45,452.39 491.00,452.37 491.55,451.95 492.11,452.35 492.66,452.27 493.22,452.15 493.77,452.24 494.32,452.10 494.88,452.03 495.43,452.35 495.99,452.37 496.54,452.34 497.09,452.01 497.65,452.24 498.20,451.86 498.76,452.12 499.31,452.01 499.86,452.30 500.42,452.37 500.97,452.23 501.53,452.30 502.08,452.08 502.63,452.33 503.19,452.32 503.74,452.08 504.30,452.35 504.85,451.92 505.40,452.28 505.96,451.92 506.51,452.37 507.07,452.10 507.62,452.25 508.17,452.30 508.73,452.29 509.28,452.09 509.84,452.21 510.39,452.40 510.94,452.16 511.50,451.99 512.05,452.29 512.61,452.34 513.16,452.13 513.71,451.90 514.27,452.34 514.82,452.34 515.38,451.89 515.93,451.99 516.48,452.21 517.04,452.35 517.59,452.31 518.15,452.27 518.70,452.28 519.25,452.39 519.81,452.11 520.36,451.98 520.92,452.04 521.47,452.29 522.02,451.91 522.58,452.23 523.13,451.97 523.69,452.40 524.24,452.37 524.79,452.04 525.35,452.30 525.90,451.61 526.46,451.97 527.01,452.09 527.56,452.27 528.12,452.34 528.67,452.23 529.23,452.40 529.78,452.27 530.33,451.99 530.89,452.16 531.44,451.69 532.00,452.10 532.55,452.15 533.10,452.40 533.66,452.05 534.21,451.87 534.77,452.14 535.32,452.26 535.87,452.37 536.43,451.60 536.98,452.34 537.54,452.27 538.09,451.91 538.64,452.02 539.20,452.29 539.75,452.27 540.31,452.12 540.86,452.16 541.41,451.92 541.97,452.34 542.52,452.04 543.08,452.28 543.63,451.96 544.18,452.19 544.74,452.21 545.29,452.15 545.85,452.36 546.40,452.04" fill="none" stroke="#d4ac34" stroke-width="1.1" stroke-linejoin="round" opacity="1"/>
<polyline points="324.80,452.22 325.35,452.08 325.91,451.77 326.46,452.29 327.02,452.40 327.57,452.05 328.12,451.94 328.68,451.78 329.23,452.00 329.79,452.29 330.34,451.94 330.89,452.34 331.45,452.06 332.00,452.14 332.56,452.07 333.11,452.22 333.66,451.72 334.22,452.39 334.77,451.82 335.33,452.13 335.88,451.98 336.43,451.28 336.99,451.78 337.54,452.23 338.10,452.16 338.65,451.96 339.20,452.18 339.76,451.82 340.31,451.96 340.87,451.42 341.42,451.71 341.97,451.46 342.53,451.21 343.08,450.91 343.64,450.54 344.19,450.16 344.74,449.60 345.30,449.01 345.85,448.28 346.41,447.52 346.96,446.56 347.51,445.54 348.07,444.40 348.62,443.14 349.18,441.78 349.73,440.15 350.28,438.48 350.84,436.60 351.39,434.70 351.95,432.58 352.50,430.34 353.05,427.95 353.61,425.45 354.16,422.72 354.72,419.77 355.27,416.71 355.82,413.44 356.38,410.07 356.93,406.45 357.49,402.74 358.04,398.98 358.59,395.38 359.15,392.03 359.70,389.18 360.26,386.99 360.81,385.90 361.36,385.90 361.92,387.27 362.47,389.61 363.03,392.70 363.58,396.45 364.13,400.53 364.69,404.92 365.24,409.31 365.80,413.62 366.35,417.83 366.90,421.71 367.46,425.13 368.01,428.18 368.57,430.99 369.12,433.52 369.67,435.79 370.23,437.75 370.78,439.62 371.34,441.17 371.89,442.54 372.44,443.68 373.00,444.72 373.55,445.59 374.11,446.27 374.66,446.82 375.21,447.29 375.77,447.75 376.32,448.10 376.88,448.36 377.43,448.56 377.98,448.66 378.54,448.74 379.09,448.82 379.65,448.86 380.20,448.74 380.75,448.43 381.31,447.90 381.86,447.28 382.42,446.36 382.97,445.32 383.52,444.14 384.08,443.02 384.63,441.74 385.19,440.45 385.74,439.14 386.29,438.04 386.85,436.84 387.40,435.75 387.96,434.65 388.51,433.61 389.06,432.54 389.62,431.58 390.17,430.78 390.73,430.05 391.28,429.40 391.83,428.67 392.39,428.10 392.94,427.54 393.50,427.13 394.05,426.68 394.60,426.23 395.16,425.78 395.71,425.41 396.27,425.17 396.82,424.98 397.37,424.76 397.93,424.56 398.48,424.39 399.04,424.37 399.59,424.36 400.14,424.32 400.70,424.24 401.25,424.11 401.81,424.15 402.36,424.20 402.91,424.25 403.47,424.30 404.02,424.41 404.58,424.62 405.13,424.73 405.68,424.85 406.24,424.84 406.79,424.94 407.35,424.97 407.90,425.03 408.45,425.09 409.01,425.13 409.56,425.26 410.12,425.30 410.67,425.35 411.22,425.37 411.78,425.35 412.33,425.42 412.89,425.44 413.44,425.59 413.99,425.65 414.55,425.84 415.10,425.85 415.66,425.91 416.21,425.88 416.76,426.02 417.32,426.14 417.87,426.27 418.43,426.35 418.98,426.38 419.53,426.54 420.09,426.49 420.64,426.61 421.20,426.66 421.75,426.84 422.30,427.05 422.86,427.18 423.41,427.52 423.97,427.59 424.52,427.81 425.07,427.92 425.63,428.17 426.18,428.44 426.74,428.68 427.29,428.95 427.84,429.09 428.40,429.32 428.95,429.70 429.51,430.03 430.06,430.44 430.61,430.67 431.17,431.00 431.72,431.14 432.28,431.49 432.83,431.81 433.38,432.27 433.94,432.52 434.49,432.86 435.05,433.25 435.60,433.76 436.15,434.23 436.71,434.72 437.26,435.12 437.82,435.62 438.37,436.10 438.92,436.74 439.48,437.43 440.03,438.13 440.59,438.73 441.14,439.25 441.69,439.75 442.25,440.24 442.80,440.70 443.36,441.18 443.91,441.57 444.46,441.94 445.02,442.20 445.57,442.56 446.13,442.79 446.68,443.01 447.23,443.01 447.79,442.91 448.34,442.66 448.90,442.42 449.45,442.01 450.00,441.42 450.56,440.70 451.11,440.04 451.67,439.41 452.22,438.58 452.77,437.52 453.33,436.14 453.88,434.39 454.44,432.27 454.99,429.74 455.54,426.92 456.10,423.76 456.65,420.38 457.21,416.97 457.76,413.75 458.31,411.00 458.87,408.85 459.42,407.69 459.98,407.54 460.53,408.43 461.08,410.10 461.64,412.46 462.19,415.25 462.75,418.33 463.30,421.64 463.85,424.87 464.41,428.00 464.96,430.88 465.52,433.55 466.07,435.96 466.62,438.21 467.18,440.22 467.73,442.01 468.29,443.60 468.84,445.11 469.39,446.38 469.95,447.42 470.50,448.29 471.06,448.98 471.61,449.59 472.16,450.14 472.72,450.68 473.27,451.05 473.83,451.27 474.38,451.49 474.93,451.77 475.49,451.93 476.04,452.04 476.60,452.00 477.15,452.06 477.70,452.12 478.26,452.05 478.81,452.06 479.37,452.02 479.92,452.18 480.47,451.82 481.03,451.89 481.58,452.10 482.14,452.22 482.69,451.93 483.24,452.18 483.80,452.16 484.35,452.04 484.91,452.16 485.46,452.28 486.01,452.11 486.57,452.16 487.12,452.24 487.68,452.07 488.23,452.08 488.78,452.40 489.34,452.01 489.89,451.90 490.45,451.61 491.00,452.13 491.55,452.33 492.11,452.10 492.66,452.07 493.22,452.19 493.77,452.23 494.32,452.14 494.88,452.40 495.43,452.33 495.99,452.29 496.54,451.55 497.09,451.56 497.65,452.24 498.20,452.20 498.76,452.26 499.31,451.83 499.86,452.35 500.42,452.10 500.97,452.02 501.53,451.83 502.08,452.02 502.63,451.98 503.19,452.33 503.74,452.25 504.30,452.40 504.85,452.09 505.40,452.11 505.96,452.25 506.51,452.18 507.07,452.02 507.62,452.30 508.17,452.34 508.73,452.29 509.28,452.31 509.84,452.29 510.39,452.29 510.94,452.15 511.50,452.19 512.05,452.06 512.61,451.96 513.16,452.19 513.71,452.00 514.27,452.11 514.82,452.27 515.38,452.10 515.93,452.11 516.48,452.28 517.04,452.00 517.59,452.18 518.15,452.37 518.70,452.06 519.25,451.90 519.81,451.83 520.36,452.10 520.92,452.26 521.47,451.72 522.02,451.88 522.58,452.40 523.13,452.21 523.69,452.09 524.24,452.14 524.79,452.17 525.35,451.73 525.90,452.33 526.46,452.33 527.01,452.22 527.56,452.05 528.12,452.26 528.67,452.03 529.23,452.31 529.78,452.40 530.33,452.33 530.89,452.37 531.44,451.88 532.00,452.37 532.55,452.36 533.10,452.02 533.66,452.17 534.21,452.21 534.77,452.28 535.32,452.09 535.87,452.27 536.43,452.37 536.98,451.90 537.54,451.89 538.09,452.05 538.64,452.10 539.20,452.30 539.75,452.10 540.31,452.20 540.86,452.33 541.41,452.24 541.97,452.12 542.52,452.09 543.08,452.04 543.63,452.34 544.18,452.40 544.74,452.29 545.29,452.12 545.85,451.94 546.40,452.36" fill="none" stroke="#30e8f0" stroke-width="1.1" stroke-linejoin="round" opacity="1"/>
<rect x="473.6" y="275.0" width="70.0" height="81.80000000000001" fill="#fff" stroke="#a8a8a8" stroke-width="0.9"/>
<line x1="474.9" y1="281.70" x2="495.5" y2="281.70" stroke="#6f8a72" stroke-width="1.6"/>
<text class="b" x="498.20" y="284.83" font-size="9.2" font-family='"Liberation Serif", "Times New Roman", serif' text-anchor="start" fill="#111" >0°</text>
<line x1="474.9" y1="293.10" x2="495.5" y2="293.10" stroke="#e57a92" stroke-width="1.6"/>
<text class="b" x="498.20" y="296.23" font-size="9.2" font-family='"Liberation Serif", "Times New Roman", serif' text-anchor="start" fill="#111" >15°</text>
<line x1="474.9" y1="304.50" x2="495.5" y2="304.50" stroke="#4690d2" stroke-width="1.6"/>
<text class="b" x="498.20" y="307.63" font-size="9.2" font-family='"Liberation Serif", "Times New Roman", serif' text-anchor="start" fill="#111" >30°</text>
<line x1="474.9" y1="315.90" x2="495.5" y2="315.90" stroke="#62c99a" stroke-width="1.6"/>
<text class="b" x="498.20" y="319.03" font-size="9.2" font-family='"Liberation Serif", "Times New Roman", serif' text-anchor="start" fill="#111" >45°</text>
<line x1="474.9" y1="327.30" x2="495.5" y2="327.30" stroke="#a98fdc" stroke-width="1.4"/>
<text class="b" x="498.20" y="330.43" font-size="9.2" font-family='"Liberation Serif", "Times New Roman", serif' text-anchor="start" fill="#111" >60°</text>
<line x1="474.9" y1="338.70" x2="495.5" y2="338.70" stroke="#d6b445" stroke-width="1.6"/>
<text class="b" x="498.20" y="341.83" font-size="9.2" font-family='"Liberation Serif", "Times New Roman", serif' text-anchor="start" fill="#111" >75°</text>
<line x1="474.9" y1="350.10" x2="495.5" y2="350.10" stroke="#45eaf2" stroke-width="1.6"/>
<text class="b" x="498.20" y="353.23" font-size="9.2" font-family='"Liberation Serif", "Times New Roman", serif' text-anchor="start" fill="#111" >white board</text>
<text class="b" x="435.60" y="474.50" font-size="9.2" font-family='"Liberation Serif", "Times New Roman", serif' text-anchor="middle" fill="#111" >λ (nm)</text>
<text class="b" transform="translate(297.7,365.8) rotate(-90)" font-size="9.2" font-family='"Liberation Serif", "Times New Roman", serif' text-anchor="middle" fill="#111"><tspan font-style="italic">L</tspan><tspan font-style="italic" font-size="6.5" dy="2">e</tspan><tspan dy="-2"> (W/sr·m</tspan><tspan font-size="6.5" dy="-3.5">2</tspan><tspan dy="3.5">)</tspan></text>
<text class="b" x="5.10" y="494.20" font-size="17.6" font-family='"Liberation Serif", "Times New Roman", serif' text-anchor="start" fill="#111" >(e)</text>
<g clip-path="none">
<rect x="29.60" y="505.30" width="226.40" height="176.90" fill="none" stroke="#636363" stroke-width="1.6"/>
<path d="M52.24,682.20v3.8 M86.20,682.20v3.8 M120.16,682.20v3.8 M154.12,682.20v3.8 M188.08,682.20v3.8 M222.04,682.20v3.8 M256.00,682.20v3.8 M35.26,682.20v1.8 M69.22,682.20v1.8 M103.18,682.20v1.8 M137.14,682.20v1.8 M171.10,682.20v1.8 M205.06,682.20v1.8 M239.02,682.20v1.8 M29.60,682.20h-3.8 M29.60,660.09h-3.8 M29.60,637.98h-3.8 M29.60,615.86h-3.8 M29.60,593.75h-3.8 M29.60,571.64h-3.8 M29.60,549.53h-3.8 M29.60,527.41h-3.8 M29.60,505.30h-3.8 M29.60,671.14h-1.8 M29.60,649.03h-1.8 M29.60,626.92h-1.8 M29.60,604.81h-1.8 M29.60,582.69h-1.8 M29.60,560.58h-1.8 M29.60,538.47h-1.8 M29.60,516.36h-1.8" stroke="#636363" stroke-width="1" fill="none"/>
<text x="52.24" y="693.70" font-size="7.6" font-family='"Liberation Serif", "Times New Roman", serif' text-anchor="middle" fill="#111" >450</text>
<text x="86.20" y="693.70" font-size="7.6" font-family='"Liberation Serif", "Times New Roman", serif' text-anchor="middle" fill="#111" >480</text>
<text x="120.16" y="693.70" font-size="7.6" font-family='"Liberation Serif", "Times New Roman", serif' text-anchor="middle" fill="#111" >510</text>
<text x="154.12" y="693.70" font-size="7.6" font-family='"Liberation Serif", "Times New Roman", serif' text-anchor="middle" fill="#111" >540</text>
<text x="188.08" y="693.70" font-size="7.6" font-family='"Liberation Serif", "Times New Roman", serif' text-anchor="middle" fill="#111" >570</text>
<text x="222.04" y="693.70" font-size="7.6" font-family='"Liberation Serif", "Times New Roman", serif' text-anchor="middle" fill="#111" >600</text>
<text x="256.00" y="693.70" font-size="7.6" font-family='"Liberation Serif", "Times New Roman", serif' text-anchor="middle" fill="#111" >630</text>
<text x="24.00" y="684.86" font-size="7.6" font-family='"Liberation Serif", "Times New Roman", serif' text-anchor="end" fill="#111" >0.0</text>
<text x="24.00" y="662.75" font-size="7.6" font-family='"Liberation Serif", "Times New Roman", serif' text-anchor="end" fill="#111" >0.5</text>
<text x="24.00" y="640.63" font-size="7.6" font-family='"Liberation Serif", "Times New Roman", serif' text-anchor="end" fill="#111" >1.0</text>
<text x="24.00" y="618.52" font-size="7.6" font-family='"Liberation Serif", "Times New Roman", serif' text-anchor="end" fill="#111" >1.5</text>
<text x="24.00" y="596.41" font-size="7.6" font-family='"Liberation Serif", "Times New Roman", serif' text-anchor="end" fill="#111" >2.0</text>
<text x="24.00" y="574.30" font-size="7.6" font-family='"Liberation Serif", "Times New Roman", serif' text-anchor="end" fill="#111" >2.5</text>
<text x="24.00" y="552.19" font-size="7.6" font-family='"Liberation Serif", "Times New Roman", serif' text-anchor="end" fill="#111" >3.0</text>
<text x="24.00" y="530.07" font-size="7.6" font-family='"Liberation Serif", "Times New Roman", serif' text-anchor="end" fill="#111" >3.5</text>
<text x="24.00" y="507.96" font-size="7.6" font-family='"Liberation Serif", "Times New Roman", serif' text-anchor="end" fill="#111" >4.0</text>
</g>
<polyline points="29.60,607.95 30.73,608.13 31.86,608.11 33.00,607.96 34.13,607.98 35.26,608.12 36.39,608.29 37.52,608.32 38.66,608.12 39.79,608.04 40.92,608.23 42.05,608.34 43.18,608.10 44.32,607.95 45.45,607.97 46.58,607.96 47.71,608.40 48.84,608.45 49.98,608.08 51.11,608.05 52.24,608.07 53.37,608.15 54.50,608.41 55.64,608.76 56.77,608.46 57.90,607.95 59.03,608.04 60.16,608.18 61.30,608.21 62.43,608.15 63.56,607.91 64.69,608.22 65.82,608.52 66.96,608.59 68.09,608.63 69.22,608.52 70.35,608.21 71.48,607.76 72.62,607.37 73.75,606.83 74.88,607.19 76.01,608.28 77.14,609.22 78.28,610.08 79.41,609.59 80.54,608.35 81.67,607.32 82.80,606.52 83.94,607.27 85.07,608.17 86.20,608.85 87.33,609.58 88.46,610.11 89.60,609.64 90.73,608.79 91.86,607.71 92.99,606.86 94.12,607.59 95.26,608.39 96.39,608.80 97.52,608.93 98.65,608.89 99.78,609.10 100.92,609.31 102.05,608.95 103.18,608.87 104.31,608.95 105.44,608.59 106.58,608.74 107.71,608.99 108.84,609.17 109.97,609.39 111.10,608.93 112.24,608.80 113.37,609.00 114.50,608.93 115.63,608.90 116.76,608.71 117.90,608.62 119.03,608.75 120.16,608.94 121.29,608.55 122.42,608.46 123.56,608.48 124.69,608.36 125.82,608.27 126.95,608.52 128.08,608.78 129.22,608.45 130.35,608.24 131.48,608.22 132.61,608.50 133.74,608.35 134.88,608.12 136.01,608.19 137.14,608.15 138.27,608.55 139.40,608.58 140.54,608.43 141.67,608.62 142.80,608.61 143.93,608.26 145.06,608.04 146.20,608.17 147.33,608.30 148.46,608.47 149.59,608.28 150.72,608.45 151.86,608.18 152.99,608.00 154.12,608.43 155.25,608.32 156.38,608.32 157.52,608.72 158.65,608.81 159.78,608.78 160.91,608.57 162.04,608.43 163.18,609.04 164.31,609.35 165.44,608.93 166.57,608.72 167.70,608.79 168.84,609.13 169.97,609.31 171.10,608.70 172.23,608.55 173.36,608.89 174.50,608.58 175.63,608.64 176.76,608.89 177.89,608.81 179.02,609.10 180.16,609.28 181.29,609.00 182.42,608.95 183.55,609.27 184.68,609.18 185.82,609.43 186.95,609.73 188.08,609.88 189.21,610.03 190.34,609.62 191.48,609.41 192.61,609.53 193.74,609.88 194.87,610.03 196.00,609.83 197.14,609.98 198.27,609.97 199.40,609.58 200.53,609.50 201.66,609.40 202.80,608.82 203.93,608.07 205.06,607.58 206.19,607.62 207.32,608.14 208.46,608.78 209.59,609.11 210.72,608.97 211.85,609.07 212.98,609.13 214.12,609.34 215.25,609.44 216.38,609.19 217.51,609.16 218.64,609.20 219.78,609.09 220.91,609.16 222.04,609.46 223.17,609.41 224.30,609.30 225.44,609.41 226.57,609.50 227.70,609.54 228.83,609.49 229.96,609.48 231.10,609.69 232.23,609.61 233.36,609.08 234.49,609.00 235.62,609.33 236.76,609.25 237.89,609.01 239.02,608.77 240.15,609.17 241.28,609.52 242.42,609.28 243.55,609.23 244.68,609.32 245.81,608.76 246.94,608.27 248.08,608.66 249.21,609.01 250.34,609.04 251.47,609.18 252.60,609.54 253.74,609.23 254.87,608.96 256.00,609.11" fill="none" stroke="#56765b" stroke-width="1.05" stroke-linejoin="round" opacity="1"/>
<polyline points="29.60,623.75 30.73,624.02 31.86,624.40 33.00,624.29 34.13,623.96 35.26,624.08 36.39,623.96 37.52,623.71 38.66,623.80 39.79,623.84 40.92,623.87 42.05,623.78 43.18,624.32 44.32,624.11 45.45,623.46 46.58,623.70 47.71,623.40 48.84,623.22 49.98,623.33 51.11,623.51 52.24,623.54 53.37,623.38 54.50,623.58 55.64,623.50 56.77,623.40 57.90,623.83 59.03,623.82 60.16,623.43 61.30,623.19 62.43,623.00 63.56,623.44 64.69,623.53 65.82,623.65 66.96,623.81 68.09,623.23 69.22,623.08 70.35,623.51 71.48,623.31 72.62,622.99 73.75,623.15 74.88,622.80 76.01,621.74 77.14,621.12 78.28,621.88 79.41,623.01 80.54,624.14 81.67,625.05 82.80,624.63 83.94,623.90 85.07,623.04 86.20,620.60 87.33,618.68 88.46,620.79 89.60,624.07 90.73,626.42 91.86,627.70 92.99,626.35 94.12,624.32 95.26,622.91 96.39,622.32 97.52,623.36 98.65,624.74 99.78,626.05 100.92,626.98 102.05,626.49 103.18,625.12 104.31,624.41 105.44,624.20 106.58,624.66 107.71,625.11 108.84,624.80 109.97,624.94 111.10,624.96 112.24,624.58 113.37,624.58 114.50,624.68 115.63,624.52 116.76,624.21 117.90,624.09 119.03,624.33 120.16,624.27 121.29,624.25 122.42,624.37 123.56,624.34 124.69,624.21 125.82,624.03 126.95,624.38 128.08,624.58 129.22,624.37 130.35,624.37 131.48,624.06 132.61,623.66 133.74,623.78 134.88,623.58 136.01,623.51 137.14,623.86 138.27,623.55 139.40,623.40 140.54,623.49 141.67,623.55 142.80,623.90 143.93,623.87 145.06,623.67 146.20,623.83 147.33,623.58 148.46,623.88 149.59,624.03 150.72,623.40 151.86,623.41 152.99,623.38 154.12,623.07 155.25,623.15 156.38,623.55 157.52,623.57 158.65,623.05 159.78,622.73 160.91,623.39 162.04,623.57 163.18,623.35 164.31,623.04 165.44,622.73 166.57,623.49 167.70,623.49 168.84,623.37 169.97,623.67 171.10,623.69 172.23,623.62 173.36,623.37 174.50,623.55 175.63,623.64 176.76,623.62 177.89,623.19 179.02,622.82 180.16,623.32 181.29,623.65 182.42,623.49 183.55,623.58 184.68,623.42 185.82,623.39 186.95,623.48 188.08,623.35 189.21,623.22 190.34,623.00 191.48,623.18 192.61,623.46 193.74,623.63 194.87,623.30 196.00,623.08 197.14,623.18 198.27,623.26 199.40,623.60 200.53,623.62 201.66,623.45 202.80,623.58 203.93,623.89 205.06,624.12 206.19,624.21 207.32,624.08 208.46,623.98 209.59,624.23 210.72,624.17 211.85,624.21 212.98,624.00 214.12,623.99 215.25,624.23 216.38,624.47 217.51,624.84 218.64,624.57 219.78,624.78 220.91,625.52 222.04,625.64 223.17,626.07 224.30,626.50 225.44,625.85 226.57,625.56 227.70,625.44 228.83,624.80 229.96,624.42 231.10,624.68 232.23,624.77 233.36,624.62 234.49,624.73 235.62,624.96 236.76,625.17 237.89,624.59 239.02,624.09 240.15,624.40 241.28,624.39 242.42,624.21 243.55,623.73 244.68,623.86 245.81,624.21 246.94,624.17 248.08,624.37 249.21,624.25 250.34,623.85 251.47,623.84 252.60,624.09 253.74,624.02 254.87,624.04 256.00,624.38" fill="none" stroke="#e3708c" stroke-width="1.05" stroke-linejoin="round" opacity="1"/>
<polyline points="29.60,629.14 30.73,629.31 31.86,629.86 33.00,629.79 34.13,629.39 35.26,628.99 36.39,628.61 37.52,628.89 38.66,628.71 39.79,628.53 40.92,628.98 42.05,629.81 43.18,630.15 44.32,629.70 45.45,629.79 46.58,629.62 47.71,629.33 48.84,629.44 49.98,629.43 51.11,629.01 52.24,628.95 53.37,629.10 54.50,628.49 55.64,628.30 56.77,628.81 57.90,628.81 59.03,628.98 60.16,629.05 61.30,629.05 62.43,629.67 63.56,629.79 64.69,629.61 65.82,629.80 66.96,630.31 68.09,630.45 69.22,630.31 70.35,630.60 71.48,630.72 72.62,631.61 73.75,633.16 74.88,633.82 76.01,633.46 77.14,632.43 78.28,632.46 79.41,632.69 80.54,632.20 81.67,630.87 82.80,630.22 83.94,631.42 85.07,631.65 86.20,629.15 87.33,627.18 88.46,629.21 89.60,631.58 90.73,632.56 91.86,633.94 92.99,634.66 94.12,633.13 95.26,631.72 96.39,630.12 97.52,628.99 98.65,630.14 99.78,631.46 100.92,631.54 102.05,631.37 103.18,631.20 104.31,631.46 105.44,632.60 106.58,632.69 107.71,632.18 108.84,631.88 109.97,631.15 111.10,631.12 112.24,631.39 113.37,631.26 114.50,631.34 115.63,631.05 116.76,630.65 117.90,630.74 119.03,630.84 120.16,631.03 121.29,631.49 122.42,631.67 123.56,631.18 124.69,630.88 125.82,631.19 126.95,631.28 128.08,631.03 129.22,630.92 130.35,631.12 131.48,631.25 132.61,631.59 133.74,631.29 134.88,630.85 136.01,631.14 137.14,631.15 138.27,631.19 139.40,631.26 140.54,631.18 141.67,631.29 142.80,631.30 143.93,631.22 145.06,631.17 146.20,631.15 147.33,631.06 148.46,631.36 149.59,631.66 150.72,631.66 151.86,631.34 152.99,631.16 154.12,631.52 155.25,631.76 156.38,631.45 157.52,631.02 158.65,631.50 159.78,631.74 160.91,631.44 162.04,631.56 163.18,631.20 164.31,631.06 165.44,631.64 166.57,631.68 167.70,631.50 168.84,631.26 169.97,631.25 171.10,631.65 172.23,631.80 173.36,631.69 174.50,631.65 175.63,631.77 176.76,631.89 177.89,631.79 179.02,631.66 180.16,631.46 181.29,631.22 182.42,631.63 183.55,632.25 184.68,632.19 185.82,632.35 186.95,632.15 188.08,631.75 189.21,631.56 190.34,631.58 191.48,631.99 192.61,632.19 193.74,632.17 194.87,631.93 196.00,632.52 197.14,632.68 198.27,632.12 199.40,632.01 200.53,632.31 201.66,632.42 202.80,632.09 203.93,632.04 205.06,632.25 206.19,631.87 207.32,631.78 208.46,632.18 209.59,631.97 210.72,632.01 211.85,632.31 212.98,632.52 214.12,632.91 215.25,632.92 216.38,633.44 217.51,633.93 218.64,633.60 219.78,633.77 220.91,634.29 222.04,634.54 223.17,634.49 224.30,634.24 225.44,634.10 226.57,634.19 227.70,633.79 228.83,633.41 229.96,633.24 231.10,633.13 232.23,632.90 233.36,632.62 234.49,632.52 235.62,632.47 236.76,632.51 237.89,632.77 239.02,632.85 240.15,632.49 241.28,632.65 242.42,632.99 243.55,633.06 244.68,632.67 245.81,632.30 246.94,632.44 248.08,632.91 249.21,632.95 250.34,632.83 251.47,632.64 252.60,632.48 253.74,632.51 254.87,632.33 256.00,632.88" fill="none" stroke="#3b8bd0" stroke-width="1.35" stroke-linejoin="round" opacity="1"/>
<polyline points="29.60,633.25 30.73,633.33 31.86,633.34 33.00,633.22 34.13,633.19 35.26,632.94 36.39,633.01 37.52,633.47 38.66,633.52 39.79,633.27 40.92,633.25 42.05,633.13 43.18,633.06 44.32,633.12 45.45,632.64 46.58,632.91 47.71,633.80 48.84,633.55 49.98,632.88 51.11,633.01 52.24,633.12 53.37,632.90 54.50,633.19 55.64,633.40 56.77,632.79 57.90,632.89 59.03,633.22 60.16,633.14 61.30,632.94 62.43,633.21 63.56,633.46 64.69,633.05 65.82,632.77 66.96,633.15 68.09,633.32 69.22,633.17 70.35,633.20 71.48,632.91 72.62,633.28 73.75,633.72 74.88,633.53 76.01,633.77 77.14,634.10 78.28,633.98 79.41,634.07 80.54,634.72 81.67,635.28 82.80,634.98 83.94,634.14 85.07,633.61 86.20,633.82 87.33,634.27 88.46,634.24 89.60,634.80 90.73,635.06 91.86,634.39 92.99,634.17 94.12,633.91 95.26,633.54 96.39,633.60 97.52,633.87 98.65,633.70 99.78,633.46 100.92,633.40 102.05,633.70 103.18,633.84 104.31,633.67 105.44,633.57 106.58,633.63 107.71,634.00 108.84,633.90 109.97,634.03 111.10,634.27 112.24,634.02 113.37,633.64 114.50,633.88 115.63,634.18 116.76,634.01 117.90,634.29 119.03,634.16 120.16,633.93 121.29,634.06 122.42,633.93 123.56,634.11 124.69,634.37 125.82,633.92 126.95,633.72 128.08,633.79 129.22,633.53 130.35,633.67 131.48,634.10 132.61,633.86 133.74,633.76 134.88,634.21 136.01,634.12 137.14,633.88 138.27,633.88 139.40,634.12 140.54,634.08 141.67,634.16 142.80,634.28 143.93,634.21 145.06,634.47 146.20,634.32 147.33,634.09 148.46,634.33 149.59,634.54 150.72,634.45 151.86,634.19 152.99,633.98 154.12,634.26 155.25,634.42 156.38,634.17 157.52,634.50 158.65,634.72 159.78,634.81 160.91,634.83 162.04,634.48 163.18,634.42 164.31,634.41 165.44,634.47 166.57,634.85 167.70,634.90 168.84,634.46 169.97,634.69 171.10,634.58 172.23,634.40 173.36,634.83 174.50,635.00 175.63,634.74 176.76,635.16 177.89,635.32 179.02,634.49 180.16,634.55 181.29,634.75 182.42,634.41 183.55,634.67 184.68,634.87 185.82,634.78 186.95,634.92 188.08,634.53 189.21,634.65 190.34,634.80 191.48,634.85 192.61,634.92 193.74,634.62 194.87,634.49 196.00,634.65 197.14,634.76 198.27,634.65 199.40,634.67 200.53,634.81 201.66,634.35 202.80,634.18 203.93,634.72 205.06,634.19 206.19,633.89 207.32,634.51 208.46,634.60 209.59,634.57 210.72,634.37 211.85,634.06 212.98,634.57 214.12,634.99 215.25,634.67 216.38,634.62 217.51,634.66 218.64,634.50 219.78,634.22 220.91,633.94 222.04,633.99 223.17,634.48 224.30,634.76 225.44,634.75 226.57,634.73 227.70,634.66 228.83,634.78 229.96,634.72 231.10,634.69 232.23,635.02 233.36,635.03 234.49,634.94 235.62,635.05 236.76,635.03 237.89,635.19 239.02,635.18 240.15,635.27 241.28,635.03 242.42,634.78 243.55,635.04 244.68,635.40 245.81,635.57 246.94,635.62 248.08,635.86 249.21,635.60 250.34,635.19 251.47,635.26 252.60,635.47 253.74,635.72 254.87,636.26 256.00,635.80" fill="none" stroke="#55c894" stroke-width="1.05" stroke-linejoin="round" opacity="1"/>
<polyline points="29.60,646.18 30.73,646.22 31.86,645.98 33.00,645.88 34.13,645.94 35.26,646.05 36.39,645.85 37.52,645.72 38.66,645.54 39.79,645.42 40.92,645.68 42.05,645.71 43.18,645.41 44.32,645.26 45.45,645.72 46.58,645.90 47.71,645.27 48.84,645.14 49.98,646.11 51.11,646.28 52.24,645.48 53.37,645.03 54.50,645.01 55.64,645.75 56.77,646.05 57.90,645.66 59.03,645.48 60.16,645.86 61.30,646.36 62.43,646.05 63.56,645.35 64.69,645.54 65.82,645.86 66.96,645.70 68.09,645.56 69.22,645.41 70.35,644.76 71.48,643.48 72.62,642.49 73.75,642.18 74.88,643.32 76.01,644.13 77.14,644.72 78.28,644.92 79.41,642.85 80.54,640.94 81.67,640.13 82.80,639.17 83.94,639.01 85.07,640.59 86.20,640.39 87.33,637.43 88.46,635.70 89.60,638.19 90.73,642.53 91.86,646.88 92.99,649.07 94.12,647.65 95.26,645.02 96.39,642.96 97.52,641.74 98.65,642.57 99.78,644.01 100.92,644.92 102.05,645.22 103.18,644.22 104.31,643.87 105.44,642.96 106.58,642.08 107.71,642.32 108.84,642.61 109.97,642.75 111.10,642.32 112.24,641.75 113.37,641.68 114.50,641.81 115.63,642.01 116.76,642.55 117.90,642.97 119.03,642.58 120.16,642.72 121.29,642.99 122.42,642.14 123.56,641.91 124.69,642.67 125.82,642.65 126.95,642.62 128.08,643.36 129.22,643.24 130.35,642.95 131.48,642.36 132.61,642.14 133.74,642.83 134.88,643.12 136.01,642.94 137.14,642.42 138.27,642.36 139.40,642.42 140.54,642.26 141.67,641.79 142.80,641.72 143.93,641.65 145.06,641.54 146.20,641.64 147.33,640.81 148.46,640.41 149.59,640.54 150.72,640.45 151.86,640.62 152.99,640.45 154.12,640.42 155.25,640.15 156.38,639.56 157.52,639.73 158.65,639.90 159.78,639.94 160.91,639.82 162.04,639.84 163.18,639.91 164.31,639.91 165.44,639.79 166.57,639.82 167.70,639.85 168.84,640.17 169.97,639.95 171.10,639.13 172.23,639.22 173.36,639.69 174.50,639.66 175.63,639.27 176.76,639.30 177.89,639.49 179.02,639.55 180.16,639.39 181.29,639.23 182.42,639.55 183.55,639.99 184.68,640.08 185.82,639.96 186.95,639.96 188.08,640.16 189.21,640.16 190.34,639.93 191.48,640.21 192.61,640.55 193.74,640.03 194.87,639.75 196.00,639.83 197.14,640.14 198.27,640.55 199.40,639.69 200.53,639.52 201.66,640.24 202.80,640.05 203.93,640.26 205.06,640.93 206.19,640.81 207.32,640.47 208.46,640.56 209.59,640.76 210.72,641.28 211.85,641.67 212.98,641.51 214.12,641.36 215.25,641.56 216.38,641.48 217.51,640.99 218.64,640.81 219.78,640.21 220.91,638.78 222.04,637.70 223.17,638.62 224.30,639.46 225.44,639.51 226.57,639.26 227.70,638.72 228.83,638.29 229.96,637.62 231.10,637.31 232.23,637.86 233.36,637.73 234.49,637.07 235.62,635.79 236.76,635.21 237.89,635.24 239.02,637.21 240.15,639.73 241.28,640.97 242.42,641.38 243.55,640.53 244.68,640.56 245.81,640.48 246.94,640.04 248.08,639.53 249.21,638.98 250.34,639.03 251.47,638.44 252.60,637.88 253.74,637.82 254.87,637.37 256.00,636.69" fill="none" stroke="#ad8fe0" stroke-width="1.05" stroke-linejoin="round" opacity="1"/>
<polyline points="29.60,654.41 30.73,654.69 31.86,654.92 33.00,654.78 34.13,654.98 35.26,655.43 36.39,655.89 37.52,655.63 38.66,655.24 39.79,655.38 40.92,655.72 42.05,655.69 43.18,655.72 44.32,655.85 45.45,655.97 46.58,656.12 47.71,656.30 48.84,656.44 49.98,656.43 51.11,656.59 52.24,656.38 53.37,656.21 54.50,656.81 55.64,656.50 56.77,656.35 57.90,657.28 59.03,657.65 60.16,657.22 61.30,657.14 62.43,657.08 63.56,657.15 64.69,657.22 65.82,657.32 66.96,657.22 68.09,656.89 69.22,657.26 70.35,657.49 71.48,657.51 72.62,657.34 73.75,657.09 74.88,656.66 76.01,657.07 77.14,657.91 78.28,658.45 79.41,660.07 80.54,661.10 81.67,660.03 82.80,658.16 83.94,657.13 85.07,658.13 86.20,660.47 87.33,662.13 88.46,660.94 89.60,658.68 90.73,657.06 91.86,657.46 92.99,658.85 94.12,659.93 95.26,660.60 96.39,660.23 97.52,659.06 98.65,658.17 99.78,658.19 100.92,658.65 102.05,658.17 103.18,657.77 104.31,658.06 105.44,657.78 106.58,657.69 107.71,658.15 108.84,658.13 109.97,657.64 111.10,657.20 112.24,657.16 113.37,657.34 114.50,657.33 115.63,657.34 116.76,657.04 117.90,656.65 119.03,656.74 120.16,656.58 121.29,656.42 122.42,656.19 123.56,656.19 124.69,656.71 125.82,656.39 126.95,655.45 128.08,655.10 129.22,654.92 130.35,654.88 131.48,655.12 132.61,654.95 133.74,654.58 134.88,654.12 136.01,653.65 137.14,653.87 138.27,653.76 139.40,653.50 140.54,653.75 141.67,653.62 142.80,653.73 143.93,653.33 145.06,653.06 146.20,653.14 147.33,652.99 148.46,653.36 149.59,653.00 150.72,652.54 151.86,652.59 152.99,652.23 154.12,652.25 155.25,652.29 156.38,652.05 157.52,651.64 158.65,651.48 159.78,651.70 160.91,651.67 162.04,651.34 163.18,651.12 164.31,650.72 165.44,650.79 166.57,651.59 167.70,651.73 168.84,651.30 169.97,651.06 171.10,650.81 172.23,650.96 173.36,651.13 174.50,650.65 175.63,650.93 176.76,650.87 177.89,650.43 179.02,650.62 180.16,650.76 181.29,650.73 182.42,650.21 183.55,650.06 184.68,649.93 185.82,650.02 186.95,650.72 188.08,650.60 189.21,650.16 190.34,650.22 191.48,649.97 192.61,649.86 193.74,650.50 194.87,650.52 196.00,650.63 197.14,650.74 198.27,650.57 199.40,650.72 200.53,650.47 201.66,650.53 202.80,650.97 203.93,651.05 205.06,650.68 206.19,650.63 207.32,650.87 208.46,650.46 209.59,650.24 210.72,650.75 211.85,651.07 212.98,651.05 214.12,650.86 215.25,651.05 216.38,651.59 217.51,651.37 218.64,651.64 219.78,651.54 220.91,650.86 222.04,650.99 223.17,651.51 224.30,651.18 225.44,650.82 226.57,651.27 227.70,651.73 228.83,651.38 229.96,650.80 231.10,651.16 232.23,651.17 233.36,651.00 234.49,651.20 235.62,651.31 236.76,651.50 237.89,652.03 239.02,651.98 240.15,651.93 241.28,652.29 242.42,652.50 243.55,652.53 244.68,652.36 245.81,652.48 246.94,652.39 248.08,652.16 249.21,652.22 250.34,652.78 251.47,653.14 252.60,652.95 253.74,653.01 254.87,652.70 256.00,652.60" fill="none" stroke="#d4ac34" stroke-width="1.05" stroke-linejoin="round" opacity="1"/>
<rect x="212.3" y="506.8" width="39.099999999999994" height="69.49999999999994" fill="#fff" stroke="#a8a8a8" stroke-width="0.9"/>
<line x1="213.5" y1="513.20" x2="234.1" y2="513.20" stroke="#6f8a72" stroke-width="1.4"/>
<text class="b" x="236.80" y="516.33" font-size="9.2" font-family='"Liberation Serif", "Times New Roman", serif' text-anchor="start" fill="#111" >0°</text>
<line x1="213.5" y1="524.50" x2="234.1" y2="524.50" stroke="#e57a92" stroke-width="1.4"/>
<text class="b" x="236.80" y="527.63" font-size="9.2" font-family='"Liberation Serif", "Times New Roman", serif' text-anchor="start" fill="#111" >15°</text>
<line x1="213.5" y1="535.90" x2="234.1" y2="535.90" stroke="#4690d2" stroke-width="2.2"/>
<text class="b" x="236.80" y="539.03" font-size="9.2" font-family='"Liberation Serif", "Times New Roman", serif' text-anchor="start" fill="#111" >30°</text>
<line x1="213.5" y1="547.40" x2="234.1" y2="547.40" stroke="#62c99a" stroke-width="1.4"/>
<text class="b" x="236.80" y="550.53" font-size="9.2" font-family='"Liberation Serif", "Times New Roman", serif' text-anchor="start" fill="#111" >45°</text>
<line x1="213.5" y1="558.60" x2="234.1" y2="558.60" stroke="#a98fdc" stroke-width="1.4"/>
<text class="b" x="236.80" y="561.73" font-size="9.2" font-family='"Liberation Serif", "Times New Roman", serif' text-anchor="start" fill="#111" >60°</text>
<line x1="213.5" y1="569.90" x2="234.1" y2="569.90" stroke="#d6b445" stroke-width="2.2"/>
<text class="b" x="236.80" y="573.03" font-size="9.2" font-family='"Liberation Serif", "Times New Roman", serif' text-anchor="start" fill="#111" >75°</text>
<text class="b" x="142.60" y="704.20" font-size="9.2" font-family='"Liberation Serif", "Times New Roman", serif' text-anchor="middle" fill="#111" >λ (nm)</text>
<text class="b" transform="translate(11.2,590.7) rotate(-90)" font-size="9.2" font-family='"Liberation Serif", "Times New Roman", serif' text-anchor="middle" fill="#111">Spectral reflectance</text>
<text class="b" x="291.70" y="494.20" font-size="17.6" font-family='"Liberation Serif", "Times New Roman", serif' text-anchor="start" fill="#111" >(f)</text>
<g clip-path="none">
<rect x="316.20" y="505.50" width="225.40" height="178.50" fill="none" stroke="#636363" stroke-width="1.6"/>
<path d="M338.74,684.00v3.8 M372.55,684.00v3.8 M406.36,684.00v3.8 M440.17,684.00v3.8 M473.98,684.00v3.8 M507.79,684.00v3.8 M541.60,684.00v3.8 M321.83,684.00v1.8 M355.64,684.00v1.8 M389.45,684.00v1.8 M423.26,684.00v1.8 M457.08,684.00v1.8 M490.88,684.00v1.8 M524.70,684.00v1.8 M316.20,684.00h-3.8 M316.20,661.69h-3.8 M316.20,639.38h-3.8 M316.20,617.06h-3.8 M316.20,594.75h-3.8 M316.20,572.44h-3.8 M316.20,550.12h-3.8 M316.20,527.81h-3.8 M316.20,505.50h-3.8 M316.20,672.84h-1.8 M316.20,650.53h-1.8 M316.20,628.22h-1.8 M316.20,605.91h-1.8 M316.20,583.59h-1.8 M316.20,561.28h-1.8 M316.20,538.97h-1.8 M316.20,516.66h-1.8" stroke="#636363" stroke-width="1" fill="none"/>
<text x="338.74" y="695.60" font-size="7.8" font-family='"Liberation Serif", "Times New Roman", serif' text-anchor="middle" fill="#111" >450</text>
<text x="372.55" y="695.60" font-size="7.8" font-family='"Liberation Serif", "Times New Roman", serif' text-anchor="middle" fill="#111" >480</text>
<text x="406.36" y="695.60" font-size="7.8" font-family='"Liberation Serif", "Times New Roman", serif' text-anchor="middle" fill="#111" >510</text>
<text x="440.17" y="695.60" font-size="7.8" font-family='"Liberation Serif", "Times New Roman", serif' text-anchor="middle" fill="#111" >540</text>
<text x="473.98" y="695.60" font-size="7.8" font-family='"Liberation Serif", "Times New Roman", serif' text-anchor="middle" fill="#111" >570</text>
<text x="507.79" y="695.60" font-size="7.8" font-family='"Liberation Serif", "Times New Roman", serif' text-anchor="middle" fill="#111" >600</text>
<text x="541.60" y="695.60" font-size="7.8" font-family='"Liberation Serif", "Times New Roman", serif' text-anchor="middle" fill="#111" >630</text>
<text x="310.20" y="686.73" font-size="7.8" font-family='"Liberation Serif", "Times New Roman", serif' text-anchor="end" fill="#111" >0.0</text>
<text x="310.20" y="664.42" font-size="7.8" font-family='"Liberation Serif", "Times New Roman", serif' text-anchor="end" fill="#111" >0.5</text>
<text x="310.20" y="642.11" font-size="7.8" font-family='"Liberation Serif", "Times New Roman", serif' text-anchor="end" fill="#111" >1.0</text>
<text x="310.20" y="619.79" font-size="7.8" font-family='"Liberation Serif", "Times New Roman", serif' text-anchor="end" fill="#111" >1.5</text>
<text x="310.20" y="597.48" font-size="7.8" font-family='"Liberation Serif", "Times New Roman", serif' text-anchor="end" fill="#111" >2.0</text>
<text x="310.20" y="575.17" font-size="7.8" font-family='"Liberation Serif", "Times New Roman", serif' text-anchor="end" fill="#111" >2.5</text>
<text x="310.20" y="552.86" font-size="7.8" font-family='"Liberation Serif", "Times New Roman", serif' text-anchor="end" fill="#111" >3.0</text>
<text x="310.20" y="530.54" font-size="7.8" font-family='"Liberation Serif", "Times New Roman", serif' text-anchor="end" fill="#111" >3.5</text>
<text x="310.20" y="508.23" font-size="7.8" font-family='"Liberation Serif", "Times New Roman", serif' text-anchor="end" fill="#111" >4.0</text>
</g>
<polyline points="316.20,565.89 317.33,565.71 318.45,566.06 319.58,565.67 320.71,565.62 321.83,565.94 322.96,565.84 324.09,565.93 325.22,566.11 326.34,566.26 327.47,566.55 328.60,566.15 329.72,566.81 330.85,566.88 331.98,567.73 333.11,568.32 334.23,568.85 335.36,568.62 336.49,568.80 337.61,568.03 338.74,567.81 339.87,567.05 340.99,566.70 342.12,565.44 343.25,565.47 344.38,565.37 345.50,565.36 346.63,566.22 347.76,566.71 348.88,567.96 350.01,568.56 351.14,569.63 352.26,570.32 353.39,570.31 354.52,570.29 355.64,569.49 356.77,568.97 357.90,568.22 359.03,567.69 360.15,567.32 361.28,567.08 362.41,566.97 363.53,567.39 364.66,567.78 365.79,568.15 366.92,568.34 368.04,568.72 369.17,568.46 370.30,569.08 371.42,568.93 372.55,568.46 373.68,567.86 374.80,567.59 375.93,567.39 377.06,567.23 378.19,567.44 379.31,567.95 380.44,569.27 381.57,570.07 382.69,570.91 383.82,571.04 384.95,570.85 386.07,570.74 387.20,569.44 388.33,569.17 389.45,568.69 390.58,568.31 391.71,568.02 392.84,568.01 393.96,568.01 395.09,568.26 396.22,568.33 397.34,568.87 398.47,568.86 399.60,569.01 400.73,568.84 401.85,568.76 402.98,569.02 404.11,568.66 405.23,568.35 406.36,568.15 407.49,568.34 408.61,567.87 409.74,567.71 410.87,567.59 412.00,566.87 413.12,567.12 414.25,566.69 415.38,566.33 416.50,566.21 417.63,566.22 418.76,566.24 419.88,566.99 421.01,568.13 422.14,569.26 423.26,570.49 424.39,571.46 425.52,571.15 426.65,571.64 427.77,570.87 428.90,571.00 430.03,570.61 431.15,570.35 432.28,569.87 433.41,569.93 434.54,569.43 435.66,569.70 436.79,569.87 437.92,570.15 439.04,570.18 440.17,570.43 441.30,570.29 442.42,570.64 443.55,571.24 444.68,570.79 445.81,571.52 446.93,570.56 448.06,570.46 449.19,569.12 450.31,567.83 451.44,566.83 452.57,566.02 453.69,564.90 454.82,565.17 455.95,565.27 457.08,565.18 458.20,566.19 459.33,566.72 460.46,567.38 461.58,568.27 462.71,568.82 463.84,569.43 464.96,570.06 466.09,570.55 467.22,571.25 468.35,571.93 469.47,572.29 470.60,572.87 471.73,573.02 472.85,572.85 473.98,571.98 475.11,571.04 476.23,570.41 477.36,569.88 478.49,568.83 479.62,568.10 480.74,567.92 481.87,568.03 483.00,568.08 484.12,568.39 485.25,569.14 486.38,569.20 487.50,569.76 488.63,569.88 489.76,569.91 490.88,569.88 492.01,570.01 493.14,570.03 494.27,569.74 495.39,569.30 496.52,569.31 497.65,568.95 498.77,568.76 499.90,568.83 501.03,569.39 502.15,569.76 503.28,570.15 504.41,570.94 505.54,571.85 506.66,572.11 507.79,572.84 508.92,573.77 510.04,574.50 511.17,575.52 512.30,575.66 513.42,576.22 514.55,576.55 515.68,576.17 516.81,575.54 517.93,574.80 519.06,574.04 520.19,572.97 521.31,571.09 522.44,570.85 523.57,570.02 524.70,569.15 525.82,568.67 526.95,567.94 528.08,568.14 529.20,567.91 530.33,568.48 531.46,568.14 532.58,568.35 533.71,568.66 534.84,568.95 535.97,569.27 537.09,569.61 538.22,570.28 539.35,571.48 540.47,572.10 541.60,573.50" fill="none" stroke="#56765b" stroke-width="1.05" stroke-linejoin="round" opacity="1"/>
<polyline points="316.20,624.76 317.33,624.76 318.45,624.54 319.58,624.70 320.71,624.90 321.83,625.00 322.96,624.85 324.09,624.49 325.22,624.54 326.34,624.72 327.47,624.58 328.60,624.56 329.72,624.86 330.85,624.90 331.98,624.92 333.11,624.90 334.23,624.84 335.36,625.10 336.49,625.03 337.61,625.07 338.74,625.17 339.87,624.92 340.99,624.69 342.12,624.76 343.25,624.91 344.38,624.88 345.50,624.94 346.63,624.94 347.76,624.96 348.88,624.94 350.01,625.07 351.14,625.22 352.26,625.25 353.39,625.13 354.52,625.03 355.64,625.03 356.77,624.99 357.90,625.06 359.03,624.93 360.15,624.76 361.28,624.62 362.41,623.72 363.53,622.92 364.66,624.26 365.79,626.81 366.92,628.57 368.04,627.58 369.17,625.67 370.30,624.75 371.42,625.21 372.55,626.05 373.68,626.49 374.80,626.32 375.93,626.08 377.06,626.29 378.19,626.10 379.31,626.14 380.44,626.07 381.57,625.87 382.69,625.95 383.82,625.78 384.95,625.94 386.07,626.08 387.20,626.21 388.33,626.20 389.45,625.74 390.58,625.65 391.71,625.43 392.84,625.25 393.96,625.65 395.09,625.67 396.22,625.64 397.34,625.72 398.47,625.65 399.60,625.66 400.73,625.66 401.85,625.70 402.98,625.65 404.11,625.76 405.23,626.21 406.36,625.97 407.49,625.50 408.61,625.54 409.74,625.88 410.87,626.23 412.00,625.82 413.12,625.59 414.25,625.70 415.38,625.61 416.50,626.05 417.63,625.93 418.76,625.56 419.88,625.64 421.01,625.78 422.14,625.91 423.26,625.68 424.39,625.66 425.52,625.81 426.65,625.84 427.77,625.78 428.90,625.76 430.03,625.72 431.15,625.66 432.28,625.70 433.41,625.79 434.54,626.06 435.66,626.16 436.79,625.97 437.92,626.04 439.04,625.93 440.17,625.79 441.30,625.92 442.42,626.11 443.55,626.08 444.68,626.29 445.81,626.57 446.93,626.30 448.06,626.13 449.19,626.16 450.31,626.27 451.44,626.21 452.57,626.04 453.69,626.03 454.82,625.98 455.95,626.04 457.08,626.06 458.20,625.82 459.33,625.92 460.46,626.14 461.58,626.15 462.71,626.23 463.84,625.97 464.96,625.83 466.09,626.23 467.22,626.10 468.35,625.71 469.47,625.87 470.60,625.92 471.73,625.88 472.85,626.06 473.98,626.26 475.11,626.01 476.23,625.75 477.36,625.96 478.49,625.98 479.62,625.86 480.74,625.98 481.87,625.91 483.00,625.70 484.12,626.01 485.25,626.41 486.38,626.32 487.50,626.06 488.63,625.83 489.76,625.66 490.88,625.84 492.01,625.88 493.14,625.98 494.27,625.71 495.39,625.37 496.52,625.49 497.65,625.62 498.77,625.78 499.90,625.78 501.03,625.66 502.15,625.69 503.28,626.12 504.41,626.25 505.54,626.54 506.66,627.08 507.79,627.32 508.92,627.18 510.04,627.39 511.17,627.49 512.30,627.34 513.42,627.43 514.55,627.47 515.68,627.28 516.81,627.28 517.93,627.27 519.06,627.40 520.19,627.36 521.31,627.31 522.44,627.49 523.57,627.48 524.70,627.28 525.82,627.34 526.95,627.54 528.08,627.67 529.20,627.57 530.33,627.46 531.46,627.73 532.58,627.82 533.71,627.37 534.84,627.00 535.97,627.15 537.09,627.45 538.22,627.25 539.35,627.22 540.47,627.37 541.60,627.04" fill="none" stroke="#e3708c" stroke-width="1.05" stroke-linejoin="round" opacity="1"/>
<polyline points="316.20,645.14 317.33,645.31 318.45,645.71 319.58,645.39 320.71,645.38 321.83,645.35 322.96,645.03 324.09,644.95 325.22,645.02 326.34,645.30 327.47,645.26 328.60,645.10 329.72,644.82 330.85,644.72 331.98,644.85 333.11,644.81 334.23,644.44 335.36,644.48 336.49,644.79 337.61,644.62 338.74,644.33 339.87,644.56 340.99,644.81 342.12,644.67 343.25,644.70 344.38,645.27 345.50,645.39 346.63,645.16 347.76,645.09 348.88,645.19 350.01,645.79 351.14,645.51 352.26,645.55 353.39,646.05 354.52,646.19 355.64,646.62 356.77,646.45 357.90,646.87 359.03,647.85 360.15,647.57 361.28,646.80 362.41,645.64 363.53,644.71 364.66,645.32 365.79,646.10 366.92,647.11 368.04,648.06 369.17,647.43 370.30,646.18 371.42,644.75 372.55,643.69 373.68,644.38 374.80,645.67 375.93,646.25 377.06,646.90 378.19,646.68 379.31,645.08 380.44,644.15 381.57,643.81 382.69,643.80 383.82,644.64 384.95,645.33 386.07,645.08 387.20,644.75 388.33,644.28 389.45,644.65 390.58,645.02 391.71,644.76 392.84,645.07 393.96,645.20 395.09,644.97 396.22,644.63 397.34,644.61 398.47,644.36 399.60,643.91 400.73,643.86 401.85,643.22 402.98,642.63 404.11,642.94 405.23,643.16 406.36,643.57 407.49,644.26 408.61,644.53 409.74,644.43 410.87,644.81 412.00,644.43 413.12,644.24 414.25,644.59 415.38,644.46 416.50,644.72 417.63,644.83 418.76,644.77 419.88,644.36 421.01,644.20 422.14,644.22 423.26,644.38 424.39,644.71 425.52,644.80 426.65,644.96 427.77,644.85 428.90,645.12 430.03,644.98 431.15,644.43 432.28,644.66 433.41,645.13 434.54,645.34 435.66,645.37 436.79,645.05 437.92,645.17 439.04,645.57 440.17,645.28 441.30,645.18 442.42,645.37 443.55,645.17 444.68,644.91 445.81,645.36 446.93,645.62 448.06,645.01 449.19,644.66 450.31,644.83 451.44,645.06 452.57,645.17 453.69,645.07 454.82,644.98 455.95,644.85 457.08,644.53 458.20,644.76 459.33,644.91 460.46,644.69 461.58,644.54 462.71,644.61 463.84,644.87 464.96,644.80 466.09,644.78 467.22,644.85 468.35,644.56 469.47,645.10 470.60,645.16 471.73,644.01 472.85,644.17 473.98,644.60 475.11,644.08 476.23,643.75 477.36,643.79 478.49,644.19 479.62,644.63 480.74,644.24 481.87,643.46 483.00,643.90 484.12,644.35 485.25,644.15 486.38,644.12 487.50,643.89 488.63,643.64 489.76,643.64 490.88,644.02 492.01,644.12 493.14,644.19 494.27,644.41 495.39,644.14 496.52,644.06 497.65,644.41 498.77,644.50 499.90,644.48 501.03,644.83 502.15,645.15 503.28,644.83 504.41,644.58 505.54,644.84 506.66,644.85 507.79,644.44 508.92,644.88 510.04,645.09 511.17,644.58 512.30,644.80 513.42,645.30 514.55,645.46 515.68,645.10 516.81,644.70 517.93,645.00 519.06,645.44 520.19,645.51 521.31,645.50 522.44,645.46 523.57,645.21 524.70,645.38 525.82,645.73 526.95,645.61 528.08,645.43 529.20,645.64 530.33,646.09 531.46,646.08 532.58,645.97 533.71,646.00 534.84,646.01 535.97,645.92 537.09,645.81 538.22,646.04 539.35,646.19 540.47,646.13 541.60,645.99" fill="none" stroke="#3b8bd0" stroke-width="1.35" stroke-linejoin="round" opacity="1"/>
<polyline points="316.20,662.49 317.33,662.30 318.45,662.35 319.58,662.32 320.71,662.07 321.83,661.91 322.96,662.08 324.09,662.09 325.22,661.85 326.34,661.80 327.47,661.54 328.60,661.68 329.72,661.50 330.85,661.06 331.98,661.26 333.11,661.25 334.23,661.20 335.36,661.26 336.49,660.87 337.61,660.65 338.74,660.99 339.87,660.95 340.99,660.53 342.12,660.37 343.25,660.01 344.38,659.71 345.50,659.99 346.63,659.86 347.76,659.97 348.88,660.17 350.01,659.82 351.14,659.64 352.26,659.45 353.39,659.52 354.52,659.62 355.64,659.26 356.77,658.43 357.90,657.29 359.03,656.82 360.15,657.52 361.28,658.92 362.41,660.17 363.53,660.80 364.66,660.17 365.79,659.24 366.92,658.94 368.04,659.01 369.17,659.20 370.30,659.04 371.42,658.83 372.55,658.87 373.68,658.56 374.80,658.28 375.93,658.10 377.06,657.64 378.19,657.79 379.31,657.78 380.44,657.50 381.57,657.43 382.69,657.33 383.82,657.30 384.95,657.29 386.07,657.43 387.20,657.21 388.33,657.03 389.45,657.13 390.58,657.00 391.71,656.76 392.84,656.47 393.96,656.47 395.09,656.82 396.22,656.91 397.34,656.51 398.47,656.41 399.60,656.46 400.73,656.38 401.85,656.41 402.98,656.51 404.11,656.33 405.23,656.21 406.36,656.43 407.49,656.40 408.61,656.47 409.74,656.32 410.87,655.99 412.00,655.79 413.12,655.82 414.25,656.01 415.38,656.03 416.50,656.10 417.63,656.15 418.76,656.04 419.88,655.88 421.01,655.58 422.14,655.37 423.26,655.32 424.39,655.40 425.52,655.53 426.65,655.73 427.77,656.09 428.90,655.82 430.03,655.65 431.15,655.72 432.28,655.45 433.41,655.42 434.54,655.41 435.66,655.28 436.79,654.94 437.92,654.91 439.04,655.17 440.17,655.30 441.30,655.26 442.42,655.24 443.55,655.09 444.68,654.90 445.81,654.83 446.93,654.70 448.06,655.05 449.19,655.07 450.31,654.69 451.44,654.71 452.57,654.51 453.69,654.51 454.82,654.83 455.95,655.07 457.08,655.04 458.20,654.73 459.33,654.51 460.46,654.72 461.58,654.81 462.71,654.54 463.84,654.50 464.96,654.37 466.09,654.29 467.22,654.40 468.35,654.55 469.47,654.45 470.60,654.20 471.73,654.34 472.85,654.36 473.98,653.96 475.11,654.30 476.23,654.43 477.36,654.18 478.49,654.40 479.62,654.42 480.74,654.37 481.87,654.49 483.00,654.46 484.12,654.32 485.25,654.42 486.38,654.49 487.50,654.48 488.63,654.36 489.76,654.05 490.88,653.93 492.01,654.24 493.14,654.34 494.27,653.85 495.39,653.77 496.52,654.06 497.65,654.38 498.77,654.31 499.90,654.22 501.03,654.16 502.15,653.41 503.28,653.40 504.41,654.25 505.54,654.85 506.66,655.17 507.79,655.86 508.92,656.59 510.04,656.21 511.17,655.38 512.30,655.05 513.42,654.99 514.55,655.09 515.68,655.05 516.81,654.78 517.93,654.82 519.06,654.78 520.19,654.76 521.31,654.99 522.44,655.11 523.57,655.08 524.70,655.09 525.82,654.94 526.95,654.77 528.08,654.52 529.20,654.51 530.33,654.87 531.46,654.81 532.58,654.57 533.71,654.70 534.84,654.63 535.97,654.51 537.09,654.79 538.22,654.63 539.35,654.69 540.47,654.86 541.60,654.47" fill="none" stroke="#55c894" stroke-width="1.05" stroke-linejoin="round" opacity="1"/>
<polyline points="316.20,672.14 317.33,672.19 318.45,672.19 319.58,672.05 320.71,672.07 321.83,672.15 322.96,672.15 324.09,672.03 325.22,672.18 326.34,672.16 327.47,672.07 328.60,672.24 329.72,672.24 330.85,672.28 331.98,672.26 333.11,672.16 334.23,672.10 335.36,672.11 336.49,672.16 337.61,672.12 338.74,672.20 339.87,672.23 340.99,672.11 342.12,672.08 343.25,672.00 344.38,672.27 345.50,672.38 346.63,672.21 347.76,672.27 348.88,672.43 350.01,672.27 351.14,672.00 352.26,672.03 353.39,672.11 354.52,672.20 355.64,672.20 356.77,672.16 357.90,672.44 359.03,672.29 360.15,671.60 361.28,671.43 362.41,671.73 363.53,671.74 364.66,671.84 365.79,672.03 366.92,671.69 368.04,671.15 369.17,670.78 370.30,670.95 371.42,671.23 372.55,671.38 373.68,671.66 374.80,671.62 375.93,671.61 377.06,671.89 378.19,671.94 379.31,671.92 380.44,672.05 381.57,672.26 382.69,672.44 383.82,672.48 384.95,672.29 386.07,672.45 387.20,672.49 388.33,672.22 389.45,672.12 390.58,672.20 391.71,672.41 392.84,672.48 393.96,672.43 395.09,672.24 396.22,672.31 397.34,672.31 398.47,672.18 399.60,672.12 400.73,672.10 401.85,672.17 402.98,672.23 404.11,672.29 405.23,672.24 406.36,672.25 407.49,672.14 408.61,672.08 409.74,672.19 410.87,672.15 412.00,671.97 413.12,671.86 414.25,671.82 415.38,671.91 416.50,672.07 417.63,671.98 418.76,671.97 419.88,671.90 421.01,671.86 422.14,672.06 423.26,672.14 424.39,672.21 425.52,672.22 426.65,672.04 427.77,672.02 428.90,672.12 430.03,672.11 431.15,672.01 432.28,672.00 433.41,672.03 434.54,671.92 435.66,671.94 436.79,672.11 437.92,671.97 439.04,671.82 440.17,671.78 441.30,671.86 442.42,672.01 443.55,671.97 444.68,671.95 445.81,671.93 446.93,671.98 448.06,671.81 449.19,671.72 450.31,671.97 451.44,672.17 452.57,672.14 453.69,672.04 454.82,672.16 455.95,672.02 457.08,671.78 458.20,671.89 459.33,672.02 460.46,671.89 461.58,672.03 462.71,672.36 463.84,672.33 464.96,672.30 466.09,672.29 467.22,672.30 468.35,672.28 469.47,672.24 470.60,672.33 471.73,672.26 472.85,672.05 473.98,672.08 475.11,672.11 476.23,672.07 477.36,672.02 478.49,672.09 479.62,672.21 480.74,672.30 481.87,672.34 483.00,672.03 484.12,671.91 485.25,672.14 486.38,672.12 487.50,672.17 488.63,672.30 489.76,672.01 490.88,672.07 492.01,672.31 493.14,672.25 494.27,672.26 495.39,672.35 496.52,672.24 497.65,672.24 498.77,672.34 499.90,672.24 501.03,672.34 502.15,672.38 503.28,672.52 504.41,672.53 505.54,672.50 506.66,672.55 507.79,672.45 508.92,672.29 510.04,672.26 511.17,672.34 512.30,672.25 513.42,672.32 514.55,672.44 515.68,672.46 516.81,672.51 517.93,672.40 519.06,672.43 520.19,672.47 521.31,672.50 522.44,672.61 523.57,672.53 524.70,672.54 525.82,672.51 526.95,672.68 528.08,672.57 529.20,672.31 530.33,672.58 531.46,672.70 532.58,672.55 533.71,672.48 534.84,672.55 535.97,672.75 537.09,672.65 538.22,672.51 539.35,672.49 540.47,672.49 541.60,672.57" fill="none" stroke="#ad8fe0" stroke-width="1.05" stroke-linejoin="round" opacity="1"/>
<polyline points="316.20,680.42 317.33,680.21 318.45,680.31 319.58,680.52 320.71,680.58 321.83,680.69 322.96,680.63 324.09,680.53 325.22,680.33 326.34,680.31 327.47,680.32 328.60,680.32 329.72,680.33 330.85,680.14 331.98,680.08 333.11,680.14 334.23,680.32 335.36,680.50 336.49,680.30 337.61,680.16 338.74,680.32 339.87,680.34 340.99,680.50 342.12,680.54 343.25,680.36 344.38,680.31 345.50,680.50 346.63,680.57 347.76,680.54 348.88,680.57 350.01,680.47 351.14,680.45 352.26,680.36 353.39,680.38 354.52,680.50 355.64,680.40 356.77,680.62 357.90,680.77 359.03,680.62 360.15,680.62 361.28,680.54 362.41,680.80 363.53,681.37 364.66,681.78 365.79,681.22 366.92,680.36 368.04,679.56 369.17,678.99 370.30,679.82 371.42,681.22 372.55,682.05 373.68,681.48 374.80,680.00 375.93,678.38 377.06,677.51 378.19,678.63 379.31,680.04 380.44,680.72 381.57,680.91 382.69,680.59 383.82,680.29 384.95,680.24 386.07,680.27 387.20,680.23 388.33,680.18 389.45,680.15 390.58,680.19 391.71,680.22 392.84,680.19 393.96,680.20 395.09,680.11 396.22,680.03 397.34,680.25 398.47,680.21 399.60,680.12 400.73,680.20 401.85,680.11 402.98,680.05 404.11,679.92 405.23,679.84 406.36,680.01 407.49,680.11 408.61,680.09 409.74,680.06 410.87,680.08 412.00,680.04 413.12,679.99 414.25,679.88 415.38,679.88 416.50,679.99 417.63,680.10 418.76,680.21 419.88,680.24 421.01,680.19 422.14,680.06 423.26,679.95 424.39,680.06 425.52,680.24 426.65,680.09 427.77,679.92 428.90,680.01 430.03,680.07 431.15,680.08 432.28,680.18 433.41,680.22 434.54,680.15 435.66,680.07 436.79,679.95 437.92,679.98 439.04,680.12 440.17,680.27 441.30,680.22 442.42,680.07 443.55,679.98 444.68,680.14 445.81,680.24 446.93,680.21 448.06,680.12 449.19,679.92 450.31,680.12 451.44,680.24 452.57,680.06 453.69,680.01 454.82,680.04 455.95,679.99 457.08,680.12 458.20,680.28 459.33,680.11 460.46,680.06 461.58,680.29 462.71,680.12 463.84,680.10 464.96,680.23 466.09,680.13 467.22,679.97 468.35,679.83 469.47,679.88 470.60,680.20 471.73,680.30 472.85,680.39 473.98,680.53 475.11,680.34 476.23,680.34 477.36,680.35 478.49,680.18 479.62,680.11 480.74,680.23 481.87,680.34 483.00,680.39 484.12,680.30 485.25,680.09 486.38,680.09 487.50,680.34 488.63,680.48 489.76,680.50 490.88,680.40 492.01,680.20 493.14,680.03 494.27,680.09 495.39,680.22 496.52,680.28 497.65,680.59 498.77,680.44 499.90,680.25 501.03,680.28 502.15,679.83 503.28,679.49 504.41,679.76 505.54,680.21 506.66,680.33 507.79,680.22 508.92,680.42 510.04,680.31 511.17,680.29 512.30,680.44 513.42,680.28 514.55,680.36 515.68,680.34 516.81,680.38 517.93,680.54 519.06,680.41 520.19,680.39 521.31,680.46 522.44,680.22 523.57,680.21 524.70,680.42 525.82,680.39 526.95,680.29 528.08,680.37 529.20,680.50 530.33,680.45 531.46,680.44 532.58,680.56 533.71,680.44 534.84,680.32 535.97,680.52 537.09,680.70 538.22,680.49 539.35,680.22 540.47,680.37 541.60,680.51" fill="none" stroke="#d4ac34" stroke-width="1.05" stroke-linejoin="round" opacity="1"/>
<rect x="506" y="507" width="33" height="59" fill="#fff" stroke="#a8a8a8" stroke-width="0.9"/>
<line x1="507" y1="512.60" x2="524" y2="512.60" stroke="#6f8a72" stroke-width="1.4"/>
<text x="526.60" y="515.18" font-size="7.6" font-family='"Liberation Serif", "Times New Roman", serif' text-anchor="start" fill="#111" >0°</text>
<line x1="507" y1="522.20" x2="524" y2="522.20" stroke="#e57a92" stroke-width="1.4"/>
<text x="526.60" y="524.78" font-size="7.6" font-family='"Liberation Serif", "Times New Roman", serif' text-anchor="start" fill="#111" >15°</text>
<line x1="507" y1="531.80" x2="524" y2="531.80" stroke="#4690d2" stroke-width="2.2"/>
<text x="526.60" y="534.38" font-size="7.6" font-family='"Liberation Serif", "Times New Roman", serif' text-anchor="start" fill="#111" >30°</text>
<line x1="507" y1="541.40" x2="524" y2="541.40" stroke="#62c99a" stroke-width="1.4"/>
<text x="526.60" y="543.98" font-size="7.6" font-family='"Liberation Serif", "Times New Roman", serif' text-anchor="start" fill="#111" >45°</text>
<line x1="507" y1="551.00" x2="524" y2="551.00" stroke="#a98fdc" stroke-width="1.4"/>
<text x="526.60" y="553.58" font-size="7.6" font-family='"Liberation Serif", "Times New Roman", serif' text-anchor="start" fill="#111" >60°</text>
<line x1="507" y1="560.60" x2="524" y2="560.60" stroke="#d6b445" stroke-width="2.2"/>
<text x="526.60" y="563.18" font-size="7.6" font-family='"Liberation Serif", "Times New Roman", serif' text-anchor="start" fill="#111" >75°</text>
<text class="b" x="429.00" y="704.60" font-size="9.2" font-family='"Liberation Serif", "Times New Roman", serif' text-anchor="middle" fill="#111" >λ (nm)</text>
<text class="b" transform="translate(296.8,591) rotate(-90)" font-size="9.2" font-family='"Liberation Serif", "Times New Roman", serif' text-anchor="middle" fill="#111">spectral reflectance</text>
</svg></body></html>
